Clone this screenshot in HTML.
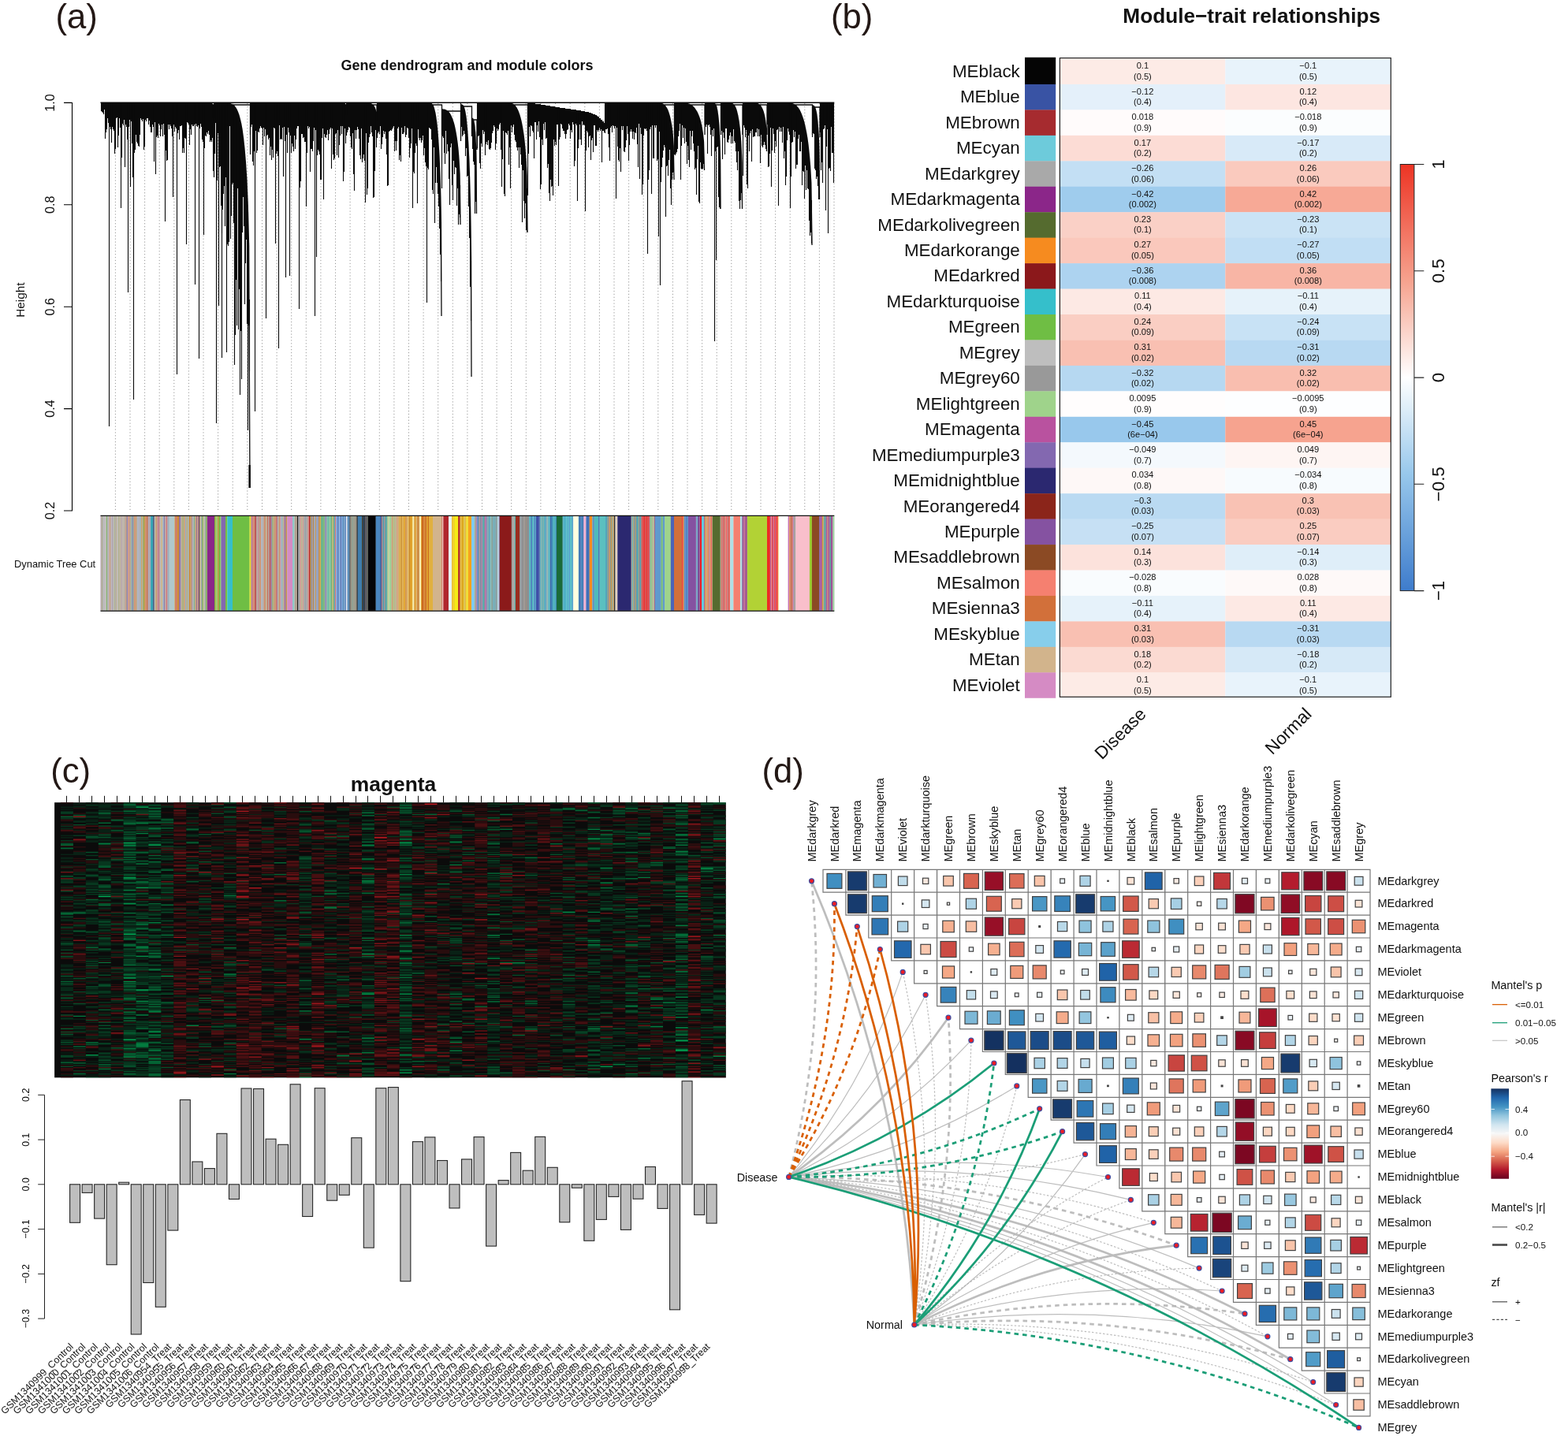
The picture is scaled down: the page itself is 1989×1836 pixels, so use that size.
<!DOCTYPE html>
<html lang="en"><head><meta charset="utf-8"><title>WGCNA figure</title>
<style>html,body{margin:0;padding:0;background:#fff;width:1989px;height:1836px;overflow:hidden}svg{display:block}text{font-family:"Liberation Sans",sans-serif;fill:#111}.pl{fill:#231815}</style></head>
<body>
<svg width="1989" height="1836" viewBox="0 0 1989 1836">
<rect width="1989" height="1836" fill="#fff"/>
<g class="pl" font-size="43.6"><text class="pl" x="70.4" y="36.3">(a)</text><text class="pl" x="1054" y="36.1">(b)</text><text class="pl" x="64.3" y="993.2">(c)</text><text class="pl" x="966.6" y="992.5">(d)</text></g>
<g id="pa"><path d="M146.4 131V648M165 131V648M183.6 131V648M202.2 131V648M220.8 131V648M239.4 131V648M258 131V648M276.6 131V648M295.2 131V648M313.8 131V648M332.5 131V648M351.1 131V648M369.7 131V648M388.3 131V648M406.9 131V648M425.5 131V648M444.1 131V648M462.7 131V648M481.3 131V648M499.9 131V648M518.5 131V648M537.1 131V648M555.7 131V648M574.3 131V648M592.9 131V648M611.5 131V648M630.1 131V648M648.7 131V648M667.3 131V648M685.9 131V648M704.6 131V648M723.2 131V648M741.8 131V648M760.4 131V648M779 131V648M797.6 131V648M816.2 131V648M834.8 131V648M853.4 131V648M872 131V648M890.6 131V648M909.2 131V648M927.8 131V648M946.4 131V648M965 131V648M983.6 131V648M1002.2 131V648M1020.8 131V648M1039.4 131V648M1058 131V648" stroke="#969696" stroke-width="1" stroke-dasharray="1.2 2.7" fill="none"/>
<path d="M128.5 131V141M129.5 131V142M130.5 131V143M131.5 131V145M132.5 131V139M133.5 131V176M134.5 131V168M135.5 131V164M136.5 131V150M137.5 131V156M138.5 131V160M139.5 131V161M140.5 131V164M141.5 131V162M142.5 131V161M143.5 131V164M144.5 131V166M145.5 131V195M146.5 131V189M147.5 131V150M148.5 131V149M149.5 131V187M150.5 131V172M151.5 131V150M152.5 131V162M153.5 131V210M154.5 131V200M155.5 131V157M156.5 131V159M157.5 131V152M158.5 131V212M159.5 131V158M160.5 131V161M161.5 131V177M162.5 131V180M163.5 131V161M164.5 131V152M165.5 131V153M166.5 131V154M167.5 131V182M168.5 131V225M169.5 131V227M170.5 131V194M171.5 131V190M172.5 131V171M173.5 131V180M174.5 131V182M175.5 131V185M176.5 131V186M177.5 131V171M178.5 131V150M179.5 131V152M180.5 131V154M181.5 131V151M182.5 131V190M183.5 131V186M184.5 131V152M185.5 131V154M186.5 131V150M187.5 131V150M188.5 131V158M189.5 131V153M190.5 131V161M191.5 131V168M192.5 131V168M193.5 131V158M194.5 131V161M195.5 131V161M196.5 131V155M197.5 131V221M198.5 131V174M199.5 131V172M200.5 131V175M201.5 131V157M202.5 131V159M203.5 131V173M204.5 131V164M205.5 131V158M206.5 131V173M207.5 131V157M208.5 131V171M209.5 131V198M210.5 131V191M211.5 131V204M212.5 131V203M213.5 131V158M214.5 131V164M215.5 131V158M216.5 131V160M217.5 131V163M218.5 131V173M219.5 131V159M220.5 131V158M221.5 131V167M222.5 131V161M223.5 131V163M224.5 131V160M225.5 131V169M226.5 131V165M227.5 131V177M228.5 131V160M229.5 131V160M230.5 131V159M231.5 131V194M232.5 131V188M233.5 131V194M234.5 131V175M235.5 131V176M236.5 131V171M237.5 131V155M238.5 131V156M239.5 131V158M240.5 131V184M241.5 131V164M242.5 131V171M243.5 131V158M244.5 131V160M245.5 131V160M246.5 131V158M247.5 131V157M248.5 131V157M249.5 131V160M250.5 131V161M251.5 131V159M252.5 131V156M253.5 131V163M254.5 131V157M255.5 131V161M256.5 131V177M257.5 131V180M258.5 131V179M259.5 131V188M260.5 131V172M261.5 131V173M262.5 131V168M263.5 131V170M264.5 131V166M265.5 131V171M266.5 131V180M267.5 131V178M268.5 131V180M269.5 133V175M270.5 150V217M271.5 131V224M272.5 131V195M273.5 131V156M274.5 131V201M275.5 131V229M276.5 131V169M277.5 131V294M278.5 131V212M279.5 131V211M280.5 131V261M281.5 131V296M282.5 131V266M283.5 131V246M284.5 131V236M285.5 131V236M286.5 131V225M287.5 131V254M288.5 131V310M289.5 131V312M290.5 131V307M291.5 131V160M292.5 132V303M293.5 132V274M294.5 133V234M295.5 133V232M296.5 134V283M297.5 135V337M298.5 136V168M299.5 138V355M300.5 140V413M301.5 142V239M302.5 145V418M303.5 148V367M304.5 152V297M305.5 156V420M306.5 162V217M307.5 168V295M308.5 175V250M309.5 184V287M310.5 195V386M311.5 207V334M312.5 223V304M313.5 243V411M314.5 269V546M315.5 308V413M316.5 380V471M317.5 131V196M318.5 131V161M319.5 131V158M320.5 131V205M321.5 131V210M322.5 131V192M323.5 131V193M324.5 131V166M325.5 131V194M326.5 131V191M327.5 131V167M328.5 131V168M329.5 131V163M330.5 131V160M331.5 131V162M332.5 131V163M333.5 131V184M334.5 131V162M335.5 131V173M336.5 131V164M337.5 131V162M338.5 131V172M339.5 131V171M340.5 131V177M341.5 131V175M342.5 131V197M343.5 131V186M344.5 131V203M345.5 131V190M346.5 131V200M347.5 131V162M348.5 131V163M349.5 131V164M350.5 131V195M351.5 131V192M352.5 131V198M353.5 131V183M354.5 131V159M355.5 131V177M356.5 131V176M357.5 131V177M358.5 131V162M359.5 131V224M360.5 131V161M361.5 131V179M362.5 131V168M363.5 131V171M364.5 131V194M365.5 131V162M366.5 131V168M367.5 131V166M368.5 131V172M369.5 131V194M370.5 131V182M371.5 131V186M372.5 131V192M373.5 131V172M374.5 131V189M375.5 131V177M376.5 131V163M377.5 131V160M378.5 131V160M379.5 131V185M380.5 131V238M381.5 131V230M382.5 131V170M383.5 131V170M384.5 131V175M385.5 131V174M386.5 131V180M387.5 131V180M388.5 131V185M389.5 131V194M390.5 131V160M391.5 131V163M392.5 131V161M393.5 131V218M394.5 131V189M395.5 131V189M396.5 131V192M397.5 131V179M398.5 131V162M399.5 131V161M400.5 131V165M401.5 131V162M402.5 131V197M403.5 131V190M404.5 131V192M405.5 131V196M406.5 131V228M407.5 131V228M408.5 131V175M409.5 131V163M410.5 131V160M411.5 131V170M412.5 131V174M413.5 131V175M414.5 131V171M415.5 131V165M416.5 131V178M417.5 131V170M418.5 131V164M419.5 131V162M420.5 131V165M421.5 131V163M422.5 131V196M423.5 131V203M424.5 131V201M425.5 131V170M426.5 131V169M427.5 131V197M428.5 131V165M429.5 131V200M430.5 131V184M431.5 131V172M432.5 131V160M433.5 131V170M434.5 131V160M435.5 131V217M436.5 131V218M437.5 132V163M438.5 135V182M439.5 131V172M440.5 131V168M441.5 131V165M442.5 131V161M443.5 131V162M444.5 131V173M445.5 131V187M446.5 131V189M447.5 131V169M448.5 131V221M449.5 131V242M450.5 131V165M451.5 131V176M452.5 131V165M453.5 131V161M454.5 131V164M455.5 131V176M456.5 131V197M457.5 131V202M458.5 131V163M459.5 131V206M460.5 131V201M461.5 131V196M462.5 131V204M463.5 131V166M464.5 131V169M465.5 131V247M466.5 131V239M467.5 131V181M468.5 131V174M469.5 131V170M470.5 132V160M471.5 132V168M472.5 133V173M473.5 134V251M474.5 135V250M475.5 138V174M476.5 141V165M477.5 154V187M478.5 131V175M479.5 131V169M480.5 131V167M481.5 131V170M482.5 131V160M483.5 131V189M484.5 131V183M485.5 131V174M486.5 131V166M487.5 131V170M488.5 131V167M489.5 131V176M490.5 131V196M491.5 131V236M492.5 131V235M493.5 131V167M494.5 131V166M495.5 131V165M496.5 131V166M497.5 131V164M498.5 131V162M499.5 131V160M500.5 131V192M501.5 131V179M502.5 131V191M503.5 131V179M504.5 131V163M505.5 131V161M506.5 131V184M507.5 131V197M508.5 131V205M509.5 131V162M510.5 131V170M511.5 131V170M512.5 131V168M513.5 131V160M514.5 131V174M515.5 131V171M516.5 131V162M517.5 131V163M518.5 131V175M519.5 131V200M520.5 131V188M521.5 131V182M522.5 131V163M523.5 131V192M524.5 131V218M525.5 131V220M526.5 131V194M527.5 131V182M528.5 131V185M529.5 131V166M530.5 131V164M531.5 131V175M532.5 131V178M533.5 131V175M534.5 131V181M535.5 131V178M536.5 131V172M537.5 131V197M538.5 131V188M539.5 131V206M540.5 131V211M541.5 131V171M542.5 131V213M543.5 131V215M544.5 131V162M545.5 131V163M546.5 131V164M547.5 132V177M548.5 133V241M549.5 135V246M550.5 138V187M551.5 142V283M552.5 147V232M553.5 154V212M554.5 163V232M555.5 175V246M556.5 190V262M557.5 211V290M558.5 240V323M559.5 291V357M560.5 139V239M561.5 139V173M562.5 139V175M563.5 139V194M564.5 139V208M565.5 140V166M566.5 140V195M567.5 141V183M568.5 142V192M569.5 143V227M570.5 145V260M571.5 146V187M572.5 148V182M573.5 151V218M574.5 154V254M575.5 157V204M576.5 161V221M577.5 165V212M578.5 171V213M579.5 178V261M580.5 186V239M581.5 196V279M582.5 210V272M583.5 235V276M584.5 131V167M585.5 133V161M586.5 133V173M587.5 134V171M588.5 137V166M589.5 140V170M590.5 146V198M591.5 154V188M592.5 164V224M593.5 179V223M594.5 198V262M595.5 224V302M596.5 262V364M597.5 331V407M598.5 150V169M599.5 150V189M600.5 152V205M601.5 157V209M602.5 167V256M603.5 186V256M604.5 271V271M605.5 131V188M606.5 131V173M607.5 131V172M608.5 131V207M609.5 131V214M610.5 131V182M611.5 131V186M612.5 131V165M613.5 131V170M614.5 131V167M615.5 131V161M616.5 131V183M617.5 131V180M618.5 131V184M619.5 131V178M620.5 131V189M621.5 131V190M622.5 131V188M623.5 131V181M624.5 131V169M625.5 131V166M626.5 131V159M627.5 131V161M628.5 131V190M629.5 131V182M630.5 131V163M631.5 131V166M632.5 131V164M633.5 131V158M634.5 131V156M635.5 131V159M636.5 131V237M637.5 131V202M638.5 131V166M639.5 131V246M640.5 131V249M641.5 131V168M642.5 131V169M643.5 131V171M644.5 131V166M645.5 131V209M646.5 131V187M647.5 131V239M648.5 131V159M649.5 132V168M650.5 132V161M651.5 133V158M652.5 134V171M653.5 135V178M654.5 136V180M655.5 138V187M656.5 140V191M657.5 142V187M658.5 145V203M659.5 148V187M660.5 152V196M661.5 156V209M662.5 161V282M663.5 168V216M664.5 175V255M665.5 184V277M666.5 196V258M667.5 212V292M668.5 239V285M669.5 131V248M670.5 131V195M671.5 131V161M672.5 131V173M673.5 131V159M674.5 131V160M675.5 131V166M676.5 131V168M677.5 131V201M678.5 131V155M679.5 132V155M680.5 132V177M681.5 132V159M682.5 132V167M683.5 132V154M684.5 132V174M685.5 132V240M686.5 133V234M687.5 133V177M688.5 133V184M689.5 133V157M690.5 133V165M691.5 133V155M692.5 134V176M693.5 134V175M694.5 134V213M695.5 134V208M696.5 134V245M697.5 134V255M698.5 135V228M699.5 135V237M700.5 135V236M701.5 135V248M702.5 135V177M703.5 135V185M704.5 136V180M705.5 136V184M706.5 136V158M707.5 136V158M708.5 136V236M709.5 136V177M710.5 137V174M711.5 137V157M712.5 137V158M713.5 137V163M714.5 137V166M715.5 137V166M716.5 137V170M717.5 138V176M718.5 138V170M719.5 138V165M720.5 138V164M721.5 138V157M722.5 138V159M723.5 138V176M724.5 139V165M725.5 139V168M726.5 139V155M727.5 139V158M728.5 139V211M729.5 139V204M730.5 139V157M731.5 140V159M732.5 140V155M733.5 140V188M734.5 140V177M735.5 140V158M736.5 140V177M737.5 141V184M738.5 141V154M739.5 141V159M740.5 141V158M741.5 141V159M742.5 142V156M743.5 142V191M744.5 142V166M745.5 142V168M746.5 142V187M747.5 143V173M748.5 143V172M749.5 143V203M750.5 144V178M751.5 144V175M752.5 145V193M753.5 145V159M754.5 145V159M755.5 146V185M756.5 146V185M757.5 147V165M758.5 148V167M759.5 148V165M760.5 150V162M761.5 150V166M762.5 152V164M763.5 152V178M764.5 154V166M765.5 154V166M766.5 156V168M767.5 131V169M768.5 131V164M769.5 131V164M770.5 131V163M771.5 131V170M772.5 131V187M773.5 131V188M774.5 131V162M775.5 131V160M776.5 131V168M777.5 131V159M778.5 131V160M779.5 131V163M780.5 131V160M781.5 131V252M782.5 131V162M783.5 131V186M784.5 131V164M785.5 131V205M786.5 131V188M787.5 131V218M788.5 131V160M789.5 131V165M790.5 131V160M791.5 131V192M792.5 131V193M793.5 131V187M794.5 131V178M795.5 131V160M796.5 131V170M797.5 131V177M798.5 131V184M799.5 131V167M800.5 131V164M801.5 131V167M802.5 131V176M803.5 131V167M804.5 131V177M805.5 131V168M806.5 131V169M807.5 131V162M808.5 131V183M809.5 131V212M810.5 131V157M811.5 131V227M812.5 131V162M813.5 131V170M814.5 131V247M815.5 131V234M816.5 131V172M817.5 131V163M818.5 131V164M819.5 131V163M820.5 131V166M821.5 131V171M822.5 131V228M823.5 131V216M824.5 131V164M825.5 131V161M826.5 131V170M827.5 131V159M828.5 131V201M829.5 131V201M830.5 131V159M831.5 131V162M832.5 131V159M833.5 131V204M834.5 131V202M835.5 131V244M836.5 131V167M837.5 131V216M838.5 131V231M839.5 132V212M840.5 132V200M841.5 133V191M842.5 133V184M843.5 134V187M844.5 136V191M845.5 137V211M846.5 139V210M847.5 142V223M848.5 145V203M849.5 148V190M850.5 153V239M851.5 158V260M852.5 165V214M853.5 175V219M854.5 192V218M855.5 131V196M856.5 131V197M857.5 131V195M858.5 131V193M859.5 131V189M860.5 131V173M861.5 131V166M862.5 131V157M863.5 131V176M864.5 131V185M865.5 131V159M866.5 131V175M867.5 131V162M868.5 131V182M869.5 131V163M870.5 131V180M871.5 131V208M872.5 132V185M873.5 132V203M874.5 132V212M875.5 133V166M876.5 133V190M877.5 134V173M878.5 135V166M879.5 136V182M880.5 137V192M881.5 138V215M882.5 140V213M883.5 141V187M884.5 143V202M885.5 145V185M886.5 148V256M887.5 151V258M888.5 154V206M889.5 159V214M890.5 164V215M891.5 171V214M892.5 180V208M893.5 216V216M894.5 131V159M895.5 131V161M896.5 131V158M897.5 131V195M898.5 131V159M899.5 131V158M900.5 131V161M901.5 131V171M902.5 131V198M903.5 131V165M904.5 131V173M905.5 131V163M906.5 131V160M907.5 133V192M908.5 135V179M909.5 139V187M910.5 145V186M911.5 155V250M912.5 171V263M913.5 200V265M914.5 131V164M915.5 131V166M916.5 131V202M917.5 131V168M918.5 131V175M919.5 131V196M920.5 131V163M921.5 131V163M922.5 131V180M923.5 131V181M924.5 131V177M925.5 131V172M926.5 131V168M927.5 131V182M928.5 131V173M929.5 132V182M930.5 133V164M931.5 134V179M932.5 136V181M933.5 138V192M934.5 141V206M935.5 146V216M936.5 151V192M937.5 157V255M938.5 166V220M939.5 178V254M940.5 196V245M941.5 265V265M942.5 131V223M943.5 131V159M944.5 131V162M945.5 131V174M946.5 131V165M947.5 131V234M948.5 131V239M949.5 131V172M950.5 131V192M951.5 131V169M952.5 131V166M953.5 131V205M954.5 131V164M955.5 131V174M956.5 131V173M957.5 131V173M958.5 131V168M959.5 131V168M960.5 131V163M961.5 132V173M962.5 132V164M963.5 133V173M964.5 134V175M965.5 136V171M966.5 138V185M967.5 140V187M968.5 143V184M969.5 147V180M970.5 152V184M971.5 161V189M972.5 192V192M973.5 131V158M974.5 131V212M975.5 131V211M976.5 131V195M977.5 131V162M978.5 131V181M979.5 131V191M980.5 131V163M981.5 131V170M982.5 131V194M983.5 131V179M984.5 131V186M985.5 131V165M986.5 131V164M987.5 131V261M988.5 131V161M989.5 131V167M990.5 131V162M991.5 131V167M992.5 131V181M993.5 131V161M994.5 131V201M995.5 131V192M996.5 131V235M997.5 131V224M998.5 131V178M999.5 131V163M1000.5 131V167M1001.5 131V171M1002.5 131V221M1003.5 131V224M1004.5 131V181M1005.5 132V180M1006.5 132V165M1007.5 133V174M1008.5 133V167M1009.5 134V207M1010.5 135V209M1011.5 136V209M1012.5 137V176M1013.5 139V171M1014.5 141V192M1015.5 143V192M1016.5 145V180M1017.5 148V235M1018.5 151V217M1019.5 154V218M1020.5 158V252M1021.5 163V210M1022.5 168V241M1023.5 174V216M1024.5 180V239M1025.5 188V240M1026.5 198V280M1027.5 210V299M1028.5 227V295M1029.5 254V309M1030.5 134V174M1031.5 134V169M1032.5 135V170M1033.5 136V214M1034.5 139V216M1035.5 144V227M1036.5 151V224M1037.5 161V236M1038.5 179V241M1039.5 253V253M1040.5 131V168M1041.5 131V216M1042.5 131V206M1043.5 131V164M1044.5 131V164M1045.5 131V163M1046.5 131V159M1047.5 131V185M1048.5 131V186M1049.5 131V164M1050.5 131V211M1051.5 131V214M1052.5 131V213M1053.5 131V202M1054.5 131V161M1055.5 131V194M1056.5 131V194M1057.5 131V232" stroke="#0a0a0a" stroke-width="1.1" fill="none"/>
<path d="M268 131L268.1 131L268.2 131L268.3 131L268.4 131.1L268.5 131.1L268.6 131.2L268.7 131.3L268.8 131.4L268.9 131.5L269 131.7L269.1 131.9L269.2 132.1L269.4 132.4L269.5 132.8L269.6 133.2L269.7 133.7L269.8 134.2L269.9 134.9L270 135.7L270.1 136.6L270.2 137.8L270.3 139.4L270.4 141.7L270.5 150M268 133H271V150M283 131L284.4 131L285.8 131L287.2 131L288.7 131.1L290.1 131.2L291.5 131.5L292.9 131.9L294.3 132.5L295.8 133.4L297.2 134.7L298.6 136.5L300 138.8L301.4 141.9L302.8 145.8L304.2 150.8L305.7 157.1L307.1 165.1L308.5 175.3L309.9 188.2L311.3 205L312.8 227.6L314.2 259.7L315.6 312L317 619M283 133H317.5V171M436 131L436.1 131L436.2 131L436.4 131L436.5 131L436.6 131.1L436.8 131.1L436.9 131.2L437 131.3L437.1 131.4L437.2 131.5L437.4 131.7L437.5 131.9L437.6 132.1L437.8 132.4L437.9 132.7L438 133.1L438.1 133.5L438.2 134.1L438.4 134.7L438.5 135.4L438.6 136.4L438.8 137.6L438.9 139.4L439 146M436 133H439.5V146M466 131L466.5 131L467 131L467.4 131L467.9 131.1L468.4 131.1L468.9 131.2L469.4 131.3L469.8 131.4L470.3 131.6L470.8 131.8L471.3 132.1L471.8 132.4L472.2 132.7L472.7 133.2L473.2 133.6L473.7 134.2L474.1 134.9L474.6 135.7L475.1 136.6L475.6 137.8L476.1 139.2L476.5 141.1L477 143.9L477.5 154M466 133H478V154M545 131L545.6 131L546.2 131.1L546.9 131.4L547.5 131.8L548.1 132.5L548.8 133.4L549.4 134.6L550 136.2L550.6 138.2L551.2 140.7L551.9 143.7L552.5 147.2L553.1 151.4L553.8 156.3L554.4 162.1L555 168.8L555.6 176.7L556.2 186.1L556.9 197.2L557.5 210.7L558.1 227.6L558.8 249.7L559.4 282.4L560 401M545 133H560.5V171M560.5 139L561.5 139L562.5 139.1L563.4 139.2L564.4 139.4L565.4 139.8L566.4 140.3L567.4 141L568.3 141.8L569.3 142.9L570.3 144.2L571.3 145.8L572.2 147.8L573.2 150L574.2 152.7L575.2 155.8L576.2 159.4L577.1 163.7L578.1 168.8L579.1 174.8L580.1 182.1L581.1 191.2L582 203.2L583 220.9L584 285M560.5 141H584.5V179M585 133L585.5 133L586.1 133.2L586.6 133.5L587.2 134L587.7 134.9L588.2 136L588.8 137.6L589.3 139.7L589.9 142.3L590.4 145.4L591 149.2L591.5 153.7L592 159.1L592.6 165.3L593.1 172.7L593.7 181.3L594.2 191.4L594.8 203.4L595.3 217.6L595.8 234.9L596.4 256.4L596.9 284.7L597.5 326.4L598 478M585 135H598.5V173M598.5 150L598.8 150L599 150.1L599.2 150.2L599.5 150.4L599.8 150.7L600 151.1L600.2 151.6L600.5 152.3L600.8 153.2L601 154.3L601.2 155.7L601.5 157.3L601.8 159.1L602 161.3L602.2 163.9L602.5 166.9L602.8 170.5L603 174.7L603.2 179.7L603.5 185.7L603.8 193.3L604 203.2L604.2 217.8L604.5 271M598.5 152H605V190M645 131L646 131L647 131.1L648 131.2L649 131.5L650 131.9L651 132.4L652 133.2L653 134.2L654 135.4L655 136.9L656 138.7L657 140.8L658 143.4L659 146.4L660 149.9L661 154L662 158.8L663 164.5L664 171.2L665 179.4L666 189.7L667 203.1L668 222.9L669 295M645 133H669.5V171M835.5 131L836.3 131L837.1 131L837.9 131.1L838.8 131.3L839.6 131.5L840.4 131.9L841.2 132.3L842 132.9L842.8 133.6L843.6 134.5L844.4 135.6L845.2 136.8L846.1 138.3L846.9 140.1L847.7 142.2L848.5 144.6L849.3 147.4L850.1 150.8L850.9 154.8L851.8 159.6L852.6 165.7L853.4 173.6L854.2 185.4L855 228M835.5 133H855.5V171M866 131L867.1 131L868.3 131L869.4 131.1L870.6 131.3L871.7 131.5L872.9 131.8L874 132.1L875.2 132.6L876.3 133.3L877.5 134.1L878.6 135L879.8 136.1L880.9 137.4L882 139L883.2 140.8L884.3 142.9L885.5 145.4L886.6 148.3L887.8 151.8L888.9 156.1L890.1 161.4L891.2 168.4L892.4 178.7L893.5 216M866 133H894V171M905 131L905.4 131L905.8 131.1L906.1 131.2L906.5 131.4L906.9 131.7L907.2 132.2L907.6 132.8L908 133.6L908.4 134.6L908.8 135.8L909.1 137.3L909.5 139L909.9 141.1L910.2 143.6L910.6 146.4L911 149.8L911.4 153.7L911.8 158.3L912.1 163.9L912.5 170.6L912.9 178.9L913.2 189.9L913.6 206.1L914 265M905 133H914.5V171M926 131L926.6 131L927.3 131.1L927.9 131.2L928.6 131.4L929.2 131.7L929.9 132.2L930.5 132.8L931.2 133.6L931.8 134.6L932.5 135.8L933.1 137.3L933.8 139L934.4 141.1L935 143.6L935.7 146.4L936.3 149.8L937 153.7L937.6 158.3L938.3 163.9L938.9 170.6L939.6 178.9L940.2 189.9L940.9 206.1L941.5 265M926 133H942V171M957 131L957.6 131L958.3 131L958.9 131.1L959.6 131.2L960.2 131.3L960.9 131.5L961.5 131.8L962.2 132.2L962.8 132.6L963.5 133.2L964.1 133.9L964.8 134.7L965.4 135.6L966 136.7L966.7 138L967.3 139.5L968 141.3L968.6 143.4L969.3 146L969.9 149L970.6 152.8L971.2 157.8L971.9 165.2L972.5 192M957 133H973V171M1000 131L1001.2 131L1002.5 131.1L1003.8 131.2L1005 131.5L1006.2 132L1007.5 132.6L1008.8 133.4L1010 134.5L1011.2 135.8L1012.5 137.5L1013.8 139.4L1015 141.8L1016.2 144.6L1017.5 147.9L1018.8 151.7L1020 156.2L1021.2 161.5L1022.5 167.7L1023.8 175.1L1025 184.1L1026.2 195.4L1027.5 210.1L1028.8 231.9L1030 311M1000 133H1030.5V171M1030.5 134L1030.9 134L1031.2 134.1L1031.6 134.2L1032 134.4L1032.4 134.6L1032.8 135.1L1033.1 135.6L1033.5 136.3L1033.9 137.2L1034.2 138.3L1034.6 139.6L1035 141.1L1035.4 143L1035.8 145.2L1036.1 147.7L1036.5 150.7L1036.9 154.2L1037.2 158.3L1037.6 163.2L1038 169.1L1038.4 176.6L1038.8 186.3L1039.1 200.7L1039.5 253M1030.5 136H1040V174" stroke="#0a0a0a" stroke-width="1.3" fill="none"/>
<path d="M138.5 131V541M141.5 131V181M153.5 131V264M162.5 131V371M165.5 131V237M169.5 131V507M195.5 131V205M209.5 131V281M219.5 131V250M224.5 131V475M236.5 131V310M247.5 131V361M252.5 131V455M258.5 131V298M271.5 131V225M274.5 131V537M277.5 131V388M281.5 131V454M287.5 131V447M285.5 131V287M297.5 135V463M298.5 136V425M304.5 152V501M306.5 162V481M323.5 131V522M337.5 131V404M349.5 131V309M353.5 131V442M362.5 131V352M367.5 131V350M379.5 131V392M388.5 131V262M399.5 131V401M401.5 131V326M410.5 131V253M420.5 131V214M435.5 131V230M463.5 131V257M475.5 138V217M506.5 131V203M523.5 131V264M529.5 131V258M541.5 131V384M573.5 151V235M581.5 196V285M583.5 235V270M602.5 167V271M615.5 131V197M635.5 131V190M658.5 145V213M668.5 239V294M708.5 136V203M732.5 140V255M742.5 142V268M763.5 152V206M773.5 131V204M784.5 131V203M797.5 131V204M821.5 131V322M826.5 131V246M835.5 131V300M837.5 131V362M844.5 136V275M852.5 165V228M863.5 131V228M883.5 141V247M893.5 210V215M906.5 131V433M908.5 135V330M912.5 171V263M938.5 166V265M964.5 134V207M978.5 131V237M1002.5 131V264M1009.5 134V214M1038.5 179V253M1043.5 131V232M1047.5 131V267M1050.5 131V296M1053.5 131V217M1056.5 131V192" stroke="#0a0a0a" stroke-width="1.1" fill="none"/>
<path d="M316.6 590V619" stroke="#0a0a0a" stroke-width="2.4"/>
<path d="M127.5 130.3H1058.3" stroke="#0a0a0a" stroke-width="1.6"/>
<path d="M91.5 130V648.5M81 130.4H91.5M81 259.8H91.5M81 389.2H91.5M81 518.6H91.5M81 648H91.5" stroke="#000" stroke-width="1.1" fill="none"/>
<text transform="translate(68.5 130.4) rotate(-90)" text-anchor="middle" font-size="16.2">1.0</text>
<text transform="translate(68.5 259.8) rotate(-90)" text-anchor="middle" font-size="16.2">0.8</text>
<text transform="translate(68.5 389.2) rotate(-90)" text-anchor="middle" font-size="16.2">0.6</text>
<text transform="translate(68.5 518.6) rotate(-90)" text-anchor="middle" font-size="16.2">0.4</text>
<text transform="translate(68.5 648) rotate(-90)" text-anchor="middle" font-size="16.2">0.2</text>
<text transform="translate(31.2 380.6) rotate(-90)" text-anchor="middle" font-size="15.4">Height</text>
<text x="592.6" y="88.6" text-anchor="middle" font-size="18" font-weight="bold">Gene dendrogram and module colors</text>
<text x="18" y="719.5" font-size="12.9">Dynamic Tree Cut</text><g stroke-width="120.9" fill="none">
<path stroke="#AF9CAF" d="M127.5 714.8h1.35M131.4 714.8h1.15M135.8 714.8h0.95M141.3 714.8h1.65M153.6 714.8h1.35"/>
<path stroke="#B0B08C" d="M128.7 714.8h1.35M133.6 714.8h0.95M144.4 714.8h1.65M149.6 714.8h2.15"/>
<path stroke="#B3B3B3" d="M129.9 714.8h1.65M132.4 714.8h1.35M134.4 714.8h0.75M136.6 714.8h2.15M140.1 714.8h1.35M142.8 714.8h0.95M143.6 714.8h0.95M145.9 714.8h1.15M148.4 714.8h1.35M155.6 714.8h1.15M158.1 714.8h0.95M161.8 714.8h0.95M178.2 714.8h0.95M195.3 714.8h1.15M205.4 714.8h1.15M212 714.8h1.15M325.1 714.8h2.15M355.6 714.8h1.15"/>
<path stroke="#78B060" d="M135 714.8h0.95"/>
<path stroke="#CA9C81" d="M138.6 714.8h1.65M158.9 714.8h1.25"/>
<path stroke="#BBAD9B" d="M146.9 714.8h1.65M151.6 714.8h2.15M154.8 714.8h0.95M156.6 714.8h1.65"/>
<path stroke="#A7A795" d="M160 714.8h0.95M196.3 714.8h1.15M913.5 714.8h1.35M918.7 714.8h1.15"/>
<path stroke="#9175A9" d="M160.8 714.8h1.15M167.6 714.8h1.35M175.6 714.8h0.95M187.5 714.8h1.15M190.5 714.8h0.65M199.6 714.8h1.15M207.9 714.8h1.15M226.9 714.8h1.15M227.9 714.8h1.65M243.2 714.8h1.15M248.9 714.8h1.15M318.8 714.8h0.95M343.3 714.8h1.65M351.3 714.8h0.95M360.6 714.8h2.15"/>
<path stroke="#D48D70" d="M162.6 714.8h2.15M169.6 714.8h2.15M184 714.8h1.65M198.8 714.8h0.95M209.7 714.8h0.95M234.2 714.8h0.95M249.9 714.8h1.15M321.1 714.8h2.15M330.1 714.8h1.35M334.5 714.8h1.65M349.1 714.8h1.35"/>
<path stroke="#949DAF" d="M164.6 714.8h1.15"/>
<path stroke="#CB9942" d="M165.6 714.8h0.95M179 714.8h0.95M183 714.8h1.15M204.4 714.8h1.15"/>
<path stroke="#73A0B1" d="M166.4 714.8h1.35M177.2 714.8h1.15"/>
<path stroke="#83AD8F" d="M168.8 714.8h0.95M214.5 714.8h0.65M231.4 714.8h1.35M237.5 714.8h1.15M245.4 714.8h2.15"/>
<path stroke="#C29B71" d="M171.6 714.8h2.15M197.3 714.8h1.65M233.4 714.8h0.95M241.2 714.8h2.15M247.4 714.8h1.65M317.8 714.8h1.15M328.9 714.8h1.35M336 714.8h1.65M347.6 714.8h1.65"/>
<path stroke="#A9A9A9" d="M173.6 714.8h1.15M188.5 714.8h2.15M202.1 714.8h1.65M208.9 714.8h0.95M229.4 714.8h1.15M244.2 714.8h1.35M328.1 714.8h0.95M332.5 714.8h0.95M337.5 714.8h0.95M352.1 714.8h1.65"/>
<path stroke="#9BACC0" d="M174.6 714.8h1.15M206.4 714.8h1.65M213 714.8h1.65M235 714.8h1.65M238.5 714.8h1.35M250.9 714.8h0.95M331.3 714.8h1.35M356.6 714.8h2.15"/>
<path stroke="#BAB5AC" d="M176.4 714.8h0.95M179.8 714.8h1.35M203.6 714.8h0.95"/>
<path stroke="#A2AA65" d="M181 714.8h2.15"/>
<path stroke="#C27552" d="M185.5 714.8h2.15"/>
<path stroke="#3AA5B5" d="M191 714.8h3.45"/>
<path stroke="#203060" d="M194.3 714.8h1.15"/>
<path stroke="#CA7B82" d="M200.6 714.8h1.65M210.5 714.8h1.65M319.6 714.8h1.65M327.1 714.8h1.15M354.8 714.8h0.95M359.6 714.8h1.15"/>
<path stroke="#B0C8CC" d="M215 714.8h6.65"/>
<path stroke="#CC8833" d="M221.5 714.8h1.35M224.2 714.8h1.65M225.7 714.8h1.35M239.7 714.8h1.65M362.6 714.8h1.35"/>
<path stroke="#CB7171" d="M222.7 714.8h1.65M251.7 714.8h0.45M827.3 714.8h1.15"/>
<path stroke="#B39954" d="M230.4 714.8h1.15M232.6 714.8h0.95M236.5 714.8h1.15"/>
<path stroke="#702848" d="M252 714.8h1.35"/>
<path stroke="#9DC182" d="M253.2 714.8h1.15M257.5 714.8h1.15"/>
<path stroke="#CCAA7D" d="M254.2 714.8h0.95M258.5 714.8h1.15M262.7 714.8h0.45M895 714.8h2.15M902.7 714.8h1.25"/>
<path stroke="#9BADBF" d="M255 714.8h1.15M259.5 714.8h1.35"/>
<path stroke="#87AA65" d="M256 714.8h1.65M260.7 714.8h2.15"/>
<path stroke="#8B2689" d="M263 714.8h9.15"/>
<path stroke="#70B63D" d="M272 714.8h1.65M275.3 714.8h1.15M277.1 714.8h2.15M280.3 714.8h0.25"/>
<path stroke="#C19837" d="M273.5 714.8h0.95M399.4 714.8h0.95"/>
<path stroke="#85CB62" d="M274.3 714.8h1.15M279.1 714.8h1.35"/>
<path stroke="#DE7631" d="M276.3 714.8h0.95"/>
<path stroke="#8368B0" d="M280.4 714.8h5.75"/>
<path stroke="#77C043" d="M286 714.8h2.45"/>
<path stroke="#35BFCB" d="M288.3 714.8h6.85"/>
<path stroke="#6FBE44" d="M295 714.8h21.75"/>
<path stroke="#E8E020" d="M316.6 714.8h1.35"/>
<path stroke="#BB5454" d="M323.1 714.8h2.15M339.1 714.8h1.35M341.3 714.8h2.15M350.3 714.8h1.15"/>
<path stroke="#A79E95" d="M333.3 714.8h1.35M340.3 714.8h1.15M363.8 714.8h0.85"/>
<path stroke="#C2966A" d="M338.3 714.8h0.95M346.8 714.8h0.95M353.6 714.8h1.35"/>
<path stroke="#9FB084" d="M344.8 714.8h1.35M346 714.8h0.95M358.6 714.8h1.15"/>
<path stroke="#D58BC4" d="M364.5 714.8h6.65"/>
<path stroke="#8FC8C8" d="M371 714.8h2.65"/>
<path stroke="#B0A090" d="M373.5 714.8h3.65"/>
<path stroke="#181818" d="M377 714.8h1.45"/>
<path stroke="#9D9DA6" d="M378.3 714.8h2.15M386.5 714.8h2.15"/>
<path stroke="#B89D8B" d="M380.3 714.8h1.15M384.5 714.8h1.15M389.5 714.8h1.35M391.7 714.8h0.45"/>
<path stroke="#D28080" d="M381.3 714.8h1.15M383.5 714.8h1.15M390.7 714.8h1.15"/>
<path stroke="#A7B084" d="M382.3 714.8h1.35"/>
<path stroke="#909797" d="M385.5 714.8h1.15M388.5 714.8h1.15"/>
<path stroke="#C02020" d="M392 714.8h1.15"/>
<path stroke="#B38854" d="M393 714.8h2.15M396.2 714.8h2.15M400.2 714.8h1.15M403.5 714.8h2.15"/>
<path stroke="#8C9CC1" d="M395 714.8h1.35M398.2 714.8h1.35M401.2 714.8h0.95M402 714.8h1.65"/>
<path stroke="#DD8821" d="M405.5 714.8h0.95"/>
<path stroke="#CCA142" d="M406.3 714.8h0.85"/>
<path stroke="#74B174" d="M407 714.8h1.15M409 714.8h1.15M414.3 714.8h1.15M419.3 714.8h2.15M422.5 714.8h1.65"/>
<path stroke="#63BAA9" d="M408 714.8h1.15M415.3 714.8h2.15M418.3 714.8h1.15"/>
<path stroke="#83B983" d="M410 714.8h2.15M417.3 714.8h1.15"/>
<path stroke="#9393B8" d="M412 714.8h0.95M412.8 714.8h1.65"/>
<path stroke="#BAA963" d="M421.3 714.8h1.35"/>
<path stroke="#6B9DD2" d="M424 714.8h1.15M429 714.8h1.65M433.9 714.8h1.35"/>
<path stroke="#DC816F" d="M425 714.8h1.15M829.3 714.8h0.95"/>
<path stroke="#89ACDB" d="M426 714.8h1.65M430.5 714.8h1.35M432.7 714.8h1.35M436.3 714.8h1.15"/>
<path stroke="#5D7FC3" d="M427.5 714.8h1.65M438.1 714.8h1.05"/>
<path stroke="#4060A5" d="M431.7 714.8h1.15"/>
<path stroke="#4F85B3" d="M435.1 714.8h1.35M437.3 714.8h0.95"/>
<path stroke="#E8E8F0" d="M439 714.8h1.65"/>
<path stroke="#5B8DB8" d="M440.5 714.8h3.15"/>
<path stroke="#202020" d="M443.5 714.8h1.15"/>
<path stroke="#988F7E" d="M444.5 714.8h2.15M450.7 714.8h1.15"/>
<path stroke="#769987" d="M446.5 714.8h1.35M448.5 714.8h1.15"/>
<path stroke="#938877" d="M447.7 714.8h0.95M449.5 714.8h1.35M451.7 714.8h0.95"/>
<path stroke="#101010" d="M452.5 714.8h1.35"/>
<path stroke="#3F7CAC" d="M453.7 714.8h5.45"/>
<path stroke="#46462D" d="M459 714.8h1.15"/>
<path stroke="#373755" d="M460 714.8h0.95M463.5 714.8h1.15"/>
<path stroke="#274655" d="M460.8 714.8h1.35M466.3 714.8h0.85"/>
<path stroke="#3C3C44" d="M462 714.8h1.65M464.5 714.8h1.15"/>
<path stroke="#4B442D" d="M465.5 714.8h0.95"/>
<path stroke="#050508" d="M467 714.8h9.85"/>
<path stroke="#4A86BF" d="M476.7 714.8h5.45"/>
<path stroke="#4669A5" d="M482 714.8h2.15"/>
<path stroke="#BA7373" d="M484 714.8h1.35M487.2 714.8h1.35"/>
<path stroke="#5599AB" d="M485.2 714.8h2.15M490.4 714.8h0.75"/>
<path stroke="#4B9E9E" d="M488.4 714.8h2.15"/>
<path stroke="#9AC991" d="M491 714.8h1.65M495 714.8h1.65M499 714.8h1.35M501.2 714.8h1.15M505.2 714.8h0.45"/>
<path stroke="#D2B780" d="M492.5 714.8h1.15M498 714.8h1.15"/>
<path stroke="#9FD99F" d="M493.5 714.8h1.65"/>
<path stroke="#C29E7A" d="M496.5 714.8h1.65M500.2 714.8h1.15M502.2 714.8h1.65"/>
<path stroke="#DBA47F" d="M503.7 714.8h1.65"/>
<path stroke="#C18837" d="M505.5 714.8h0.95M507.1 714.8h0.95M508.7 714.8h1.65M518.7 714.8h1.35"/>
<path stroke="#E6B13F" d="M506.3 714.8h0.95M507.9 714.8h0.95M510.2 714.8h0.95M512.8 714.8h1.65M515.5 714.8h1.15M517.7 714.8h1.15M520.9 714.8h1.15M532.4 714.8h0.35"/>
<path stroke="#DCB86F" d="M511 714.8h0.95"/>
<path stroke="#DE9922" d="M511.8 714.8h1.15M519.9 714.8h1.15M521.9 714.8h1.55M525.6 714.8h2.15M528.4 714.8h1.15M537.6 714.8h1.15"/>
<path stroke="#C4782D" d="M514.3 714.8h1.35M529.4 714.8h2.15"/>
<path stroke="#D4A761" d="M516.5 714.8h1.35M524.6 714.8h1.15M527.6 714.8h0.95M531.4 714.8h1.15"/>
<path stroke="#F8F0A0" d="M523.3 714.8h1.45"/>
<path stroke="#FFFFC0" d="M532.6 714.8h1.55"/>
<path stroke="#E6A930" d="M534 714.8h0.95M541.8 714.8h1.35"/>
<path stroke="#CB691E" d="M534.8 714.8h2.15M536.8 714.8h0.95M538.6 714.8h2.15M543 714.8h1.15"/>
<path stroke="#D3871D" d="M540.6 714.8h1.35"/>
<path stroke="#E0B040" d="M544 714.8h5.15"/>
<path stroke="#D2B48C" d="M549 714.8h11.65"/>
<path stroke="#C03020" d="M560.5 714.8h1.05"/>
<path stroke="#F4E8E0" d="M561.4 714.8h1.05"/>
<path stroke="#B0272D" d="M562.3 714.8h6.85M581 714.8h2.65"/>
<path stroke="#E6F5FA" d="M569 714.8h4.15"/>
<path stroke="#E8B820" d="M573 714.8h1.65"/>
<path stroke="#F0D020" d="M574.5 714.8h2.45"/>
<path stroke="#F5EB16" d="M576.8 714.8h4.35"/>
<path stroke="#D9A01F" d="M583.5 714.8h1.15M585.5 714.8h1.65M589.5 714.8h1.15"/>
<path stroke="#E1B117" d="M584.5 714.8h1.15M587 714.8h1.65M590.5 714.8h1.15M592.5 714.8h1.15"/>
<path stroke="#D5BB41" d="M588.5 714.8h1.15"/>
<path stroke="#F1E60A" d="M591.5 714.8h1.15M593.5 714.8h0.65"/>
<path stroke="#F9A11B" d="M594 714.8h4.15"/>
<path stroke="#7FCBEF" d="M598 714.8h4.45"/>
<path stroke="#D58741" d="M602.3 714.8h1.15M607.3 714.8h1.15"/>
<path stroke="#6398BA" d="M603.3 714.8h0.95M617.1 714.8h1.65"/>
<path stroke="#BA73A8" d="M604.1 714.8h1.35M611.1 714.8h1.15M615.1 714.8h2.15"/>
<path stroke="#4D87C4" d="M605.3 714.8h2.15M802.7 714.8h0.95M804.3 714.8h1.65M806.6 714.8h1.35"/>
<path stroke="#8686A0" d="M608.3 714.8h2.15"/>
<path stroke="#857B90" d="M610.3 714.8h0.95M614.1 714.8h1.15"/>
<path stroke="#55ABAB" d="M612.1 714.8h2.15M801.5 714.8h1.35M807.8 714.8h2.15M812 714.8h1.55"/>
<path stroke="#86A097" d="M618.6 714.8h1.15M623.2 714.8h0.95M624 714.8h1.65"/>
<path stroke="#54A1BB" d="M619.6 714.8h2.15M625.5 714.8h1.35M627.7 714.8h1.15M768 714.8h2.15M773.6 714.8h1.35M776.6 714.8h0.95"/>
<path stroke="#64B2B2" d="M621.6 714.8h0.95"/>
<path stroke="#74A9A9" d="M622.4 714.8h0.95M626.7 714.8h1.15M629.7 714.8h1.95"/>
<path stroke="#969696" d="M628.7 714.8h1.15M770.8 714.8h2.15"/>
<path stroke="#F0F0FF" d="M631.5 714.8h1.15"/>
<path stroke="#7090C0" d="M632.5 714.8h1.35"/>
<path stroke="#8B1A1A" d="M633.7 714.8h15.25"/>
<path stroke="#969F96" d="M648.8 714.8h1.65M651.3 714.8h1.35"/>
<path stroke="#A79595" d="M650.3 714.8h1.15"/>
<path stroke="#65AAA1" d="M652.5 714.8h0.95M653.3 714.8h0.85"/>
<path stroke="#9B2D1F" d="M654 714.8h5.15"/>
<path stroke="#909090" d="M659 714.8h1.65M661.7 714.8h1.15M662.7 714.8h2.15M665.7 714.8h1.35M669.9 714.8h1.15M670.9 714.8h0.25"/>
<path stroke="#868F98" d="M660.5 714.8h1.35M668.9 714.8h1.15"/>
<path stroke="#988F86" d="M664.7 714.8h1.15M666.9 714.8h2.15"/>
<path stroke="#62B1CB" d="M671 714.8h0.95M675.8 714.8h2.15M678.8 714.8h1.35"/>
<path stroke="#4FBBBB" d="M671.8 714.8h1.65M674.8 714.8h1.15M753.3 714.8h2.15M755.3 714.8h1.65M756.8 714.8h0.95M757.6 714.8h1.65M760.3 714.8h0.85M778.4 714.8h0.75"/>
<path stroke="#4178B9" d="M673.3 714.8h1.65M677.8 714.8h1.15M736.3 714.8h1.65"/>
<path stroke="#3F4FA8" d="M680 714.8h3.85"/>
<path stroke="#3C5AA5" d="M683.7 714.8h1.15M697.7 714.8h1.35"/>
<path stroke="#64A1B2" d="M684.7 714.8h1.15M692.5 714.8h1.15M694.5 714.8h1.15"/>
<path stroke="#52B2BF" d="M685.7 714.8h1.15M687.7 714.8h1.35M689.7 714.8h2.15M695.5 714.8h1.35M696.7 714.8h1.15M700.9 714.8h2.15M702.9 714.8h1.35M704.1 714.8h0.95"/>
<path stroke="#84A89F" d="M686.7 714.8h1.15M688.9 714.8h0.95M693.5 714.8h1.15"/>
<path stroke="#4188B9" d="M691.7 714.8h0.95M698.9 714.8h2.15M704.9 714.8h1.25"/>
<path stroke="#1A6B3A" d="M706 714.8h7.85"/>
<path stroke="#52A0CC" d="M713.7 714.8h1.15M715.9 714.8h1.15M718.7 714.8h1.15M721.2 714.8h2.15M725.2 714.8h1.65M726.7 714.8h0.65"/>
<path stroke="#4EBBC4" d="M714.7 714.8h1.35M716.9 714.8h0.95M717.7 714.8h1.15M719.7 714.8h1.65M723.2 714.8h2.15"/>
<path stroke="#FFFFE0" d="M727.2 714.8h6.75"/>
<path stroke="#4D92C4" d="M733.8 714.8h1.15M737.8 714.8h1.35M740.2 714.8h0.35"/>
<path stroke="#3C69AD" d="M734.8 714.8h1.65M739 714.8h1.35"/>
<path stroke="#F0B0D0" d="M740.4 714.8h3.15"/>
<path stroke="#4070B8" d="M743.4 714.8h4.45"/>
<path stroke="#F68B1F" d="M747.7 714.8h3.75"/>
<path stroke="#53A9C3" d="M751.3 714.8h1.15"/>
<path stroke="#4469AE" d="M752.3 714.8h1.15M759.1 714.8h1.35"/>
<path stroke="#5BC0C0" d="M761 714.8h7.15"/>
<path stroke="#75A998" d="M770 714.8h0.95M775.8 714.8h0.95"/>
<path stroke="#DE8731" d="M772.8 714.8h0.95M774.8 714.8h1.15M777.4 714.8h1.15"/>
<path stroke="#303030" d="M779 714.8h1.65"/>
<path stroke="#E0D0C0" d="M780.5 714.8h2.95"/>
<path stroke="#2B2870" d="M783.3 714.8h17.55"/>
<path stroke="#A89F85" d="M800.7 714.8h0.95M809.8 714.8h1.35"/>
<path stroke="#CD9933" d="M803.5 714.8h0.95M805.8 714.8h0.95M1042.5 714.8h2.15M1049.3 714.8h1.35"/>
<path stroke="#7586A9" d="M811 714.8h1.15"/>
<path stroke="#CC5252" d="M813.4 714.8h1.15M814.4 714.8h1.15M818.1 714.8h1.15M821.1 714.8h1.15"/>
<path stroke="#E63A3A" d="M815.4 714.8h1.35M816.6 714.8h1.65M819.1 714.8h2.15M822.1 714.8h1.15M823.1 714.8h0.65"/>
<path stroke="#975A87" d="M823.6 714.8h1.15M830.1 714.8h0.95"/>
<path stroke="#91C991" d="M824.6 714.8h1.35M825.8 714.8h1.65M828.3 714.8h1.15"/>
<path stroke="#609ACD" d="M830.9 714.8h1.35M832.1 714.8h1.15M833.1 714.8h1.15M834.1 714.8h0.95M834.9 714.8h1.65M836.4 714.8h1.35M837.6 714.8h1.15M840.6 714.8h1.15M841.6 714.8h1.65"/>
<path stroke="#73BA73" d="M838.6 714.8h2.15M843.1 714.8h0.55"/>
<path stroke="#9FD38B" d="M843.5 714.8h7.45"/>
<path stroke="#4B63B8" d="M850.8 714.8h4.35"/>
<path stroke="#D2703A" d="M855 714.8h10.35"/>
<path stroke="#ED1C24" d="M865.2 714.8h1.35M887.5 714.8h2.65"/>
<path stroke="#E08030" d="M866.4 714.8h1.45"/>
<path stroke="#5387C3" d="M867.7 714.8h0.95M869.5 714.8h1.65M871 714.8h1.65"/>
<path stroke="#4477BC" d="M868.5 714.8h1.15M872.5 714.8h0.65"/>
<path stroke="#8552A1" d="M873 714.8h9.85"/>
<path stroke="#7D4D97" d="M882.7 714.8h0.95M884.5 714.8h2.15M886.5 714.8h1.15"/>
<path stroke="#52BACC" d="M883.5 714.8h1.15"/>
<path stroke="#64C8DC" d="M890 714.8h3.15"/>
<path stroke="#AA6599" d="M893 714.8h1.15"/>
<path stroke="#DD9650" d="M894 714.8h1.15M898 714.8h1.15M900.2 714.8h1.65"/>
<path stroke="#E5926E" d="M897 714.8h1.15"/>
<path stroke="#C182A6" d="M899 714.8h1.35"/>
<path stroke="#DD5050" d="M901.7 714.8h1.15"/>
<path stroke="#556B2F" d="M903.8 714.8h9.85"/>
<path stroke="#DD5A48" d="M914.7 714.8h1.15M919.7 714.8h0.95M924 714.8h1.15"/>
<path stroke="#CA8181" d="M915.7 714.8h2.15M922 714.8h2.15"/>
<path stroke="#DD4141" d="M917.7 714.8h1.15"/>
<path stroke="#EE6C6C" d="M920.5 714.8h1.65M925 714.8h1.35"/>
<path stroke="#B0E0E6" d="M926.2 714.8h4.35M938.8 714.8h2.55"/>
<path stroke="#F58070" d="M930.4 714.8h8.55"/>
<path stroke="#875A97" d="M941.2 714.8h1.65M944.9 714.8h0.95M947.2 714.8h0.85"/>
<path stroke="#A64B87" d="M942.7 714.8h1.15M945.7 714.8h1.65"/>
<path stroke="#CB7195" d="M943.7 714.8h1.35"/>
<path stroke="#B2D235" d="M947.9 714.8h25.25"/>
<path stroke="#EE2A24" d="M973 714.8h3.95"/>
<path stroke="#BA6398" d="M976.8 714.8h1.65M979.9 714.8h1.65M982.9 714.8h1.15"/>
<path stroke="#ED7C7C" d="M978.3 714.8h0.95"/>
<path stroke="#ED2F2F" d="M979.1 714.8h0.95"/>
<path stroke="#EE4E4E" d="M981.4 714.8h1.65M983.9 714.8h2.15M985.9 714.8h1.15"/>
<path stroke="#F4CA4D" d="M986.9 714.8h0.95"/>
<path stroke="#FFFFFF" d="M987.7 714.8h12.15"/>
<path stroke="#B04798" d="M999.7 714.8h0.95M1002.7 714.8h1.35M1005.9 714.8h0.65"/>
<path stroke="#CB62A8" d="M1000.5 714.8h1.15M1004.9 714.8h1.15"/>
<path stroke="#DE9931" d="M1001.5 714.8h1.35M1003.9 714.8h1.15"/>
<path stroke="#A8A0A0" d="M1006.4 714.8h3.15"/>
<path stroke="#F9BFCB" d="M1009.4 714.8h17.65"/>
<path stroke="#9ACD32" d="M1026.9 714.8h3.15"/>
<path stroke="#8B4A24" d="M1029.9 714.8h9.25"/>
<path stroke="#8765AA" d="M1039 714.8h1.65M1047.3 714.8h0.95"/>
<path stroke="#A64B97" d="M1040.5 714.8h2.15M1048.1 714.8h1.35M1050.5 714.8h2.15M1054 714.8h2.15"/>
<path stroke="#989886" d="M1044.5 714.8h0.95M1056 714.8h0.65"/>
<path stroke="#58A098" d="M1045.3 714.8h2.15M1052.5 714.8h1.65"/>
<path stroke="#A0D0A0" d="M1056.5 714.8h1.95"/>
</g>
<path d="M127.5 654.3H1058.3" stroke="#111" stroke-width="1.2"/>
<path d="M127.5 775.2H1058.3" stroke="#333" stroke-width="1.4"/></g>
<g id="pb"><defs><clipPath id="hb"><rect x="1344.4" y="73.6" width="419.9" height="810.7"/></clipPath></defs>
<g clip-path="url(#hb)"><rect x="1344.4" y="74.5" width="209.9" height="32.75" fill="#fdebe6"/><rect x="1554.3" y="74.5" width="210" height="32.75" fill="#e8f3fb"/><rect x="1344.4" y="106.95" width="209.9" height="32.75" fill="#e4f0fa"/><rect x="1554.3" y="106.95" width="210" height="32.75" fill="#fde6e1"/><rect x="1344.4" y="139.4" width="209.9" height="32.75" fill="#fffbfb"/><rect x="1554.3" y="139.4" width="210" height="32.75" fill="#fbfdfe"/><rect x="1344.4" y="171.85" width="209.9" height="32.75" fill="#fcdcd5"/><rect x="1554.3" y="171.85" width="210" height="32.75" fill="#d8eaf8"/><rect x="1344.4" y="204.3" width="209.9" height="32.75" fill="#c3dff4"/><rect x="1554.3" y="204.3" width="210" height="32.75" fill="#facabe"/><rect x="1344.4" y="236.75" width="209.9" height="32.75" fill="#9fcced"/><rect x="1554.3" y="236.75" width="210" height="32.75" fill="#f7a996"/><rect x="1344.4" y="269.2" width="209.9" height="32.75" fill="#fad0c6"/><rect x="1554.3" y="269.2" width="210" height="32.75" fill="#cae3f5"/><rect x="1344.4" y="301.65" width="209.9" height="32.75" fill="#fac8bc"/><rect x="1554.3" y="301.65" width="210" height="32.75" fill="#c1def4"/><rect x="1344.4" y="334.1" width="209.9" height="32.75" fill="#add3f0"/><rect x="1554.3" y="334.1" width="210" height="32.75" fill="#f8b5a5"/><rect x="1344.4" y="366.55" width="209.9" height="32.75" fill="#fde9e4"/><rect x="1554.3" y="366.55" width="210" height="32.75" fill="#e6f2fa"/><rect x="1344.4" y="399" width="209.9" height="32.75" fill="#facec3"/><rect x="1554.3" y="399" width="210" height="32.75" fill="#c8e2f5"/><rect x="1344.4" y="431.45" width="209.9" height="32.75" fill="#f9c0b2"/><rect x="1554.3" y="431.45" width="210" height="32.75" fill="#b8d9f2"/><rect x="1344.4" y="463.9" width="209.9" height="32.75" fill="#b6d8f1"/><rect x="1554.3" y="463.9" width="210" height="32.75" fill="#f9beaf"/><rect x="1344.4" y="496.35" width="209.9" height="32.75" fill="#fffdfd"/><rect x="1554.3" y="496.35" width="210" height="32.75" fill="#fdfeff"/><rect x="1344.4" y="528.8" width="209.9" height="32.75" fill="#98c8ec"/><rect x="1554.3" y="528.8" width="210" height="32.75" fill="#f6a38f"/><rect x="1344.4" y="561.25" width="209.9" height="32.75" fill="#f4f9fd"/><rect x="1554.3" y="561.25" width="210" height="32.75" fill="#fef5f3"/><rect x="1344.4" y="593.7" width="209.9" height="32.75" fill="#fef8f7"/><rect x="1554.3" y="593.7" width="210" height="32.75" fill="#f7fbfe"/><rect x="1344.4" y="626.15" width="209.9" height="32.75" fill="#badaf2"/><rect x="1554.3" y="626.15" width="210" height="32.75" fill="#f9c2b4"/><rect x="1344.4" y="658.6" width="209.9" height="32.75" fill="#c6e0f4"/><rect x="1554.3" y="658.6" width="210" height="32.75" fill="#faccc1"/><rect x="1344.4" y="691.05" width="209.9" height="32.75" fill="#fce2dc"/><rect x="1554.3" y="691.05" width="210" height="32.75" fill="#dfeef9"/><rect x="1344.4" y="723.5" width="209.9" height="32.75" fill="#f9fcfe"/><rect x="1554.3" y="723.5" width="210" height="32.75" fill="#fef9f8"/><rect x="1344.4" y="755.95" width="209.9" height="32.75" fill="#e6f2fa"/><rect x="1554.3" y="755.95" width="210" height="32.75" fill="#fde9e4"/><rect x="1344.4" y="788.4" width="209.9" height="32.75" fill="#f9c0b2"/><rect x="1554.3" y="788.4" width="210" height="32.75" fill="#b8d9f2"/><rect x="1344.4" y="820.85" width="209.9" height="32.75" fill="#fbdad2"/><rect x="1554.3" y="820.85" width="210" height="32.75" fill="#d6e9f7"/><rect x="1344.4" y="853.3" width="209.9" height="32.75" fill="#fdebe6"/><rect x="1554.3" y="853.3" width="210" height="32.75" fill="#e8f3fb"/></g>
<g><rect x="1300" y="72.8" width="39.2" height="34.45" fill="#050505"/><rect x="1300" y="106.95" width="39.2" height="32.75" fill="#3953A4"/><rect x="1300" y="139.4" width="39.2" height="32.75" fill="#A62B2F"/><rect x="1300" y="171.85" width="39.2" height="32.75" fill="#6DCBDB"/><rect x="1300" y="204.3" width="39.2" height="32.75" fill="#A9A9A9"/><rect x="1300" y="236.75" width="39.2" height="32.75" fill="#8B2689"/><rect x="1300" y="269.2" width="39.2" height="32.75" fill="#556B2F"/><rect x="1300" y="301.65" width="39.2" height="32.75" fill="#F68B1F"/><rect x="1300" y="334.1" width="39.2" height="32.75" fill="#8B181B"/><rect x="1300" y="366.55" width="39.2" height="32.75" fill="#35BFCB"/><rect x="1300" y="399" width="39.2" height="32.75" fill="#6FBE44"/><rect x="1300" y="431.45" width="39.2" height="32.75" fill="#BEBEBE"/><rect x="1300" y="463.9" width="39.2" height="32.75" fill="#999999"/><rect x="1300" y="496.35" width="39.2" height="32.75" fill="#9FD38B"/><rect x="1300" y="528.8" width="39.2" height="32.75" fill="#B9529F"/><rect x="1300" y="561.25" width="39.2" height="32.75" fill="#8368B0"/><rect x="1300" y="593.7" width="39.2" height="32.75" fill="#2B2870"/><rect x="1300" y="626.15" width="39.2" height="32.75" fill="#8B251A"/><rect x="1300" y="658.6" width="39.2" height="32.75" fill="#8552A1"/><rect x="1300" y="691.05" width="39.2" height="32.75" fill="#8B4A24"/><rect x="1300" y="723.5" width="39.2" height="32.75" fill="#F58070"/><rect x="1300" y="755.95" width="39.2" height="32.75" fill="#D2703A"/><rect x="1300" y="788.4" width="39.2" height="32.75" fill="#87CEEB"/><rect x="1300" y="820.85" width="39.2" height="32.75" fill="#D2B48C"/><rect x="1300" y="853.3" width="39.2" height="32.45" fill="#D58BC4"/></g>
<g font-size="22.4" text-anchor="end"><text x="1293.8" y="97.8">MEblack</text><text x="1293.8" y="130.3">MEblue</text><text x="1293.8" y="162.7">MEbrown</text><text x="1293.8" y="195.2">MEcyan</text><text x="1293.8" y="227.6">MEdarkgrey</text><text x="1293.8" y="260.1">MEdarkmagenta</text><text x="1293.8" y="292.5">MEdarkolivegreen</text><text x="1293.8" y="325">MEdarkorange</text><text x="1293.8" y="357.4">MEdarkred</text><text x="1293.8" y="389.9">MEdarkturquoise</text><text x="1293.8" y="422.3">MEgreen</text><text x="1293.8" y="454.8">MEgrey</text><text x="1293.8" y="487.2">MEgrey60</text><text x="1293.8" y="519.7">MElightgreen</text><text x="1293.8" y="552.1">MEmagenta</text><text x="1293.8" y="584.6">MEmediumpurple3</text><text x="1293.8" y="617">MEmidnightblue</text><text x="1293.8" y="649.5">MEorangered4</text><text x="1293.8" y="681.9">MEpurple</text><text x="1293.8" y="714.4">MEsaddlebrown</text><text x="1293.8" y="746.8">MEsalmon</text><text x="1293.8" y="779.3">MEsienna3</text><text x="1293.8" y="811.7">MEskyblue</text><text x="1293.8" y="844.2">MEtan</text><text x="1293.8" y="876.6">MEviolet</text></g>
<g font-size="11.1" text-anchor="middle"><text x="1449.4" y="87.2">0.1</text><text x="1449.4" y="100.7">(0.5)</text><text x="1659.3" y="87.2">−0.1</text><text x="1659.3" y="100.7">(0.5)</text><text x="1449.4" y="119.7">−0.12</text><text x="1449.4" y="133.2">(0.4)</text><text x="1659.3" y="119.7">0.12</text><text x="1659.3" y="133.2">(0.4)</text><text x="1449.4" y="152.1">0.018</text><text x="1449.4" y="165.6">(0.9)</text><text x="1659.3" y="152.1">−0.018</text><text x="1659.3" y="165.6">(0.9)</text><text x="1449.4" y="184.6">0.17</text><text x="1449.4" y="198.1">(0.2)</text><text x="1659.3" y="184.6">−0.17</text><text x="1659.3" y="198.1">(0.2)</text><text x="1449.4" y="217">−0.26</text><text x="1449.4" y="230.5">(0.06)</text><text x="1659.3" y="217">0.26</text><text x="1659.3" y="230.5">(0.06)</text><text x="1449.4" y="249.5">−0.42</text><text x="1449.4" y="263">(0.002)</text><text x="1659.3" y="249.5">0.42</text><text x="1659.3" y="263">(0.002)</text><text x="1449.4" y="281.9">0.23</text><text x="1449.4" y="295.4">(0.1)</text><text x="1659.3" y="281.9">−0.23</text><text x="1659.3" y="295.4">(0.1)</text><text x="1449.4" y="314.4">0.27</text><text x="1449.4" y="327.9">(0.05)</text><text x="1659.3" y="314.4">−0.27</text><text x="1659.3" y="327.9">(0.05)</text><text x="1449.4" y="346.8">−0.36</text><text x="1449.4" y="360.3">(0.008)</text><text x="1659.3" y="346.8">0.36</text><text x="1659.3" y="360.3">(0.008)</text><text x="1449.4" y="379.3">0.11</text><text x="1449.4" y="392.8">(0.4)</text><text x="1659.3" y="379.3">−0.11</text><text x="1659.3" y="392.8">(0.4)</text><text x="1449.4" y="411.7">0.24</text><text x="1449.4" y="425.2">(0.09)</text><text x="1659.3" y="411.7">−0.24</text><text x="1659.3" y="425.2">(0.09)</text><text x="1449.4" y="444.2">0.31</text><text x="1449.4" y="457.7">(0.02)</text><text x="1659.3" y="444.2">−0.31</text><text x="1659.3" y="457.7">(0.02)</text><text x="1449.4" y="476.6">−0.32</text><text x="1449.4" y="490.1">(0.02)</text><text x="1659.3" y="476.6">0.32</text><text x="1659.3" y="490.1">(0.02)</text><text x="1449.4" y="509.1">0.0095</text><text x="1449.4" y="522.6">(0.9)</text><text x="1659.3" y="509.1">−0.0095</text><text x="1659.3" y="522.6">(0.9)</text><text x="1449.4" y="541.5">−0.45</text><text x="1449.4" y="555">(6e−04)</text><text x="1659.3" y="541.5">0.45</text><text x="1659.3" y="555">(6e−04)</text><text x="1449.4" y="574">−0.049</text><text x="1449.4" y="587.5">(0.7)</text><text x="1659.3" y="574">0.049</text><text x="1659.3" y="587.5">(0.7)</text><text x="1449.4" y="606.4">0.034</text><text x="1449.4" y="619.9">(0.8)</text><text x="1659.3" y="606.4">−0.034</text><text x="1659.3" y="619.9">(0.8)</text><text x="1449.4" y="638.9">−0.3</text><text x="1449.4" y="652.4">(0.03)</text><text x="1659.3" y="638.9">0.3</text><text x="1659.3" y="652.4">(0.03)</text><text x="1449.4" y="671.3">−0.25</text><text x="1449.4" y="684.8">(0.07)</text><text x="1659.3" y="671.3">0.25</text><text x="1659.3" y="684.8">(0.07)</text><text x="1449.4" y="703.8">0.14</text><text x="1449.4" y="717.3">(0.3)</text><text x="1659.3" y="703.8">−0.14</text><text x="1659.3" y="717.3">(0.3)</text><text x="1449.4" y="736.2">−0.028</text><text x="1449.4" y="749.7">(0.8)</text><text x="1659.3" y="736.2">0.028</text><text x="1659.3" y="749.7">(0.8)</text><text x="1449.4" y="768.7">−0.11</text><text x="1449.4" y="782.2">(0.4)</text><text x="1659.3" y="768.7">0.11</text><text x="1659.3" y="782.2">(0.4)</text><text x="1449.4" y="801.1">0.31</text><text x="1449.4" y="814.6">(0.03)</text><text x="1659.3" y="801.1">−0.31</text><text x="1659.3" y="814.6">(0.03)</text><text x="1449.4" y="833.6">0.18</text><text x="1449.4" y="847.1">(0.2)</text><text x="1659.3" y="833.6">−0.18</text><text x="1659.3" y="847.1">(0.2)</text><text x="1449.4" y="866">0.1</text><text x="1449.4" y="879.5">(0.5)</text><text x="1659.3" y="866">−0.1</text><text x="1659.3" y="879.5">(0.5)</text></g>
<rect x="1344.4" y="73.6" width="419.9" height="810.7" fill="none" stroke="#222" stroke-width="1.2"/>
<text x="1587.7" y="28.8" text-anchor="middle" font-size="26.2" font-weight="bold">Module−trait relationships</text>
<text transform="translate(1455 907.5) rotate(-45)" text-anchor="end" font-size="22.4">Disease</text>
<text transform="translate(1665 907.5) rotate(-45)" text-anchor="end" font-size="22.4">Normal</text>
<defs><linearGradient id="cb" x1="0" y1="0" x2="0" y2="1"><stop offset="0" stop-color="#ed3424"/><stop offset="0.275" stop-color="#f6a38f"/><stop offset="0.5" stop-color="#fff"/><stop offset="0.725" stop-color="#98c8ec"/><stop offset="1" stop-color="#3e7ccc"/></linearGradient></defs><rect x="1776.2" y="208.5" width="17.7" height="541.1" fill="url(#cb)" stroke="#222" stroke-width="1"/><path d="M1793.9 208.5H1806.3M1793.9 343.8H1806.3M1793.9 479.1H1806.3M1793.9 614.3H1806.3M1793.9 749.6H1806.3" stroke="#222" stroke-width="1.1" fill="none"/><text transform="translate(1832 208.5) rotate(-90)" text-anchor="middle" font-size="22.4">1</text><text transform="translate(1832 343.8) rotate(-90)" text-anchor="middle" font-size="22.4">0.5</text><text transform="translate(1832 479.1) rotate(-90)" text-anchor="middle" font-size="22.4">0</text><text transform="translate(1832 614.3) rotate(-90)" text-anchor="middle" font-size="22.4">−0.5</text><text transform="translate(1832 749.6) rotate(-90)" text-anchor="middle" font-size="22.4">−1</text></g>
<g id="pc"><rect x="69.1" y="1018.2" width="851.7" height="349.1" fill="#0b0b0b"/>
<g stroke-width="1.43" fill="none">
<path stroke="#092115" d="M108.8 1018.9h15.9M236.2 1018.9h15.9M379.4 1018.9h15.9M570.4 1018.9h31.8M618.2 1018.9h15.9M650 1018.9h15.9M856.9 1018.9h15.9M92.9 1020.2h15.9M124.8 1020.2h31.8M236.2 1020.2h15.9M761.4 1020.2h15.9M793.3 1020.2h15.9M856.9 1020.2h15.9M124.8 1021.5h31.8M459 1021.5h15.9M634.1 1021.5h15.9M761.4 1021.5h15.9M888.8 1021.5h15.9M92.9 1022.9h31.8M236.2 1022.9h31.8M570.4 1022.9h15.9M856.9 1022.9h15.9M888.8 1022.9h15.9M77 1024.2h31.8M124.8 1024.2h15.9M204.3 1024.2h15.9M236.2 1024.2h15.9M331.7 1024.2h15.9M459 1024.2h15.9M745.5 1024.2h15.9M856.9 1024.2h15.9M108.8 1025.5h79.6M283.9 1025.5h15.9M427.2 1025.5h15.9M459 1025.5h15.9M665.9 1025.5h15.9M888.8 1025.5h15.9M77 1026.9h15.9M172.5 1026.9h15.9M220.3 1026.9h15.9M443.1 1026.9h15.9M506.8 1026.9h15.9M538.6 1026.9h15.9M570.4 1026.9h15.9M634.1 1026.9h31.8M729.6 1026.9h31.8M904.7 1026.9h15.9M268 1028.2h31.8M331.7 1028.2h15.9M427.2 1028.2h15.9M490.8 1028.2h15.9M522.7 1028.2h15.9M793.3 1028.2h15.9M841 1028.2h15.9M888.8 1028.2h15.9M77 1029.5h15.9M124.8 1029.5h15.9M554.5 1029.5h15.9M665.9 1029.5h15.9M697.8 1029.5h15.9M729.6 1029.5h31.8M156.6 1030.9h15.9M347.6 1030.9h15.9M379.4 1030.9h31.8M586.3 1030.9h15.9M856.9 1030.9h15.9M108.8 1032.2h15.9M236.2 1032.2h15.9M347.6 1032.2h15.9M538.6 1032.2h15.9M761.4 1032.2h15.9M92.9 1033.5h15.9M124.8 1033.5h15.9M315.8 1033.5h15.9M347.6 1033.5h15.9M697.8 1033.5h15.9M729.6 1033.5h15.9M777.3 1033.5h15.9M872.8 1033.5h15.9M108.8 1034.9h31.8M172.5 1034.9h15.9M268 1034.9h15.9M411.3 1034.9h31.8M570.4 1034.9h15.9M650 1034.9h15.9M681.8 1034.9h31.8M904.7 1034.9h15.9M124.8 1036.2h15.9M156.6 1036.2h31.8M347.6 1036.2h15.9M506.8 1036.2h15.9M554.5 1036.2h15.9M586.3 1036.2h31.8M713.7 1036.2h15.9M856.9 1036.2h15.9M888.8 1036.2h31.8M77 1037.5h15.9M108.8 1037.5h15.9M188.4 1037.5h15.9M379.4 1037.5h15.9M443.1 1037.5h15.9M713.7 1037.5h31.8M124.8 1038.9h15.9M156.6 1038.9h15.9M331.7 1038.9h15.9M427.2 1038.9h15.9M506.8 1038.9h31.8M729.6 1038.9h31.8M809.2 1038.9h15.9M856.9 1038.9h15.9M888.8 1038.9h15.9M108.8 1040.2h15.9M172.5 1040.2h15.9M236.2 1040.2h15.9M283.9 1040.2h15.9M315.8 1040.2h15.9M379.4 1040.2h15.9M427.2 1040.2h15.9M459 1040.2h15.9M904.7 1040.2h15.9M92.9 1041.5h31.8M204.3 1041.5h15.9M283.9 1041.5h31.8M395.3 1041.5h15.9M490.8 1041.5h47.8M665.9 1041.5h15.9M745.5 1041.5h15.9M793.3 1041.5h31.8M841 1041.5h31.8M888.8 1041.5h15.9M108.8 1042.9h15.9M283.9 1042.9h15.9M474.9 1042.9h31.8M522.7 1042.9h31.8M777.3 1042.9h15.9M809.2 1042.9h15.9M888.8 1042.9h15.9M283.9 1044.2h15.9M331.7 1044.2h15.9M379.4 1044.2h15.9M411.3 1044.2h15.9M745.5 1044.2h15.9M77 1045.5h15.9M411.3 1045.5h31.8M474.9 1045.5h15.9M522.7 1045.5h15.9M793.3 1045.5h31.8M841 1045.5h15.9M156.6 1046.8h15.9M268 1046.8h15.9M443.1 1046.8h15.9M506.8 1046.8h15.9M172.5 1048.2h15.9M204.3 1048.2h47.8M459 1048.2h15.9M506.8 1048.2h15.9M570.4 1048.2h15.9M761.4 1048.2h15.9M140.7 1049.5h31.8M268 1049.5h15.9M363.5 1049.5h15.9M411.3 1049.5h15.9M634.1 1049.5h15.9M665.9 1049.5h15.9M793.3 1049.5h15.9M856.9 1049.5h15.9M888.8 1049.5h15.9M77 1050.8h15.9M156.6 1050.8h15.9M236.2 1050.8h31.8M395.3 1050.8h15.9M427.2 1050.8h15.9M522.7 1050.8h15.9M570.4 1050.8h31.8M793.3 1050.8h31.8M77 1052.2h15.9M124.8 1052.2h15.9M347.6 1052.2h15.9M427.2 1052.2h15.9M506.8 1052.2h15.9M554.5 1052.2h15.9M665.9 1052.2h15.9M729.6 1052.2h15.9M793.3 1052.2h31.8M92.9 1053.5h15.9M124.8 1053.5h15.9M188.4 1053.5h31.8M268 1053.5h15.9M331.7 1053.5h15.9M427.2 1053.5h15.9M506.8 1053.5h15.9M602.3 1053.5h15.9M777.3 1053.5h15.9M841 1053.5h31.8M124.8 1054.8h15.9M204.3 1054.8h15.9M459 1054.8h15.9M713.7 1054.8h15.9M745.5 1054.8h31.8M793.3 1054.8h15.9M888.8 1054.8h15.9M108.8 1056.2h31.8M188.4 1056.2h15.9M602.3 1056.2h15.9M634.1 1056.2h15.9M697.8 1056.2h15.9M729.6 1056.2h15.9M841 1056.2h15.9M156.6 1057.5h15.9M283.9 1057.5h15.9M331.7 1057.5h15.9M427.2 1057.5h15.9M634.1 1057.5h15.9M697.8 1057.5h15.9M729.6 1057.5h15.9M825.1 1057.5h31.8M872.8 1057.5h15.9M108.8 1058.8h15.9M236.2 1058.8h15.9M283.9 1058.8h15.9M331.7 1058.8h15.9M570.4 1058.8h31.8M634.1 1058.8h15.9M681.8 1058.8h15.9M793.3 1058.8h15.9M77 1060.2h15.9M108.8 1060.2h15.9M156.6 1060.2h15.9M459 1060.2h15.9M586.3 1060.2h15.9M634.1 1060.2h47.8M745.5 1060.2h15.9M841 1060.2h15.9M888.8 1060.2h15.9M124.8 1061.5h15.9M236.2 1061.5h31.8M379.4 1061.5h15.9M459 1061.5h15.9M634.1 1061.5h15.9M745.5 1061.5h31.8M888.8 1061.5h15.9M77 1062.8h15.9M140.7 1062.8h15.9M459 1062.8h15.9M506.8 1062.8h15.9M554.5 1062.8h15.9M665.9 1062.8h15.9M713.7 1062.8h15.9M745.5 1062.8h31.8M825.1 1062.8h15.9M108.8 1064.2h15.9M140.7 1064.2h15.9M172.5 1064.2h15.9M379.4 1064.2h15.9M411.3 1064.2h15.9M538.6 1064.2h15.9M713.7 1064.2h15.9M124.8 1065.5h15.9M156.6 1065.5h47.8M570.4 1065.5h15.9M697.8 1065.5h15.9M761.4 1065.5h15.9M793.3 1065.5h15.9M872.8 1065.5h15.9M108.8 1066.8h47.8M220.3 1066.8h15.9M268 1066.8h31.8M331.7 1066.8h15.9M379.4 1066.8h31.8M554.5 1066.8h15.9M665.9 1066.8h15.9M745.5 1066.8h15.9M825.1 1066.8h15.9M888.8 1066.8h15.9M108.8 1068.2h15.9M379.4 1068.2h15.9M411.3 1068.2h15.9M634.1 1068.2h15.9M665.9 1068.2h15.9M713.7 1068.2h31.8M841 1068.2h15.9M77 1069.5h15.9M283.9 1069.5h15.9M331.7 1069.5h15.9M459 1069.5h15.9M713.7 1069.5h31.8M777.3 1069.5h15.9M825.1 1069.5h15.9M904.7 1069.5h15.9M172.5 1070.8h15.9M283.9 1070.8h15.9M379.4 1070.8h15.9M427.2 1070.8h15.9M522.7 1070.8h15.9M793.3 1070.8h15.9M124.8 1072.2h15.9M172.5 1072.2h15.9M252.1 1072.2h15.9M427.2 1072.2h15.9M538.6 1072.2h15.9M745.5 1072.2h15.9M777.3 1072.2h47.8M904.7 1072.2h15.9M395.3 1073.5h15.9M506.8 1073.5h15.9M538.6 1073.5h15.9M570.4 1073.5h15.9M761.4 1073.5h15.9M888.8 1073.5h15.9M124.8 1074.8h15.9M156.6 1074.8h15.9M268 1074.8h15.9M299.8 1074.8h15.9M363.5 1074.8h15.9M506.8 1074.8h15.9M554.5 1074.8h15.9M697.8 1074.8h79.6M856.9 1074.8h15.9M156.6 1076.2h15.9M268 1076.2h15.9M315.8 1076.2h15.9M506.8 1076.2h15.9M570.4 1076.2h15.9M618.2 1076.2h15.9M650 1076.2h31.8M793.3 1076.2h15.9M856.9 1076.2h15.9M888.8 1076.2h15.9M77 1077.5h15.9M220.3 1077.5h15.9M268 1077.5h15.9M363.5 1077.5h15.9M427.2 1077.5h15.9M538.6 1077.5h15.9M570.4 1077.5h15.9M856.9 1077.5h15.9M156.6 1078.8h15.9M299.8 1078.8h15.9M411.3 1078.8h15.9M474.9 1078.8h15.9M506.8 1078.8h15.9M538.6 1078.8h15.9M618.2 1078.8h15.9M713.7 1078.8h15.9M745.5 1078.8h15.9M156.6 1080.2h31.8M204.3 1080.2h15.9M283.9 1080.2h15.9M427.2 1080.2h15.9M554.5 1080.2h15.9M713.7 1080.2h15.9M888.8 1080.2h31.8M92.9 1081.5h15.9M140.7 1081.5h15.9M347.6 1081.5h15.9M506.8 1081.5h15.9M554.5 1081.5h15.9M697.8 1081.5h15.9M872.8 1081.5h15.9M92.9 1082.8h15.9M188.4 1082.8h31.8M665.9 1082.8h15.9M777.3 1082.8h31.8M77 1084.2h31.8M220.3 1084.2h15.9M363.5 1084.2h15.9M427.2 1084.2h15.9M522.7 1084.2h15.9M570.4 1084.2h15.9M713.7 1084.2h15.9M825.1 1084.2h31.8M904.7 1084.2h15.9M204.3 1085.5h15.9M347.6 1085.5h15.9M554.5 1085.5h15.9M602.3 1085.5h15.9M650 1085.5h15.9M841 1085.5h15.9M888.8 1085.5h15.9M156.6 1086.8h31.8M283.9 1086.8h31.8M459 1086.8h15.9M634.1 1086.8h15.9M872.8 1086.8h15.9M904.7 1086.8h15.9M77 1088.2h15.9M124.8 1088.2h15.9M172.5 1088.2h47.8M236.2 1088.2h15.9M427.2 1088.2h15.9M538.6 1088.2h15.9M570.4 1088.2h15.9M713.7 1088.2h31.8M777.3 1088.2h31.8M825.1 1088.2h15.9M872.8 1088.2h15.9M77 1089.5h15.9M236.2 1089.5h15.9M268 1089.5h15.9M634.1 1089.5h15.9M665.9 1089.5h15.9M745.5 1089.5h15.9M825.1 1089.5h47.8M904.7 1089.5h15.9M124.8 1090.8h15.9M252.1 1090.8h15.9M665.9 1090.8h15.9M761.4 1090.8h15.9M793.3 1090.8h15.9M77 1092.2h15.9M124.8 1092.2h31.8M379.4 1092.2h15.9M665.9 1092.2h15.9M713.7 1092.2h15.9M745.5 1092.2h15.9M793.3 1092.2h15.9M856.9 1092.2h15.9M77 1093.5h15.9M268 1093.5h15.9M411.3 1093.5h15.9M665.9 1093.5h15.9M745.5 1093.5h15.9M825.1 1093.5h31.8M904.7 1093.5h15.9M92.9 1094.8h15.9M156.6 1094.8h15.9M204.3 1094.8h15.9M252.1 1094.8h15.9M283.9 1094.8h15.9M331.7 1094.8h15.9M379.4 1094.8h15.9M538.6 1094.8h15.9M570.4 1094.8h15.9M729.6 1094.8h15.9M761.4 1094.8h15.9M809.2 1094.8h15.9M841 1094.8h31.8M108.8 1096.1h15.9M188.4 1096.1h15.9M379.4 1096.1h15.9M411.3 1096.1h15.9M745.5 1096.1h15.9M825.1 1096.1h15.9M888.8 1096.1h15.9M108.8 1097.5h15.9M140.7 1097.5h15.9M188.4 1097.5h15.9M283.9 1097.5h15.9M459 1097.5h15.9M618.2 1097.5h15.9M777.3 1097.5h15.9M92.9 1098.8h15.9M156.6 1098.8h47.8M379.4 1098.8h15.9M459 1098.8h15.9M538.6 1098.8h31.8M618.2 1098.8h15.9M713.7 1098.8h15.9M745.5 1098.8h15.9M793.3 1098.8h15.9M825.1 1098.8h15.9M108.8 1100.1h15.9M172.5 1100.1h15.9M459 1100.1h15.9M602.3 1100.1h31.8M713.7 1100.1h15.9M745.5 1100.1h31.8M825.1 1100.1h15.9M140.7 1101.5h15.9M299.8 1101.5h15.9M490.8 1101.5h31.8M554.5 1101.5h15.9M856.9 1101.5h15.9M172.5 1102.8h15.9M363.5 1102.8h15.9M570.4 1102.8h15.9M634.1 1102.8h15.9M761.4 1102.8h15.9M809.2 1102.8h31.8M140.7 1104.1h15.9M411.3 1104.1h47.8M474.9 1104.1h15.9M554.5 1104.1h31.8M681.8 1104.1h31.8M761.4 1104.1h31.8M856.9 1104.1h15.9M77 1105.5h15.9M108.8 1105.5h15.9M252.1 1105.5h15.9M395.3 1105.5h15.9M459 1105.5h15.9M554.5 1105.5h15.9M586.3 1105.5h15.9M697.8 1105.5h15.9M761.4 1105.5h15.9M92.9 1106.8h15.9M124.8 1106.8h31.8M268 1106.8h15.9M299.8 1106.8h15.9M379.4 1106.8h15.9M474.9 1106.8h15.9M729.6 1106.8h15.9M777.3 1106.8h15.9M825.1 1106.8h31.8M888.8 1106.8h31.8M92.9 1108.1h15.9M124.8 1108.1h15.9M156.6 1108.1h15.9M395.3 1108.1h15.9M554.5 1108.1h15.9M793.3 1108.1h15.9M888.8 1108.1h15.9M108.8 1109.5h15.9M172.5 1109.5h15.9M204.3 1109.5h15.9M411.3 1109.5h15.9M538.6 1109.5h15.9M665.9 1109.5h47.8M729.6 1109.5h15.9M809.2 1109.5h15.9M841 1109.5h31.8M904.7 1109.5h15.9M77 1110.8h15.9M236.2 1110.8h47.8M331.7 1110.8h15.9M379.4 1110.8h15.9M411.3 1110.8h15.9M443.1 1110.8h15.9M506.8 1110.8h31.8M570.4 1110.8h15.9M809.2 1110.8h15.9M888.8 1110.8h15.9M156.6 1112.1h15.9M252.1 1112.1h15.9M379.4 1112.1h15.9M411.3 1112.1h15.9M459 1112.1h15.9M506.8 1112.1h31.8M618.2 1112.1h15.9M777.3 1112.1h15.9M856.9 1112.1h15.9M904.7 1112.1h15.9M140.7 1113.5h15.9M283.9 1113.5h15.9M427.2 1113.5h15.9M459 1113.5h15.9M665.9 1113.5h15.9M777.3 1113.5h15.9M188.4 1114.8h31.8M427.2 1114.8h15.9M522.7 1114.8h15.9M618.2 1114.8h15.9M665.9 1114.8h15.9M140.7 1116.1h15.9M172.5 1116.1h15.9M411.3 1116.1h15.9M570.4 1116.1h15.9M745.5 1116.1h15.9M793.3 1116.1h15.9M77 1117.5h15.9M108.8 1117.5h31.8M172.5 1117.5h15.9M236.2 1117.5h15.9M363.5 1117.5h15.9M490.8 1117.5h31.8M554.5 1117.5h15.9M841 1117.5h15.9M108.8 1118.8h15.9M156.6 1118.8h15.9M188.4 1118.8h15.9M427.2 1118.8h15.9M506.8 1118.8h15.9M745.5 1118.8h15.9M777.3 1118.8h15.9M856.9 1118.8h15.9M268 1120.1h15.9M379.4 1120.1h15.9M427.2 1120.1h15.9M618.2 1120.1h15.9M681.8 1120.1h15.9M872.8 1120.1h15.9M156.6 1121.5h31.8M283.9 1121.5h15.9M411.3 1121.5h31.8M459 1121.5h15.9M650 1121.5h31.8M729.6 1121.5h15.9M761.4 1121.5h15.9M825.1 1121.5h15.9M856.9 1121.5h15.9M204.3 1122.8h31.8M315.8 1122.8h15.9M411.3 1122.8h15.9M443.1 1122.8h31.8M506.8 1122.8h15.9M554.5 1122.8h47.8M745.5 1122.8h15.9M77 1124.1h15.9M331.7 1124.1h15.9M427.2 1124.1h15.9M506.8 1124.1h31.8M618.2 1124.1h15.9M793.3 1124.1h31.8M872.8 1124.1h15.9M156.6 1125.5h15.9M204.3 1125.5h15.9M427.2 1125.5h15.9M459 1125.5h15.9M554.5 1125.5h15.9M586.3 1125.5h15.9M761.4 1125.5h15.9M841 1125.5h15.9M156.6 1126.8h15.9M252.1 1126.8h15.9M459 1126.8h15.9M522.7 1126.8h15.9M554.5 1126.8h15.9M634.1 1126.8h15.9M713.7 1126.8h15.9M140.7 1128.1h31.8M204.3 1128.1h15.9M411.3 1128.1h15.9M570.4 1128.1h15.9M618.2 1128.1h15.9M825.1 1128.1h15.9M856.9 1128.1h15.9M904.7 1128.1h15.9M140.7 1129.5h15.9M347.6 1129.5h15.9M427.2 1129.5h15.9M459 1129.5h15.9M506.8 1129.5h15.9M761.4 1129.5h15.9M888.8 1129.5h15.9M140.7 1130.8h31.8M252.1 1130.8h15.9M283.9 1130.8h15.9M554.5 1130.8h31.8M602.3 1130.8h15.9M745.5 1130.8h15.9M841 1130.8h15.9M188.4 1132.1h15.9M315.8 1132.1h15.9M347.6 1132.1h15.9M443.1 1132.1h15.9M522.7 1132.1h31.8M618.2 1132.1h15.9M745.5 1132.1h15.9M777.3 1132.1h15.9M888.8 1132.1h31.8M204.3 1133.5h15.9M379.4 1133.5h15.9M443.1 1133.5h15.9M506.8 1133.5h15.9M570.4 1133.5h15.9M713.7 1133.5h15.9M761.4 1133.5h15.9M793.3 1133.5h15.9M888.8 1133.5h15.9M140.7 1134.8h15.9M586.3 1134.8h15.9M618.2 1134.8h15.9M713.7 1134.8h15.9M825.1 1134.8h15.9M856.9 1134.8h15.9M156.6 1136.1h15.9M204.3 1136.1h15.9M331.7 1136.1h15.9M427.2 1136.1h15.9M522.7 1136.1h31.8M841 1136.1h31.8M77 1137.5h15.9M188.4 1137.5h31.8M379.4 1137.5h15.9M586.3 1137.5h15.9M761.4 1137.5h47.8M825.1 1137.5h31.8M92.9 1138.8h15.9M156.6 1138.8h15.9M347.6 1138.8h15.9M618.2 1138.8h15.9M665.9 1138.8h31.8M761.4 1138.8h15.9M841 1138.8h15.9M77 1140.1h31.8M140.7 1140.1h47.8M283.9 1140.1h15.9M379.4 1140.1h15.9M411.3 1140.1h31.8M634.1 1140.1h15.9M761.4 1140.1h31.8M904.7 1140.1h15.9M124.8 1141.5h15.9M283.9 1141.5h15.9M379.4 1141.5h15.9M506.8 1141.5h15.9M602.3 1141.5h15.9M634.1 1141.5h15.9M681.8 1141.5h15.9M713.7 1141.5h15.9M888.8 1141.5h15.9M108.8 1142.8h15.9M204.3 1142.8h15.9M538.6 1142.8h31.8M602.3 1142.8h15.9M650 1142.8h15.9M713.7 1142.8h15.9M745.5 1142.8h15.9M156.6 1144.1h15.9M188.4 1144.1h15.9M268 1144.1h15.9M379.4 1144.1h15.9M888.8 1144.1h15.9M92.9 1145.4h31.8M140.7 1145.4h15.9M252.1 1145.4h15.9M411.3 1145.4h15.9M570.4 1145.4h15.9M634.1 1145.4h31.8M729.6 1145.4h15.9M888.8 1145.4h15.9M172.5 1146.8h15.9M236.2 1146.8h15.9M283.9 1146.8h15.9M331.7 1146.8h31.8M554.5 1146.8h15.9M586.3 1146.8h15.9M761.4 1146.8h15.9M793.3 1146.8h15.9M825.1 1146.8h15.9M888.8 1146.8h15.9M92.9 1148.1h15.9M188.4 1148.1h15.9M379.4 1148.1h15.9M427.2 1148.1h15.9M459 1148.1h15.9M490.8 1148.1h15.9M522.7 1148.1h15.9M650 1148.1h15.9M681.8 1148.1h31.8M761.4 1148.1h15.9M841 1148.1h15.9M888.8 1148.1h31.8M172.5 1149.4h15.9M204.3 1149.4h15.9M331.7 1149.4h31.8M379.4 1149.4h31.8M427.2 1149.4h15.9M538.6 1149.4h15.9M650 1149.4h15.9M681.8 1149.4h31.8M729.6 1149.4h15.9M793.3 1149.4h15.9M856.9 1149.4h47.8M92.9 1150.8h15.9M156.6 1150.8h15.9M188.4 1150.8h15.9M331.7 1150.8h31.8M618.2 1150.8h15.9M697.8 1150.8h31.8M745.5 1150.8h15.9M841 1150.8h15.9M92.9 1152.1h15.9M204.3 1152.1h15.9M729.6 1152.1h15.9M777.3 1152.1h15.9M841 1152.1h15.9M124.8 1153.4h15.9M156.6 1153.4h31.8M315.8 1153.4h15.9M427.2 1153.4h15.9M570.4 1153.4h31.8M634.1 1153.4h15.9M713.7 1153.4h15.9M777.3 1153.4h15.9M156.6 1154.8h15.9M236.2 1154.8h31.8M283.9 1154.8h15.9M411.3 1154.8h31.8M459 1154.8h15.9M506.8 1154.8h15.9M602.3 1154.8h15.9M634.1 1154.8h31.8M697.8 1154.8h15.9M745.5 1154.8h15.9M841 1154.8h15.9M904.7 1154.8h15.9M92.9 1156.1h15.9M236.2 1156.1h15.9M379.4 1156.1h15.9M681.8 1156.1h15.9M713.7 1156.1h15.9M108.8 1157.4h15.9M156.6 1157.4h47.8M268 1157.4h15.9M427.2 1157.4h15.9M522.7 1157.4h31.8M697.8 1157.4h15.9M777.3 1157.4h15.9M188.4 1158.8h31.8M236.2 1158.8h15.9M411.3 1158.8h15.9M443.1 1158.8h31.8M681.8 1158.8h15.9M713.7 1158.8h15.9M777.3 1158.8h31.8M841 1158.8h31.8M236.2 1160.1h15.9M283.9 1160.1h15.9M347.6 1160.1h15.9M411.3 1160.1h15.9M459 1160.1h15.9M602.3 1160.1h15.9M665.9 1160.1h15.9M697.8 1160.1h31.8M809.2 1160.1h15.9M856.9 1160.1h15.9M140.7 1161.4h15.9M172.5 1161.4h15.9M236.2 1161.4h15.9M363.5 1161.4h15.9M395.3 1161.4h15.9M506.8 1161.4h15.9M570.4 1161.4h15.9M618.2 1161.4h31.8M729.6 1161.4h31.8M793.3 1161.4h31.8M841 1161.4h15.9M872.8 1161.4h15.9M124.8 1162.8h15.9M315.8 1162.8h15.9M427.2 1162.8h15.9M474.9 1162.8h15.9M506.8 1162.8h15.9M634.1 1162.8h15.9M856.9 1162.8h15.9M108.8 1164.1h15.9M140.7 1164.1h15.9M188.4 1164.1h15.9M411.3 1164.1h15.9M459 1164.1h15.9M506.8 1164.1h15.9M602.3 1164.1h15.9M697.8 1164.1h31.8M745.5 1164.1h31.8M809.2 1164.1h15.9M841 1164.1h15.9M904.7 1164.1h15.9M204.3 1165.4h31.8M283.9 1165.4h31.8M411.3 1165.4h15.9M490.8 1165.4h15.9M522.7 1165.4h15.9M618.2 1165.4h15.9M681.8 1165.4h31.8M77 1166.8h15.9M108.8 1166.8h31.8M156.6 1166.8h15.9M188.4 1166.8h15.9M490.8 1166.8h15.9M522.7 1166.8h15.9M665.9 1166.8h31.8M713.7 1166.8h15.9M761.4 1166.8h31.8M809.2 1166.8h15.9M904.7 1166.8h15.9M108.8 1168.1h15.9M140.7 1168.1h15.9M315.8 1168.1h15.9M459 1168.1h15.9M554.5 1168.1h15.9M777.3 1168.1h15.9M888.8 1168.1h15.9M92.9 1169.4h15.9M204.3 1169.4h15.9M331.7 1169.4h15.9M363.5 1169.4h15.9M459 1169.4h15.9M650 1169.4h15.9M681.8 1169.4h15.9M809.2 1169.4h15.9M841 1169.4h47.8M108.8 1170.8h15.9M156.6 1170.8h15.9M459 1170.8h15.9M554.5 1170.8h31.8M761.4 1170.8h15.9M793.3 1170.8h15.9M841 1170.8h31.8M124.8 1172.1h15.9M188.4 1172.1h31.8M347.6 1172.1h15.9M395.3 1172.1h31.8M474.9 1172.1h15.9M554.5 1172.1h31.8M650 1172.1h15.9M777.3 1172.1h15.9M140.7 1173.4h15.9M268 1173.4h15.9M459 1173.4h15.9M506.8 1173.4h15.9M618.2 1173.4h15.9M665.9 1173.4h15.9M777.3 1173.4h15.9M809.2 1173.4h15.9M841 1173.4h15.9M888.8 1173.4h15.9M124.8 1174.8h15.9M156.6 1174.8h31.8M379.4 1174.8h15.9M427.2 1174.8h15.9M459 1174.8h15.9M650 1174.8h31.8M713.7 1174.8h15.9M745.5 1174.8h31.8M793.3 1174.8h15.9M92.9 1176.1h15.9M156.6 1176.1h31.8M220.3 1176.1h15.9M315.8 1176.1h15.9M379.4 1176.1h15.9M411.3 1176.1h15.9M586.3 1176.1h15.9M618.2 1176.1h15.9M650 1176.1h15.9M713.7 1176.1h15.9M777.3 1176.1h47.8M124.8 1177.4h15.9M204.3 1177.4h15.9M315.8 1177.4h31.8M379.4 1177.4h31.8M427.2 1177.4h15.9M761.4 1177.4h15.9M793.3 1177.4h15.9M856.9 1177.4h15.9M904.7 1177.4h15.9M459 1178.8h15.9M554.5 1178.8h15.9M761.4 1178.8h15.9M904.7 1178.8h15.9M77 1180.1h31.8M204.3 1180.1h15.9M283.9 1180.1h15.9M347.6 1180.1h15.9M729.6 1180.1h15.9M77 1181.4h15.9M108.8 1181.4h31.8M188.4 1181.4h15.9M283.9 1181.4h15.9M411.3 1181.4h15.9M538.6 1181.4h31.8M618.2 1181.4h15.9M745.5 1181.4h15.9M777.3 1181.4h15.9M856.9 1181.4h15.9M92.9 1182.8h15.9M124.8 1182.8h15.9M188.4 1182.8h31.8M236.2 1182.8h15.9M299.8 1182.8h15.9M379.4 1182.8h15.9M522.7 1182.8h15.9M745.5 1182.8h15.9M888.8 1182.8h15.9M236.2 1184.1h15.9M506.8 1184.1h15.9M570.4 1184.1h15.9M602.3 1184.1h31.8M713.7 1184.1h15.9M745.5 1184.1h15.9M777.3 1184.1h31.8M825.1 1184.1h31.8M108.8 1185.4h15.9M459 1185.4h15.9M522.7 1185.4h15.9M729.6 1185.4h15.9M825.1 1185.4h31.8M92.9 1186.8h15.9M443.1 1186.8h15.9M602.3 1186.8h15.9M793.3 1186.8h47.8M172.5 1188.1h15.9M474.9 1188.1h15.9M618.2 1188.1h15.9M665.9 1188.1h15.9M697.8 1188.1h31.8M777.3 1188.1h31.8M841 1188.1h15.9M108.8 1189.4h15.9M268 1189.4h15.9M411.3 1189.4h31.8M729.6 1189.4h15.9M761.4 1189.4h15.9M793.3 1189.4h15.9M888.8 1189.4h15.9M77 1190.8h15.9M188.4 1190.8h15.9M236.2 1190.8h31.8M427.2 1190.8h15.9M745.5 1190.8h15.9M793.3 1190.8h47.8M888.8 1190.8h15.9M77 1192.1h15.9M315.8 1192.1h31.8M363.5 1192.1h15.9M506.8 1192.1h15.9M554.5 1192.1h15.9M618.2 1192.1h15.9M713.7 1192.1h47.8M124.8 1193.4h15.9M204.3 1193.4h15.9M268 1193.4h31.8M427.2 1193.4h15.9M554.5 1193.4h15.9M602.3 1193.4h15.9M761.4 1193.4h31.8M841 1193.4h31.8M904.7 1193.4h15.9M77 1194.7h15.9M108.8 1194.7h31.8M220.3 1194.7h15.9M252.1 1194.7h15.9M379.4 1194.7h15.9M618.2 1194.7h15.9M665.9 1194.7h15.9M761.4 1194.7h15.9M825.1 1194.7h15.9M888.8 1194.7h15.9M347.6 1196.1h15.9M379.4 1196.1h15.9M459 1196.1h15.9M793.3 1196.1h15.9M825.1 1196.1h15.9M92.9 1197.4h15.9M140.7 1197.4h15.9M204.3 1197.4h15.9M331.7 1197.4h15.9M427.2 1197.4h15.9M459 1197.4h15.9M570.4 1197.4h31.8M777.3 1197.4h47.8M108.8 1198.7h15.9M140.7 1198.7h15.9M172.5 1198.7h15.9M204.3 1198.7h15.9M252.1 1198.7h15.9M427.2 1198.7h15.9M554.5 1198.7h15.9M777.3 1198.7h15.9M77 1200.1h15.9M108.8 1200.1h31.8M172.5 1200.1h15.9M315.8 1200.1h15.9M459 1200.1h15.9M713.7 1200.1h15.9M156.6 1201.4h15.9M204.3 1201.4h15.9M443.1 1201.4h15.9M490.8 1201.4h15.9M554.5 1201.4h15.9M713.7 1201.4h15.9M745.5 1201.4h15.9M856.9 1201.4h15.9M77 1202.7h15.9M220.3 1202.7h15.9M363.5 1202.7h15.9M411.3 1202.7h15.9M459 1202.7h15.9M538.6 1202.7h15.9M618.2 1202.7h31.8M713.7 1202.7h15.9M793.3 1202.7h15.9M188.4 1204.1h31.8M363.5 1204.1h15.9M490.8 1204.1h15.9M538.6 1204.1h15.9M570.4 1204.1h15.9M665.9 1204.1h15.9M777.3 1204.1h47.8M841 1204.1h15.9M904.7 1204.1h15.9M140.7 1205.4h31.8M252.1 1205.4h15.9M299.8 1205.4h15.9M347.6 1205.4h15.9M474.9 1205.4h15.9M506.8 1205.4h15.9M634.1 1205.4h15.9M697.8 1205.4h15.9M745.5 1205.4h15.9M856.9 1205.4h15.9M904.7 1205.4h15.9M124.8 1206.7h31.8M411.3 1206.7h15.9M570.4 1206.7h15.9M634.1 1206.7h15.9M745.5 1206.7h15.9M904.7 1206.7h15.9M92.9 1208.1h31.8M156.6 1208.1h31.8M331.7 1208.1h15.9M570.4 1208.1h15.9M618.2 1208.1h15.9M761.4 1208.1h31.8M841 1208.1h15.9M108.8 1209.4h15.9M172.5 1209.4h15.9M204.3 1209.4h15.9M268 1209.4h15.9M379.4 1209.4h15.9M506.8 1209.4h15.9M570.4 1209.4h15.9M729.6 1209.4h15.9M777.3 1209.4h31.8M140.7 1210.7h31.8M252.1 1210.7h15.9M379.4 1210.7h15.9M427.2 1210.7h15.9M522.7 1210.7h15.9M570.4 1210.7h15.9M713.7 1210.7h15.9M793.3 1210.7h15.9M140.7 1212.1h15.9M172.5 1212.1h15.9M204.3 1212.1h15.9M268 1212.1h15.9M347.6 1212.1h15.9M761.4 1212.1h15.9M809.2 1212.1h15.9M108.8 1213.4h47.8M379.4 1213.4h15.9M506.8 1213.4h15.9M570.4 1213.4h15.9M618.2 1213.4h15.9M697.8 1213.4h15.9M761.4 1213.4h15.9M841 1213.4h15.9M904.7 1213.4h15.9M156.6 1214.7h31.8M204.3 1214.7h15.9M506.8 1214.7h15.9M554.5 1214.7h15.9M618.2 1214.7h15.9M761.4 1214.7h15.9M156.6 1216.1h31.8M459 1216.1h15.9M570.4 1216.1h15.9M634.1 1216.1h15.9M761.4 1216.1h15.9M809.2 1216.1h15.9M108.8 1217.4h15.9M172.5 1217.4h15.9M204.3 1217.4h15.9M315.8 1217.4h15.9M363.5 1217.4h15.9M586.3 1217.4h15.9M634.1 1217.4h31.8M713.7 1217.4h15.9M761.4 1217.4h15.9M108.8 1218.7h31.8M188.4 1218.7h15.9M268 1218.7h15.9M411.3 1218.7h31.8M570.4 1218.7h31.8M713.7 1218.7h15.9M888.8 1218.7h15.9M92.9 1220.1h15.9M188.4 1220.1h15.9M252.1 1220.1h15.9M411.3 1220.1h15.9M506.8 1220.1h15.9M538.6 1220.1h15.9M570.4 1220.1h15.9M761.4 1220.1h15.9M172.5 1221.4h15.9M252.1 1221.4h15.9M299.8 1221.4h15.9M331.7 1221.4h15.9M856.9 1221.4h15.9M379.4 1222.7h15.9M427.2 1222.7h31.8M522.7 1222.7h15.9M554.5 1222.7h15.9M825.1 1222.7h31.8M888.8 1222.7h15.9M77 1224.1h15.9M108.8 1224.1h15.9M331.7 1224.1h15.9M459 1224.1h15.9M506.8 1224.1h15.9M586.3 1224.1h15.9M681.8 1224.1h15.9M745.5 1224.1h15.9M841 1224.1h15.9M888.8 1224.1h15.9M77 1225.4h15.9M124.8 1225.4h15.9M204.3 1225.4h15.9M283.9 1225.4h15.9M443.1 1225.4h15.9M474.9 1225.4h15.9M522.7 1225.4h15.9M586.3 1225.4h15.9M650 1225.4h31.8M777.3 1225.4h31.8M904.7 1225.4h15.9M77 1226.7h15.9M140.7 1226.7h15.9M283.9 1226.7h15.9M379.4 1226.7h15.9M427.2 1226.7h15.9M538.6 1226.7h15.9M602.3 1226.7h47.8M777.3 1226.7h15.9M809.2 1226.7h15.9M888.8 1226.7h15.9M188.4 1228.1h47.8M331.7 1228.1h15.9M538.6 1228.1h15.9M586.3 1228.1h47.8M761.4 1228.1h15.9M856.9 1228.1h15.9M904.7 1228.1h15.9M77 1229.4h31.8M172.5 1229.4h15.9M283.9 1229.4h15.9M331.7 1229.4h31.8M411.3 1229.4h31.8M618.2 1229.4h15.9M745.5 1229.4h31.8M856.9 1229.4h15.9M904.7 1229.4h15.9M124.8 1230.7h31.8M634.1 1230.7h15.9M681.8 1230.7h15.9M793.3 1230.7h15.9M904.7 1230.7h15.9M77 1232.1h15.9M252.1 1232.1h15.9M427.2 1232.1h15.9M650 1232.1h63.7M745.5 1232.1h15.9M841 1232.1h15.9M124.8 1233.4h15.9M156.6 1233.4h31.8M220.3 1233.4h15.9M379.4 1233.4h15.9M777.3 1233.4h15.9M809.2 1233.4h15.9M156.6 1234.7h63.7M268 1234.7h15.9M299.8 1234.7h31.8M411.3 1234.7h15.9M459 1234.7h15.9M506.8 1234.7h15.9M570.4 1234.7h15.9M602.3 1234.7h15.9M665.9 1234.7h15.9M697.8 1234.7h31.8M825.1 1234.7h31.8M888.8 1234.7h15.9M108.8 1236.1h47.8M586.3 1236.1h15.9M713.7 1236.1h15.9M809.2 1236.1h31.8M77 1237.4h15.9M108.8 1237.4h15.9M172.5 1237.4h15.9M204.3 1237.4h15.9M522.7 1237.4h15.9M761.4 1237.4h31.8M872.8 1237.4h15.9M156.6 1238.7h15.9M411.3 1238.7h15.9M459 1238.7h31.8M681.8 1238.7h15.9M841 1238.7h15.9M395.3 1240.1h31.8M459 1240.1h15.9M522.7 1240.1h15.9M618.2 1240.1h15.9M665.9 1240.1h15.9M856.9 1240.1h15.9M888.8 1240.1h31.8M77 1241.4h15.9M108.8 1241.4h31.8M172.5 1241.4h15.9M204.3 1241.4h15.9M379.4 1241.4h15.9M459 1241.4h15.9M506.8 1241.4h15.9M554.5 1241.4h31.8M745.5 1241.4h15.9M856.9 1241.4h15.9M77 1242.7h31.8M124.8 1242.7h31.8M172.5 1242.7h31.8M268 1242.7h15.9M443.1 1242.7h15.9M490.8 1242.7h31.8M554.5 1242.7h15.9M586.3 1242.7h15.9M665.9 1242.7h15.9M713.7 1242.7h15.9M777.3 1242.7h15.9M856.9 1242.7h15.9M904.7 1242.7h15.9M108.8 1244h31.8M172.5 1244h47.8M268 1244h31.8M459 1244h15.9M618.2 1244h15.9M729.6 1244h15.9M825.1 1244h15.9M856.9 1244h15.9M92.9 1245.4h15.9M172.5 1245.4h15.9M204.3 1245.4h15.9M268 1245.4h31.8M379.4 1245.4h15.9M411.3 1245.4h15.9M713.7 1245.4h15.9M761.4 1245.4h15.9M793.3 1245.4h15.9M856.9 1245.4h47.8M77 1246.7h15.9M108.8 1246.7h15.9M188.4 1246.7h31.8M379.4 1246.7h15.9M506.8 1246.7h15.9M650 1246.7h15.9M697.8 1246.7h15.9M745.5 1246.7h15.9M856.9 1246.7h15.9M888.8 1246.7h15.9M108.8 1248h31.8M236.2 1248h15.9M268 1248h15.9M331.7 1248h15.9M363.5 1248h31.8M506.8 1248h15.9M554.5 1248h31.8M681.8 1248h15.9M761.4 1248h15.9M809.2 1248h15.9M204.3 1249.4h15.9M252.1 1249.4h15.9M347.6 1249.4h15.9M379.4 1249.4h15.9M522.7 1249.4h15.9M681.8 1249.4h15.9M713.7 1249.4h31.8M77 1250.7h15.9M188.4 1250.7h15.9M268 1250.7h15.9M379.4 1250.7h15.9M427.2 1250.7h15.9M586.3 1250.7h15.9M697.8 1250.7h15.9M172.5 1252h15.9M411.3 1252h31.8M459 1252h15.9M713.7 1252h31.8M809.2 1252h47.8M108.8 1253.4h15.9M156.6 1253.4h15.9M379.4 1253.4h15.9M427.2 1253.4h31.8M538.6 1253.4h15.9M634.1 1253.4h15.9M697.8 1253.4h15.9M745.5 1253.4h15.9M777.3 1253.4h15.9M841 1253.4h31.8M888.8 1253.4h15.9M77 1254.7h15.9M124.8 1254.7h15.9M220.3 1254.7h15.9M268 1254.7h15.9M411.3 1254.7h31.8M459 1254.7h31.8M697.8 1254.7h15.9M761.4 1254.7h15.9M793.3 1254.7h15.9M904.7 1254.7h15.9M252.1 1256h15.9M347.6 1256h15.9M443.1 1256h15.9M634.1 1256h15.9M904.7 1256h15.9M77 1257.4h15.9M156.6 1257.4h15.9M188.4 1257.4h15.9M252.1 1257.4h15.9M331.7 1257.4h31.8M379.4 1257.4h15.9M427.2 1257.4h15.9M650 1257.4h15.9M745.5 1257.4h15.9M825.1 1257.4h15.9M108.8 1258.7h15.9M140.7 1258.7h15.9M252.1 1258.7h15.9M427.2 1258.7h15.9M459 1258.7h15.9M554.5 1258.7h15.9M634.1 1258.7h15.9M665.9 1258.7h15.9M697.8 1258.7h31.8M745.5 1258.7h31.8M872.8 1258.7h15.9M77 1260h15.9M188.4 1260h15.9M268 1260h15.9M427.2 1260h31.8M570.4 1260h15.9M665.9 1260h15.9M777.3 1260h15.9M856.9 1260h15.9M888.8 1260h15.9M77 1261.4h47.8M140.7 1261.4h47.8M411.3 1261.4h31.8M586.3 1261.4h15.9M745.5 1261.4h15.9M793.3 1261.4h15.9M124.8 1262.7h15.9M188.4 1262.7h15.9M283.9 1262.7h15.9M379.4 1262.7h15.9M443.1 1262.7h31.8M697.8 1262.7h15.9M729.6 1262.7h15.9M904.7 1262.7h15.9M92.9 1264h15.9M124.8 1264h15.9M236.2 1264h15.9M283.9 1264h15.9M315.8 1264h15.9M395.3 1264h15.9M681.8 1264h15.9M729.6 1264h31.8M809.2 1264h15.9M888.8 1264h15.9M124.8 1265.4h15.9M204.3 1265.4h15.9M236.2 1265.4h15.9M522.7 1265.4h15.9M634.1 1265.4h15.9M809.2 1265.4h15.9M841 1265.4h15.9M538.6 1266.7h15.9M586.3 1266.7h15.9M697.8 1266.7h31.8M793.3 1266.7h15.9M108.8 1268h15.9M299.8 1268h15.9M347.6 1268h15.9M411.3 1268h15.9M490.8 1268h15.9M538.6 1268h15.9M570.4 1268h15.9M713.7 1268h15.9M809.2 1268h15.9M92.9 1269.4h15.9M459 1269.4h15.9M522.7 1269.4h15.9M554.5 1269.4h15.9M713.7 1269.4h47.8M841 1269.4h15.9M872.8 1269.4h31.8M77 1270.7h15.9M140.7 1270.7h15.9M379.4 1270.7h15.9M459 1270.7h15.9M506.8 1270.7h31.8M650 1270.7h15.9M761.4 1270.7h15.9M888.8 1270.7h15.9M140.7 1272h15.9M236.2 1272h15.9M283.9 1272h15.9M522.7 1272h15.9M570.4 1272h15.9M618.2 1272h15.9M665.9 1272h15.9M745.5 1272h15.9M777.3 1272h15.9M872.8 1272h15.9M904.7 1272h15.9M77 1273.4h15.9M108.8 1273.4h15.9M236.2 1273.4h15.9M268 1273.4h15.9M379.4 1273.4h15.9M411.3 1273.4h15.9M459 1273.4h15.9M713.7 1273.4h15.9M793.3 1273.4h15.9M841 1273.4h31.8M92.9 1274.7h15.9M204.3 1274.7h15.9M411.3 1274.7h15.9M506.8 1274.7h15.9M665.9 1274.7h15.9M777.3 1274.7h15.9M841 1274.7h15.9M140.7 1276h15.9M427.2 1276h15.9M602.3 1276h15.9M665.9 1276h15.9M713.7 1276h15.9M761.4 1276h31.8M124.8 1277.4h15.9M156.6 1277.4h15.9M204.3 1277.4h15.9M236.2 1277.4h31.8M506.8 1277.4h15.9M650 1277.4h15.9M729.6 1277.4h15.9M777.3 1277.4h15.9M904.7 1277.4h15.9M108.8 1278.7h15.9M188.4 1278.7h15.9M236.2 1278.7h15.9M347.6 1278.7h15.9M379.4 1278.7h15.9M506.8 1278.7h15.9M538.6 1278.7h15.9M586.3 1278.7h15.9M713.7 1278.7h15.9M777.3 1278.7h15.9M809.2 1278.7h15.9M77 1280h15.9M331.7 1280h15.9M363.5 1280h15.9M411.3 1280h15.9M459 1280h15.9M506.8 1280h31.8M713.7 1280h15.9M761.4 1280h15.9M140.7 1281.4h31.8M347.6 1281.4h15.9M506.8 1281.4h15.9M665.9 1281.4h15.9M745.5 1281.4h15.9M793.3 1281.4h15.9M841 1281.4h31.8M204.3 1282.7h15.9M252.1 1282.7h15.9M283.9 1282.7h15.9M331.7 1282.7h15.9M618.2 1282.7h15.9M124.8 1284h15.9M236.2 1284h15.9M268 1284h15.9M331.7 1284h15.9M411.3 1284h15.9M443.1 1284h15.9M570.4 1284h31.8M634.1 1284h15.9M665.9 1284h15.9M697.8 1284h15.9M761.4 1284h15.9M888.8 1284h15.9M108.8 1285.4h15.9M156.6 1285.4h15.9M443.1 1285.4h15.9M522.7 1285.4h15.9M586.3 1285.4h31.8M681.8 1285.4h15.9M745.5 1285.4h15.9M793.3 1285.4h15.9M825.1 1285.4h15.9M124.8 1286.7h15.9M172.5 1286.7h15.9M331.7 1286.7h15.9M411.3 1286.7h15.9M459 1286.7h15.9M538.6 1286.7h15.9M570.4 1286.7h15.9M188.4 1288h31.8M427.2 1288h15.9M570.4 1288h15.9M634.1 1288h15.9M856.9 1288h15.9M108.8 1289.4h15.9M156.6 1289.4h15.9M586.3 1289.4h15.9M618.2 1289.4h15.9M825.1 1289.4h31.8M872.8 1289.4h15.9M140.7 1290.7h15.9M188.4 1290.7h31.8M236.2 1290.7h15.9M363.5 1290.7h15.9M427.2 1290.7h15.9M538.6 1290.7h15.9M729.6 1290.7h15.9M809.2 1290.7h31.8M872.8 1290.7h47.8M140.7 1292h15.9M172.5 1292h15.9M236.2 1292h15.9M459 1292h15.9M570.4 1292h15.9M618.2 1292h15.9M665.9 1292h15.9M745.5 1292h15.9M809.2 1292h47.8M77 1293.3h31.8M236.2 1293.3h15.9M268 1293.3h15.9M347.6 1293.3h15.9M554.5 1293.3h15.9M586.3 1293.3h15.9M618.2 1293.3h15.9M650 1293.3h15.9M697.8 1293.3h15.9M904.7 1293.3h15.9M204.3 1294.7h15.9M268 1294.7h15.9M427.2 1294.7h15.9M522.7 1294.7h15.9M554.5 1294.7h15.9M602.3 1294.7h31.8M650 1294.7h15.9M745.5 1294.7h15.9M777.3 1294.7h31.8M331.7 1296h15.9M443.1 1296h15.9M506.8 1296h15.9M618.2 1296h15.9M697.8 1296h31.8M793.3 1296h15.9M825.1 1296h15.9M888.8 1296h15.9M108.8 1297.3h15.9M268 1297.3h15.9M363.5 1297.3h47.8M602.3 1297.3h47.8M745.5 1297.3h15.9M856.9 1297.3h15.9M156.6 1298.7h47.8M283.9 1298.7h15.9M411.3 1298.7h15.9M554.5 1298.7h15.9M681.8 1298.7h15.9M793.3 1298.7h15.9M856.9 1298.7h15.9M188.4 1300h15.9M252.1 1300h15.9M283.9 1300h15.9M315.8 1300h15.9M427.2 1300h31.8M506.8 1300h15.9M681.8 1300h15.9M713.7 1300h15.9M745.5 1300h15.9M793.3 1300h15.9M77 1301.3h15.9M172.5 1301.3h15.9M268 1301.3h15.9M459 1301.3h15.9M729.6 1301.3h15.9M761.4 1301.3h15.9M793.3 1301.3h15.9M825.1 1301.3h15.9M856.9 1301.3h15.9M888.8 1301.3h15.9M156.6 1302.7h15.9M188.4 1302.7h15.9M220.3 1302.7h15.9M299.8 1302.7h15.9M459 1302.7h15.9M506.8 1302.7h15.9M618.2 1302.7h15.9M92.9 1304h79.6M204.3 1304h15.9M268 1304h31.8M347.6 1304h15.9M411.3 1304h15.9M474.9 1304h47.8M554.5 1304h15.9M602.3 1304h15.9M665.9 1304h31.8M761.4 1304h15.9M809.2 1304h15.9M872.8 1304h15.9M140.7 1305.3h31.8M204.3 1305.3h15.9M602.3 1305.3h31.8M761.4 1305.3h15.9M793.3 1305.3h31.8M872.8 1305.3h15.9M904.7 1305.3h15.9M140.7 1306.7h31.8M188.4 1306.7h15.9M459 1306.7h15.9M490.8 1306.7h31.8M554.5 1306.7h15.9M681.8 1306.7h15.9M713.7 1306.7h31.8M92.9 1308h15.9M124.8 1308h15.9M204.3 1308h15.9M331.7 1308h31.8M379.4 1308h15.9M411.3 1308h15.9M618.2 1308h15.9M793.3 1308h15.9M904.7 1308h15.9M220.3 1309.3h47.8M283.9 1309.3h15.9M315.8 1309.3h15.9M395.3 1309.3h15.9M506.8 1309.3h15.9M665.9 1309.3h31.8M745.5 1309.3h31.8M904.7 1309.3h15.9M108.8 1310.7h15.9M188.4 1310.7h31.8M443.1 1310.7h15.9M474.9 1310.7h15.9M634.1 1310.7h15.9M697.8 1310.7h15.9M761.4 1310.7h31.8M841 1310.7h15.9M888.8 1310.7h15.9M236.2 1312h15.9M618.2 1312h15.9M761.4 1312h15.9M77 1313.3h15.9M506.8 1313.3h15.9M586.3 1313.3h15.9M618.2 1313.3h15.9M745.5 1313.3h15.9M809.2 1313.3h15.9M77 1314.7h15.9M108.8 1314.7h31.8M156.6 1314.7h31.8M204.3 1314.7h15.9M315.8 1314.7h31.8M443.1 1314.7h31.8M506.8 1314.7h31.8M554.5 1314.7h15.9M650 1314.7h15.9M697.8 1314.7h15.9M729.6 1314.7h15.9M777.3 1314.7h15.9M904.7 1314.7h15.9M92.9 1316h47.8M220.3 1316h15.9M347.6 1316h15.9M459 1316h15.9M506.8 1316h31.8M713.7 1316h15.9M793.3 1316h15.9M108.8 1317.3h15.9M379.4 1317.3h15.9M443.1 1317.3h15.9M474.9 1317.3h15.9M506.8 1317.3h15.9M554.5 1317.3h15.9M618.2 1317.3h15.9M793.3 1317.3h15.9M904.7 1317.3h15.9M140.7 1318.7h15.9M204.3 1318.7h15.9M395.3 1318.7h15.9M459 1318.7h15.9M697.8 1318.7h15.9M761.4 1318.7h15.9M825.1 1318.7h15.9M124.8 1320h15.9M172.5 1320h15.9M204.3 1320h15.9M283.9 1320h15.9M331.7 1320h15.9M459 1320h15.9M506.8 1320h15.9M570.4 1320h15.9M634.1 1320h15.9M665.9 1320h15.9M777.3 1320h31.8M77 1321.3h15.9M156.6 1321.3h63.7M299.8 1321.3h15.9M474.9 1321.3h15.9M681.8 1321.3h31.8M745.5 1321.3h31.8M809.2 1321.3h15.9M841 1321.3h15.9M872.8 1321.3h31.8M92.9 1322.7h15.9M236.2 1322.7h15.9M283.9 1322.7h15.9M459 1322.7h15.9M506.8 1322.7h15.9M618.2 1322.7h31.8M777.3 1322.7h31.8M140.7 1324h31.8M427.2 1324h31.8M586.3 1324h15.9M618.2 1324h15.9M665.9 1324h15.9M745.5 1324h15.9M124.8 1325.3h15.9M411.3 1325.3h15.9M538.6 1325.3h15.9M713.7 1325.3h15.9M841 1325.3h15.9M904.7 1325.3h15.9M108.8 1326.7h15.9M188.4 1326.7h15.9M379.4 1326.7h15.9M459 1326.7h15.9M506.8 1326.7h15.9M570.4 1326.7h15.9M697.8 1326.7h15.9M745.5 1326.7h15.9M904.7 1326.7h15.9M379.4 1328h15.9M427.2 1328h15.9M745.5 1328h15.9M77 1329.3h15.9M124.8 1329.3h15.9M204.3 1329.3h15.9M268 1329.3h31.8M459 1329.3h15.9M570.4 1329.3h15.9M618.2 1329.3h15.9M650 1329.3h15.9M841 1329.3h31.8M124.8 1330.7h15.9M172.5 1330.7h15.9M379.4 1330.7h15.9M570.4 1330.7h15.9M618.2 1330.7h15.9M729.6 1330.7h15.9M761.4 1330.7h15.9M825.1 1330.7h31.8M124.8 1332h15.9M156.6 1332h15.9M236.2 1332h31.8M411.3 1332h15.9M459 1332h15.9M777.3 1332h15.9M92.9 1333.3h15.9M172.5 1333.3h15.9M252.1 1333.3h31.8M363.5 1333.3h31.8M459 1333.3h15.9M618.2 1333.3h15.9M697.8 1333.3h15.9M729.6 1333.3h15.9M809.2 1333.3h31.8M108.8 1334.7h15.9M140.7 1334.7h15.9M172.5 1334.7h15.9M204.3 1334.7h15.9M268 1334.7h15.9M395.3 1334.7h15.9M459 1334.7h15.9M522.7 1334.7h47.8M586.3 1334.7h15.9M777.3 1334.7h15.9M77 1336h15.9M379.4 1336h15.9M697.8 1336h15.9M761.4 1336h15.9M793.3 1336h31.8M92.9 1337.3h15.9M172.5 1337.3h31.8M252.1 1337.3h15.9M411.3 1337.3h15.9M665.9 1337.3h15.9M761.4 1337.3h31.8M825.1 1337.3h15.9M904.7 1337.3h15.9M77 1338.7h15.9M283.9 1338.7h15.9M347.6 1338.7h15.9M554.5 1338.7h15.9M761.4 1338.7h15.9M809.2 1338.7h15.9M108.8 1340h15.9M236.2 1340h31.8M459 1340h15.9M777.3 1340h63.7M856.9 1340h15.9M888.8 1340h15.9M108.8 1341.3h15.9M140.7 1341.3h15.9M268 1341.3h15.9M443.1 1341.3h15.9M538.6 1341.3h15.9M618.2 1341.3h31.8M713.7 1341.3h15.9M761.4 1341.3h15.9M825.1 1341.3h63.7M92.9 1342.6h15.9M124.8 1342.6h15.9M172.5 1342.6h15.9M236.2 1342.6h31.8M427.2 1342.6h31.8M522.7 1342.6h15.9M570.4 1342.6h15.9M665.9 1342.6h15.9M729.6 1342.6h15.9M904.7 1342.6h15.9M124.8 1344h15.9M172.5 1344h15.9M236.2 1344h15.9M379.4 1344h15.9M427.2 1344h31.8M538.6 1344h31.8M713.7 1344h15.9M761.4 1344h15.9M809.2 1344h15.9M77 1345.3h15.9M188.4 1345.3h15.9M363.5 1345.3h15.9M395.3 1345.3h15.9M554.5 1345.3h31.8M697.8 1345.3h15.9M809.2 1345.3h15.9M108.8 1346.6h63.7M379.4 1346.6h15.9M411.3 1346.6h15.9M490.8 1346.6h15.9M554.5 1346.6h15.9M602.3 1346.6h15.9M650 1346.6h15.9M697.8 1346.6h15.9M745.5 1346.6h15.9M825.1 1346.6h15.9M888.8 1346.6h15.9M172.5 1348h15.9M236.2 1348h15.9M283.9 1348h15.9M395.3 1348h15.9M427.2 1348h15.9M522.7 1348h15.9M729.6 1348h15.9M777.3 1348h15.9M872.8 1348h15.9M77 1349.3h15.9M108.8 1349.3h15.9M236.2 1349.3h15.9M331.7 1349.3h31.8M411.3 1349.3h15.9M634.1 1349.3h15.9M713.7 1349.3h31.8M777.3 1349.3h15.9M841 1349.3h15.9M77 1350.6h15.9M108.8 1350.6h15.9M188.4 1350.6h31.8M283.9 1350.6h15.9M347.6 1350.6h15.9M427.2 1350.6h31.8M586.3 1350.6h15.9M618.2 1350.6h15.9M745.5 1350.6h15.9M809.2 1350.6h15.9M872.8 1350.6h31.8M140.7 1352h15.9M172.5 1352h31.8M363.5 1352h15.9M570.4 1352h15.9M777.3 1352h31.8M283.9 1353.3h15.9M427.2 1353.3h15.9M586.3 1353.3h31.8M650 1353.3h15.9M729.6 1353.3h31.8M156.6 1354.6h15.9M236.2 1354.6h31.8M379.4 1354.6h15.9M459 1354.6h15.9M586.3 1354.6h15.9M665.9 1354.6h15.9M761.4 1354.6h15.9M825.1 1354.6h15.9M888.8 1354.6h15.9M172.5 1356h15.9M522.7 1356h15.9M618.2 1356h15.9M681.8 1356h15.9M761.4 1356h15.9M841 1356h15.9M140.7 1357.3h31.8M315.8 1357.3h15.9M522.7 1357.3h15.9M793.3 1357.3h15.9M825.1 1357.3h15.9M856.9 1357.3h15.9M156.6 1358.6h15.9M236.2 1358.6h15.9M379.4 1358.6h15.9M459 1358.6h15.9M586.3 1358.6h15.9M665.9 1358.6h15.9M793.3 1358.6h15.9M856.9 1358.6h15.9M124.8 1360h15.9M236.2 1360h15.9M411.3 1360h15.9M570.4 1360h31.8M713.7 1360h15.9M888.8 1360h15.9M92.9 1361.3h15.9M172.5 1361.3h31.8M268 1361.3h15.9M554.5 1361.3h15.9M745.5 1361.3h15.9M825.1 1361.3h15.9M140.7 1362.6h15.9M252.1 1362.6h15.9M427.2 1362.6h15.9M459 1362.6h15.9M634.1 1362.6h15.9M713.7 1362.6h15.9M745.5 1362.6h31.8M77 1364h63.7M204.3 1364h31.8M299.8 1364h15.9M522.7 1364h15.9M586.3 1364h15.9M634.1 1364h15.9M697.8 1364h15.9M793.3 1364h15.9M825.1 1364h15.9M172.5 1365.3h15.9M283.9 1365.3h15.9M331.7 1365.3h15.9M506.8 1365.3h15.9M586.3 1365.3h15.9M634.1 1365.3h15.9M665.9 1365.3h15.9M124.8 1366.6h15.9M204.3 1366.6h15.9M252.1 1366.6h15.9M283.9 1366.6h15.9M443.1 1366.6h15.9M538.6 1366.6h15.9M745.5 1366.6h15.9M888.8 1366.6h15.9"/>
<path stroke="#07371f" d="M156.6 1018.9h31.8M459 1018.9h15.9M697.8 1018.9h15.9M793.3 1018.9h15.9M841 1018.9h15.9M888.8 1018.9h15.9M618.2 1020.2h47.8M904.7 1020.2h15.9M108.8 1021.5h15.9M268 1021.5h15.9M124.8 1022.9h15.9M156.6 1022.9h15.9M188.4 1022.9h31.8M443.1 1022.9h15.9M506.8 1022.9h15.9M618.2 1022.9h15.9M793.3 1022.9h31.8M156.6 1024.2h15.9M347.6 1024.2h15.9M379.4 1024.2h15.9M841 1024.2h15.9M268 1025.5h15.9M745.5 1025.5h15.9M777.3 1025.5h15.9M825.1 1025.5h15.9M315.8 1026.9h15.9M427.2 1026.9h15.9M793.3 1026.9h15.9M872.8 1026.9h15.9M124.8 1028.2h15.9M156.6 1028.2h47.8M459 1028.2h15.9M570.4 1028.2h15.9M697.8 1028.2h15.9M809.2 1028.2h31.8M904.7 1028.2h15.9M140.7 1029.5h15.9M172.5 1029.5h15.9M283.9 1029.5h15.9M347.6 1029.5h15.9M506.8 1029.5h15.9M618.2 1029.5h15.9M777.3 1029.5h15.9M108.8 1030.9h15.9M172.5 1030.9h31.8M283.9 1030.9h15.9M522.7 1030.9h15.9M777.3 1030.9h15.9M809.2 1030.9h31.8M77 1032.2h15.9M156.6 1032.2h15.9M443.1 1032.2h31.8M506.8 1032.2h15.9M856.9 1032.2h15.9M888.8 1032.2h15.9M474.9 1033.5h15.9M188.4 1034.9h15.9M586.3 1034.9h15.9M841 1034.9h15.9M108.8 1036.2h15.9M777.3 1036.2h15.9M841 1036.2h15.9M92.9 1037.5h15.9M124.8 1037.5h15.9M156.6 1037.5h15.9M236.2 1037.5h15.9M283.9 1037.5h15.9M761.4 1037.5h15.9M809.2 1037.5h15.9M888.8 1037.5h15.9M172.5 1038.9h15.9M204.3 1038.9h15.9M379.4 1038.9h15.9M618.2 1038.9h15.9M156.6 1040.2h15.9M395.3 1040.2h15.9M538.6 1040.2h15.9M602.3 1040.2h15.9M713.7 1040.2h31.8M140.7 1041.5h31.8M459 1041.5h15.9M904.7 1041.5h15.9M92.9 1042.9h15.9M411.3 1042.9h15.9M570.4 1042.9h15.9M856.9 1042.9h15.9M904.7 1042.9h15.9M236.2 1044.2h15.9M427.2 1044.2h15.9M713.7 1044.2h15.9M841 1044.2h31.8M904.7 1044.2h15.9M108.8 1045.5h15.9M172.5 1045.5h15.9M379.4 1045.5h15.9M506.8 1045.5h15.9M904.7 1045.5h15.9M204.3 1046.8h15.9M283.9 1046.8h15.9M459 1046.8h15.9M745.5 1046.8h15.9M777.3 1046.8h47.8M856.9 1046.8h15.9M77 1048.2h15.9M140.7 1048.2h15.9M188.4 1048.2h15.9M522.7 1048.2h15.9M172.5 1049.5h15.9M331.7 1049.5h15.9M697.8 1049.5h31.8M745.5 1049.5h15.9M904.7 1049.5h15.9M172.5 1050.8h15.9M856.9 1050.8h15.9M156.6 1052.2h15.9M283.9 1052.2h15.9M379.4 1052.2h15.9M570.4 1052.2h15.9M888.8 1052.2h31.8M236.2 1053.5h15.9M283.9 1053.5h15.9M379.4 1053.5h15.9M618.2 1053.5h15.9M140.7 1054.8h31.8M188.4 1054.8h15.9M331.7 1054.8h15.9M729.6 1054.8h15.9M777.3 1054.8h15.9M856.9 1054.8h15.9M904.7 1054.8h15.9M379.4 1056.2h15.9M522.7 1056.2h15.9M777.3 1056.2h15.9M904.7 1056.2h15.9M268 1057.5h15.9M506.8 1057.5h15.9M554.5 1057.5h15.9M745.5 1057.5h15.9M188.4 1058.8h31.8M411.3 1058.8h15.9M459 1058.8h15.9M618.2 1058.8h15.9M777.3 1058.8h15.9M809.2 1058.8h15.9M92.9 1060.2h15.9M124.8 1060.2h15.9M236.2 1060.2h15.9M427.2 1060.2h15.9M618.2 1060.2h15.9M713.7 1060.2h15.9M761.4 1060.2h15.9M793.3 1060.2h31.8M904.7 1060.2h15.9M156.6 1061.5h15.9M490.8 1061.5h15.9M570.4 1061.5h15.9M904.7 1061.5h15.9M172.5 1062.8h15.9M379.4 1062.8h15.9M347.6 1064.2h15.9M459 1064.2h15.9M618.2 1064.2h15.9M697.8 1064.2h15.9M729.6 1064.2h15.9M793.3 1064.2h15.9M841 1064.2h31.8M204.3 1065.5h15.9M427.2 1065.5h15.9M459 1065.5h15.9M538.6 1065.5h15.9M745.5 1065.5h15.9M904.7 1065.5h15.9M77 1066.8h15.9M156.6 1066.8h15.9M761.4 1066.8h15.9M172.5 1068.2h15.9M204.3 1068.2h15.9M236.2 1068.2h15.9M331.7 1068.2h15.9M618.2 1068.2h15.9M650 1068.2h15.9M745.5 1068.2h31.8M809.2 1068.2h15.9M856.9 1068.2h15.9M124.8 1069.5h31.8M172.5 1069.5h15.9M204.3 1069.5h15.9M570.4 1069.5h15.9M618.2 1069.5h15.9M761.4 1069.5h15.9M793.3 1069.5h15.9M156.6 1070.8h15.9M506.8 1070.8h15.9M904.7 1070.8h15.9M665.9 1072.2h15.9M761.4 1072.2h15.9M825.1 1072.2h15.9M172.5 1073.5h15.9M204.3 1073.5h15.9M793.3 1073.5h15.9M188.4 1074.8h47.8M522.7 1074.8h15.9M586.3 1074.8h15.9M618.2 1074.8h15.9M777.3 1074.8h15.9M252.1 1076.2h15.9M347.6 1076.2h15.9M395.3 1076.2h15.9M522.7 1076.2h15.9M554.5 1076.2h15.9M713.7 1076.2h15.9M761.4 1076.2h15.9M204.3 1077.5h15.9M347.6 1077.5h15.9M411.3 1077.5h15.9M904.7 1077.5h15.9M188.4 1078.8h15.9M459 1078.8h15.9M554.5 1078.8h15.9M188.4 1080.2h15.9M459 1080.2h15.9M522.7 1080.2h15.9M809.2 1080.2h15.9M188.4 1081.5h15.9M538.6 1081.5h15.9M586.3 1081.5h47.8M713.7 1081.5h15.9M888.8 1081.5h15.9M156.6 1082.8h31.8M761.4 1082.8h15.9M809.2 1082.8h15.9M841 1082.8h31.8M506.8 1084.2h15.9M745.5 1084.2h15.9M108.8 1085.5h15.9M156.6 1085.5h15.9M411.3 1085.5h15.9M634.1 1085.5h15.9M856.9 1085.5h15.9M204.3 1086.8h15.9M379.4 1086.8h15.9M570.4 1086.8h15.9M713.7 1086.8h15.9M140.7 1088.2h15.9M283.9 1088.2h15.9M506.8 1088.2h15.9M650 1088.2h15.9M204.3 1089.5h15.9M283.9 1089.5h15.9M411.3 1089.5h15.9M618.2 1089.5h15.9M697.8 1089.5h15.9M204.3 1090.8h15.9M379.4 1090.8h15.9M841 1090.8h47.8M236.2 1092.2h15.9M761.4 1092.2h15.9M904.7 1092.2h15.9M124.8 1093.5h15.9M172.5 1093.5h15.9M379.4 1093.5h15.9M522.7 1093.5h15.9M570.4 1093.5h15.9M124.8 1094.8h15.9M188.4 1094.8h15.9M268 1094.8h15.9M618.2 1094.8h15.9M124.8 1096.1h15.9M156.6 1096.1h15.9M729.6 1096.1h15.9M809.2 1096.1h15.9M124.8 1097.5h15.9M236.2 1097.5h15.9M379.4 1097.5h31.8M506.8 1097.5h15.9M634.1 1097.5h15.9M713.7 1097.5h15.9M745.5 1097.5h31.8M809.2 1097.5h15.9M236.2 1098.8h15.9M506.8 1098.8h15.9M729.6 1098.8h15.9M809.2 1098.8h15.9M856.9 1098.8h15.9M188.4 1100.1h15.9M283.9 1100.1h15.9M331.7 1100.1h15.9M379.4 1100.1h15.9M586.3 1100.1h15.9M156.6 1101.5h15.9M379.4 1101.5h15.9M634.1 1101.5h15.9M904.7 1101.5h15.9M108.8 1102.8h15.9M204.3 1102.8h15.9M459 1102.8h15.9M713.7 1102.8h15.9M793.3 1102.8h15.9M108.8 1104.1h15.9M188.4 1104.1h15.9M841 1104.1h15.9M124.8 1105.5h15.9M156.6 1105.5h47.8M506.8 1105.5h15.9M570.4 1105.5h15.9M650 1105.5h15.9M745.5 1105.5h15.9M793.3 1105.5h15.9M793.3 1106.8h15.9M220.3 1108.1h15.9M252.1 1108.1h15.9M665.9 1108.1h15.9M856.9 1108.1h15.9M92.9 1109.5h15.9M140.7 1109.5h15.9M252.1 1109.5h15.9M331.7 1109.5h15.9M745.5 1109.5h15.9M793.3 1109.5h15.9M172.5 1110.8h31.8M427.2 1110.8h15.9M618.2 1110.8h15.9M793.3 1110.8h15.9M108.8 1112.1h31.8M204.3 1112.1h15.9M268 1112.1h15.9M586.3 1112.1h31.8M92.9 1113.5h15.9M124.8 1113.5h15.9M188.4 1113.5h31.8M379.4 1113.5h15.9M618.2 1113.5h15.9M745.5 1113.5h15.9M92.9 1114.8h15.9M124.8 1114.8h15.9M379.4 1114.8h15.9M506.8 1114.8h15.9M204.3 1116.1h15.9M506.8 1116.1h15.9M618.2 1116.1h15.9M650 1116.1h15.9M777.3 1116.1h15.9M188.4 1117.5h15.9M252.1 1117.5h15.9M379.4 1117.5h15.9M729.6 1117.5h31.8M856.9 1117.5h15.9M888.8 1117.5h31.8M77 1118.8h15.9M140.7 1118.8h15.9M299.8 1118.8h15.9M825.1 1118.8h31.8M77 1120.1h15.9M108.8 1120.1h15.9M140.7 1120.1h15.9M204.3 1120.1h15.9M888.8 1120.1h15.9M108.8 1121.5h15.9M188.4 1121.5h15.9M618.2 1121.5h31.8M108.8 1122.8h31.8M172.5 1122.8h15.9M283.9 1122.8h15.9M347.6 1122.8h31.8M618.2 1122.8h15.9M713.7 1122.8h15.9M841 1122.8h15.9M872.8 1122.8h15.9M92.9 1124.1h15.9M156.6 1124.1h15.9M188.4 1124.1h15.9M411.3 1124.1h15.9M665.9 1124.1h15.9M92.9 1125.5h31.8M538.6 1125.5h15.9M618.2 1125.5h31.8M777.3 1125.5h15.9M77 1126.8h15.9M124.8 1126.8h15.9M268 1126.8h15.9M427.2 1126.8h15.9M108.8 1128.1h15.9M283.9 1128.1h15.9M379.4 1128.1h15.9M634.1 1128.1h15.9M713.7 1128.1h15.9M809.2 1128.1h15.9M108.8 1129.5h15.9M172.5 1129.5h15.9M204.3 1129.5h15.9M379.4 1129.5h15.9M411.3 1129.5h15.9M634.1 1130.8h15.9M729.6 1130.8h15.9M761.4 1130.8h15.9M236.2 1132.1h15.9M459 1132.1h15.9M634.1 1132.1h15.9M140.7 1133.5h31.8M252.1 1133.5h15.9M283.9 1133.5h15.9M538.6 1133.5h15.9M745.5 1133.5h15.9M108.8 1134.8h15.9M172.5 1134.8h15.9M379.4 1134.8h15.9M745.5 1134.8h15.9M841 1134.8h15.9M92.9 1136.1h15.9M124.8 1136.1h31.8M188.4 1136.1h15.9M379.4 1136.1h15.9M618.2 1136.1h15.9M745.5 1136.1h15.9M777.3 1136.1h31.8M172.5 1137.5h15.9M283.9 1137.5h15.9M427.2 1137.5h15.9M570.4 1137.5h15.9M618.2 1137.5h15.9M697.8 1137.5h31.8M809.2 1137.5h15.9M904.7 1137.5h15.9M77 1138.8h15.9M140.7 1138.8h15.9M204.3 1138.8h15.9M283.9 1138.8h15.9M379.4 1138.8h15.9M506.8 1138.8h15.9M570.4 1138.8h15.9M634.1 1138.8h31.8M777.3 1138.8h15.9M888.8 1138.8h15.9M204.3 1140.1h15.9M252.1 1140.1h15.9M299.8 1140.1h15.9M872.8 1140.1h15.9M77 1141.5h15.9M252.1 1141.5h15.9M490.8 1141.5h15.9M650 1141.5h15.9M777.3 1141.5h15.9M92.9 1142.8h15.9M124.8 1142.8h15.9M411.3 1142.8h15.9M522.7 1142.8h15.9M618.2 1142.8h15.9M681.8 1142.8h15.9M856.9 1142.8h15.9M108.8 1144.1h15.9M347.6 1144.1h15.9M459 1144.1h15.9M490.8 1144.1h15.9M697.8 1144.1h15.9M809.2 1144.1h15.9M872.8 1144.1h15.9M156.6 1145.4h15.9M379.4 1145.4h15.9M506.8 1145.4h31.8M713.7 1145.4h15.9M92.9 1146.8h15.9M140.7 1146.8h15.9M363.5 1146.8h15.9M427.2 1146.8h15.9M602.3 1146.8h15.9M745.5 1146.8h15.9M347.6 1148.1h15.9M554.5 1148.1h15.9M777.3 1148.1h15.9M77 1149.4h15.9M124.8 1149.4h15.9M188.4 1149.4h15.9M252.1 1149.4h15.9M283.9 1149.4h15.9M586.3 1149.4h15.9M761.4 1149.4h31.8M825.1 1149.4h15.9M283.9 1150.8h15.9M379.4 1150.8h15.9M522.7 1150.8h31.8M634.1 1150.8h15.9M904.7 1150.8h15.9M124.8 1152.1h15.9M156.6 1152.1h15.9M252.1 1152.1h15.9M618.2 1152.1h15.9M697.8 1152.1h15.9M809.2 1152.1h15.9M204.3 1153.4h31.8M252.1 1153.4h15.9M379.4 1153.4h15.9M506.8 1153.4h15.9M809.2 1153.4h15.9M108.8 1154.8h15.9M204.3 1154.8h15.9M761.4 1154.8h15.9M108.8 1156.1h15.9M586.3 1156.1h15.9M618.2 1156.1h15.9M793.3 1156.1h15.9M77 1157.4h15.9M459 1157.4h15.9M793.3 1157.4h15.9M904.7 1157.4h15.9M108.8 1158.8h47.8M172.5 1158.8h15.9M490.8 1158.8h15.9M650 1158.8h15.9M252.1 1160.1h15.9M825.1 1160.1h15.9M872.8 1160.1h15.9M188.4 1161.4h15.9M77 1162.8h15.9M156.6 1162.8h31.8M459 1162.8h15.9M77 1164.1h15.9M156.6 1164.1h31.8M252.1 1164.1h31.8M729.6 1164.1h15.9M108.8 1165.4h15.9M427.2 1165.4h47.8M761.4 1165.4h15.9M793.3 1165.4h15.9M856.9 1165.4h15.9M459 1166.8h15.9M554.5 1166.8h15.9M586.3 1166.8h15.9M745.5 1166.8h15.9M856.9 1166.8h15.9M77 1168.1h31.8M124.8 1168.1h15.9M156.6 1168.1h15.9M188.4 1168.1h15.9M236.2 1168.1h15.9M283.9 1168.1h15.9M347.6 1168.1h15.9M411.3 1168.1h15.9M506.8 1168.1h15.9M618.2 1168.1h15.9M809.2 1168.1h15.9M856.9 1168.1h15.9M108.8 1169.4h15.9M172.5 1169.4h15.9M252.1 1169.4h15.9M506.8 1169.4h31.8M793.3 1169.4h15.9M904.7 1169.4h15.9M124.8 1170.8h15.9M665.9 1170.8h15.9M777.3 1170.8h15.9M904.7 1170.8h15.9M108.8 1172.1h15.9M156.6 1172.1h15.9M888.8 1172.1h15.9M92.9 1173.4h15.9M156.6 1173.4h15.9M570.4 1173.4h15.9M713.7 1173.4h15.9M761.4 1173.4h15.9M856.9 1173.4h15.9M92.9 1174.8h15.9M506.8 1174.8h15.9M586.3 1174.8h15.9M904.7 1174.8h15.9M77 1176.1h15.9M124.8 1176.1h15.9M283.9 1176.1h15.9M331.7 1176.1h15.9M459 1176.1h15.9M554.5 1176.1h15.9M77 1177.4h15.9M140.7 1177.4h31.8M411.3 1177.4h15.9M634.1 1177.4h31.8M156.6 1178.8h15.9M188.4 1178.8h15.9M347.6 1178.8h15.9M570.4 1178.8h15.9M634.1 1178.8h31.8M379.4 1180.1h15.9M459 1180.1h15.9M506.8 1180.1h15.9M713.7 1180.1h15.9M761.4 1180.1h15.9M204.3 1181.4h15.9M443.1 1181.4h15.9M506.8 1181.4h15.9M586.3 1181.4h15.9M793.3 1181.4h15.9M841 1181.4h15.9M140.7 1182.8h47.8M252.1 1182.8h15.9M474.9 1182.8h15.9M506.8 1182.8h15.9M77 1184.1h15.9M681.8 1184.1h15.9M856.9 1184.1h15.9M172.5 1185.4h15.9M204.3 1185.4h15.9M252.1 1185.4h15.9M713.7 1185.4h15.9M124.8 1186.8h15.9M156.6 1186.8h15.9M554.5 1186.8h15.9M841 1186.8h15.9M188.4 1188.1h15.9M283.9 1188.1h15.9M538.6 1188.1h15.9M570.4 1188.1h15.9M124.8 1189.4h15.9M156.6 1189.4h15.9M188.4 1189.4h31.8M379.4 1189.4h15.9M459 1189.4h15.9M554.5 1189.4h15.9M904.7 1189.4h15.9M506.8 1190.8h15.9M570.4 1190.8h15.9M124.8 1192.1h15.9M236.2 1192.1h15.9M283.9 1192.1h15.9M570.4 1192.1h15.9M108.8 1193.4h15.9M172.5 1193.4h31.8M729.6 1193.4h15.9M172.5 1194.7h47.8M570.4 1194.7h15.9M745.5 1194.7h15.9M904.7 1194.7h15.9M77 1196.1h15.9M124.8 1196.1h15.9M220.3 1196.1h15.9M634.1 1196.1h15.9M745.5 1196.1h15.9M809.2 1196.1h15.9M841 1196.1h15.9M124.8 1197.4h15.9M156.6 1197.4h15.9M77 1198.7h15.9M124.8 1198.7h15.9M188.4 1198.7h15.9M268 1198.7h31.8M379.4 1198.7h15.9M506.8 1198.7h15.9M809.2 1198.7h15.9M888.8 1198.7h15.9M570.4 1200.1h15.9M634.1 1200.1h15.9M904.7 1200.1h15.9M108.8 1201.4h15.9M252.1 1201.4h15.9M459 1201.4h15.9M904.7 1201.4h15.9M188.4 1202.7h15.9M395.3 1202.7h15.9M745.5 1202.7h15.9M283.9 1204.1h15.9M506.8 1204.1h15.9M650 1204.1h15.9M729.6 1204.1h15.9M825.1 1204.1h15.9M124.8 1205.4h15.9M188.4 1205.4h15.9M236.2 1205.4h15.9M427.2 1205.4h15.9M872.8 1205.4h15.9M156.6 1206.7h15.9M268 1206.7h15.9M459 1206.7h15.9M618.2 1206.7h15.9M713.7 1206.7h15.9M236.2 1208.1h15.9M506.8 1208.1h15.9M665.9 1208.1h15.9M856.9 1208.1h15.9M156.6 1209.4h15.9M459 1209.4h15.9M188.4 1210.7h31.8M474.9 1210.7h15.9M538.6 1210.7h15.9M650 1212.1h31.8M745.5 1212.1h15.9M856.9 1212.1h15.9M156.6 1213.4h15.9M77 1214.7h15.9M443.1 1214.7h31.8M570.4 1214.7h15.9M856.9 1214.7h15.9M904.7 1214.7h15.9M124.8 1216.1h15.9M283.9 1216.1h15.9M331.7 1216.1h15.9M427.2 1216.1h15.9M554.5 1216.1h15.9M697.8 1216.1h15.9M856.9 1216.1h15.9M888.8 1216.1h15.9M506.8 1217.4h15.9M745.5 1217.4h15.9M793.3 1217.4h31.8M888.8 1217.4h15.9M156.6 1218.7h15.9M204.3 1218.7h15.9M554.5 1218.7h15.9M650 1218.7h15.9M745.5 1218.7h15.9M888.8 1220.1h15.9M156.6 1221.4h15.9M474.9 1221.4h15.9M538.6 1221.4h15.9M745.5 1221.4h15.9M108.8 1222.7h15.9M156.6 1222.7h31.8M283.9 1222.7h31.8M665.9 1222.7h15.9M745.5 1222.7h15.9M793.3 1224.1h15.9M156.6 1225.4h47.8M459 1225.4h15.9M761.4 1225.4h15.9M474.9 1226.7h15.9M522.7 1226.7h15.9M697.8 1226.7h15.9M745.5 1226.7h15.9M856.9 1226.7h15.9M904.7 1226.7h15.9M379.4 1228.1h15.9M459 1228.1h15.9M506.8 1228.1h15.9M634.1 1228.1h15.9M841 1228.1h15.9M140.7 1229.4h31.8M204.3 1229.4h15.9M634.1 1229.4h15.9M713.7 1229.4h15.9M793.3 1229.4h15.9M77 1230.7h15.9M283.9 1230.7h15.9M586.3 1230.7h15.9M618.2 1230.7h15.9M713.7 1230.7h15.9M156.6 1232.1h15.9M379.4 1232.1h15.9M522.7 1232.1h15.9M618.2 1232.1h15.9M729.6 1232.1h15.9M888.8 1232.1h15.9M140.7 1233.4h15.9M459 1233.4h15.9M506.8 1233.4h15.9M77 1234.7h15.9M108.8 1234.7h15.9M777.3 1234.7h15.9M809.2 1234.7h15.9M172.5 1236.1h31.8M506.8 1236.1h15.9M554.5 1236.1h15.9M618.2 1236.1h15.9M745.5 1236.1h15.9M283.9 1237.4h15.9M618.2 1237.4h15.9M888.8 1237.4h15.9M172.5 1238.7h15.9M252.1 1238.7h15.9M427.2 1238.7h15.9M729.6 1238.7h15.9M825.1 1238.7h15.9M856.9 1238.7h15.9M140.7 1240.1h15.9M188.4 1240.1h15.9M220.3 1240.1h15.9M427.2 1240.1h15.9M761.4 1240.1h15.9M809.2 1240.1h15.9M841 1240.1h15.9M188.4 1241.4h15.9M283.9 1241.4h15.9M411.3 1241.4h15.9M761.4 1241.4h15.9M793.3 1241.4h15.9M252.1 1242.7h15.9M793.3 1242.7h15.9M888.8 1242.7h15.9M427.2 1244h15.9M506.8 1244h31.8M713.7 1244h15.9M188.4 1245.4h15.9M156.6 1246.7h31.8M252.1 1246.7h15.9M411.3 1246.7h15.9M793.3 1246.7h15.9M172.5 1248h15.9M204.3 1248h15.9M283.9 1248h15.9M586.3 1248h31.8M825.1 1248h15.9M856.9 1248h15.9M888.8 1248h15.9M77 1249.4h15.9M156.6 1249.4h47.8M331.7 1249.4h15.9M793.3 1249.4h15.9M411.3 1250.7h15.9M554.5 1250.7h15.9M634.1 1250.7h15.9M745.5 1250.7h15.9M793.3 1250.7h31.8M124.8 1252h15.9M204.3 1252h15.9M650 1252h15.9M745.5 1252h15.9M77 1253.4h15.9M459 1253.4h15.9M570.4 1253.4h15.9M602.3 1253.4h15.9M650 1253.4h15.9M713.7 1253.4h15.9M761.4 1253.4h15.9M108.8 1254.7h15.9M156.6 1254.7h15.9M188.4 1254.7h15.9M506.8 1254.7h15.9M745.5 1254.7h15.9M777.3 1254.7h15.9M77 1256h15.9M204.3 1256h15.9M427.2 1256h15.9M506.8 1256h15.9M697.8 1256h31.8M108.8 1257.4h31.8M268 1257.4h15.9M618.2 1257.4h15.9M777.3 1257.4h47.8M124.8 1258.7h15.9M156.6 1258.7h15.9M268 1258.7h15.9M347.6 1258.7h15.9M570.4 1258.7h15.9M904.7 1258.7h15.9M124.8 1260h15.9M172.5 1260h15.9M204.3 1260h15.9M506.8 1260h15.9M634.1 1260h15.9M761.4 1260h15.9M888.8 1261.4h15.9M156.6 1262.7h15.9M427.2 1262.7h15.9M554.5 1262.7h15.9M618.2 1262.7h15.9M140.7 1264h31.8M220.3 1264h15.9M411.3 1264h15.9M506.8 1264h15.9M570.4 1264h15.9M618.2 1264h15.9M793.3 1264h15.9M856.9 1264h15.9M904.7 1264h15.9M77 1265.4h15.9M156.6 1265.4h15.9M188.4 1265.4h15.9M459 1265.4h15.9M570.4 1265.4h15.9M745.5 1265.4h15.9M904.7 1265.4h15.9M172.5 1266.7h15.9M315.8 1266.7h15.9M379.4 1266.7h15.9M459 1266.7h15.9M841 1266.7h15.9M904.7 1266.7h15.9M188.4 1268h15.9M506.8 1268h15.9M618.2 1268h15.9M729.6 1268h15.9M793.3 1268h15.9M841 1268h15.9M888.8 1268h31.8M140.7 1269.4h63.7M443.1 1269.4h15.9M586.3 1269.4h15.9M665.9 1269.4h15.9M761.4 1269.4h15.9M856.9 1269.4h15.9M411.3 1270.7h15.9M570.4 1270.7h15.9M124.8 1272h15.9M172.5 1272h15.9M252.1 1272h15.9M379.4 1272h15.9M411.3 1272h15.9M459 1272h15.9M825.1 1272h15.9M888.8 1272h15.9M156.6 1273.4h15.9M188.4 1273.4h31.8M283.9 1273.4h15.9M745.5 1273.4h15.9M904.7 1273.4h15.9M236.2 1274.7h15.9M427.2 1274.7h15.9M459 1274.7h15.9M634.1 1274.7h15.9M825.1 1274.7h15.9M856.9 1274.7h15.9M904.7 1274.7h15.9M124.8 1276h15.9M172.5 1276h15.9M443.1 1276h15.9M841 1276h15.9M77 1277.4h15.9M108.8 1277.4h15.9M459 1277.4h15.9M634.1 1277.4h15.9M713.7 1277.4h15.9M888.8 1277.4h15.9M204.3 1278.7h15.9M283.9 1278.7h15.9M459 1278.7h15.9M570.4 1278.7h15.9M188.4 1280h15.9M236.2 1280h15.9M570.4 1280h15.9M809.2 1280h15.9M856.9 1280h15.9M188.4 1281.4h15.9M236.2 1281.4h15.9M140.7 1282.7h15.9M236.2 1282.7h15.9M841 1282.7h15.9M888.8 1282.7h15.9M108.8 1284h15.9M252.1 1284h15.9M283.9 1284h15.9M379.4 1284h15.9M459 1284h15.9M506.8 1284h15.9M713.7 1284h15.9M809.2 1284h15.9M856.9 1284h15.9M713.7 1285.4h15.9M888.8 1285.4h15.9M379.4 1286.7h15.9M618.2 1286.7h15.9M729.6 1286.7h15.9M124.8 1288h15.9M713.7 1288h15.9M809.2 1288h15.9M904.7 1288h15.9M522.7 1289.4h15.9M554.5 1289.4h15.9M665.9 1289.4h15.9M713.7 1289.4h15.9M156.6 1290.7h15.9M554.5 1290.7h15.9M586.3 1290.7h31.8M761.4 1290.7h15.9M77 1292h15.9M252.1 1292h15.9M283.9 1292h15.9M474.9 1292h15.9M124.8 1293.3h15.9M506.8 1293.3h15.9M713.7 1293.3h15.9M411.3 1294.7h15.9M490.8 1294.7h31.8M697.8 1294.7h15.9M841 1294.7h15.9M872.8 1294.7h15.9M172.5 1296h31.8M602.3 1296h15.9M650 1296h15.9M140.7 1297.3h15.9M172.5 1297.3h15.9M204.3 1297.3h15.9M490.8 1297.3h31.8M825.1 1297.3h15.9M459 1298.7h15.9M506.8 1298.7h15.9M809.2 1298.7h15.9M156.6 1300h31.8M331.7 1300h31.8M204.3 1301.3h15.9M506.8 1301.3h15.9M602.3 1301.3h31.8M92.9 1302.7h15.9M172.5 1302.7h15.9M204.3 1302.7h15.9M283.9 1302.7h15.9M665.9 1302.7h15.9M809.2 1302.7h15.9M172.5 1304h15.9M538.6 1304h15.9M570.4 1304h15.9M618.2 1304h31.8M697.8 1304h15.9M92.9 1305.3h15.9M713.7 1305.3h15.9M268 1306.7h15.9M363.5 1306.7h15.9M618.2 1306.7h15.9M745.5 1306.7h15.9M904.7 1306.7h15.9M108.8 1308h15.9M825.1 1308h15.9M888.8 1308h15.9M92.9 1309.3h15.9M124.8 1309.3h15.9M156.6 1309.3h15.9M777.3 1309.3h15.9M856.9 1309.3h15.9M124.8 1310.7h15.9M506.8 1310.7h15.9M729.6 1310.7h15.9M856.9 1310.7h15.9M172.5 1312h15.9M204.3 1312h15.9M347.6 1312h15.9M538.6 1312h15.9M729.6 1312h15.9M777.3 1312h15.9M825.1 1312h15.9M124.8 1313.3h15.9M156.6 1313.3h31.8M459 1313.3h15.9M761.4 1313.3h15.9M793.3 1313.3h15.9M188.4 1314.7h15.9M347.6 1314.7h15.9M745.5 1314.7h15.9M841 1314.7h15.9M156.6 1316h15.9M236.2 1316h15.9M570.4 1316h15.9M618.2 1316h15.9M841 1316h31.8M236.2 1317.3h15.9M856.9 1317.3h15.9M172.5 1318.7h15.9M713.7 1318.7h15.9M809.2 1318.7h15.9M77 1320h15.9M713.7 1320h15.9M395.3 1321.3h15.9M506.8 1321.3h15.9M570.4 1321.3h15.9M745.5 1322.7h15.9M841 1322.7h15.9M108.8 1324h15.9M188.4 1324h15.9M252.1 1324h15.9M411.3 1324h15.9M729.6 1324h15.9M761.4 1324h15.9M888.8 1324h15.9M77 1325.3h15.9M156.6 1325.3h15.9M252.1 1325.3h15.9M459 1325.3h15.9M506.8 1325.3h15.9M602.3 1325.3h15.9M427.2 1326.7h15.9M761.4 1326.7h15.9M856.9 1326.7h15.9M156.6 1328h15.9M188.4 1328h31.8M283.9 1328h15.9M650 1328h15.9M156.6 1329.3h31.8M490.8 1329.3h15.9M761.4 1329.3h15.9M92.9 1330.7h15.9M140.7 1330.7h15.9M204.3 1330.7h15.9M411.3 1330.7h15.9M506.8 1330.7h15.9M665.9 1330.7h15.9M793.3 1330.7h15.9M856.9 1330.7h15.9M268 1332h31.8M618.2 1332h15.9M745.5 1332h15.9M156.6 1333.3h15.9M236.2 1333.3h15.9M506.8 1333.3h15.9M713.7 1333.3h15.9M793.3 1333.3h15.9M888.8 1333.3h15.9M379.4 1334.7h15.9M713.7 1334.7h15.9M761.4 1334.7h15.9M124.8 1336h15.9M188.4 1336h15.9M443.1 1336h15.9M538.6 1336h15.9M570.4 1336h15.9M618.2 1336h31.8M904.7 1336h15.9M124.8 1337.3h15.9M283.9 1337.3h15.9M506.8 1337.3h15.9M745.5 1337.3h15.9M204.3 1338.7h15.9M427.2 1338.7h15.9M777.3 1338.7h15.9M856.9 1338.7h15.9M92.9 1340h15.9M124.8 1340h15.9M204.3 1340h15.9M506.8 1340h15.9M618.2 1340h31.8M665.9 1340h15.9M697.8 1340h15.9M77 1341.3h15.9M124.8 1341.3h15.9M204.3 1341.3h15.9M522.7 1341.3h15.9M888.8 1341.3h15.9M140.7 1342.6h15.9M283.9 1342.6h15.9M761.4 1342.6h47.8M825.1 1342.6h15.9M856.9 1342.6h15.9M888.8 1342.6h15.9M602.3 1344h15.9M745.5 1344h15.9M856.9 1344h15.9M172.5 1345.3h15.9M283.9 1345.3h15.9M761.4 1345.3h15.9M268 1346.6h15.9M315.8 1346.6h15.9M506.8 1346.6h15.9M793.3 1346.6h15.9M92.9 1348h15.9M124.8 1348h47.8M506.8 1348h15.9M570.4 1348h15.9M156.6 1349.3h31.8M443.1 1349.3h15.9M570.4 1349.3h15.9M681.8 1349.3h15.9M856.9 1349.3h15.9M888.8 1349.3h15.9M140.7 1350.6h31.8M220.3 1350.6h15.9M252.1 1350.6h15.9M522.7 1350.6h15.9M729.6 1350.6h15.9M793.3 1350.6h15.9M856.9 1350.6h15.9M92.9 1352h15.9M124.8 1352h15.9M124.8 1353.3h15.9M188.4 1353.3h15.9M411.3 1353.3h15.9M554.5 1353.3h15.9M618.2 1353.3h15.9M681.8 1353.3h15.9M713.7 1353.3h15.9M172.5 1354.6h31.8M474.9 1354.6h15.9M506.8 1354.6h15.9M554.5 1354.6h15.9M856.9 1354.6h15.9M411.3 1356h15.9M856.9 1356h15.9M124.8 1357.3h15.9M172.5 1357.3h31.8M331.7 1357.3h15.9M459 1357.3h15.9M841 1357.3h15.9M904.7 1357.3h15.9M92.9 1358.6h31.8M140.7 1358.6h15.9M188.4 1358.6h15.9M554.5 1358.6h15.9M618.2 1358.6h15.9M729.6 1358.6h15.9M888.8 1358.6h15.9M172.5 1360h31.8M618.2 1360h15.9M825.1 1360h15.9M856.9 1360h15.9M379.4 1361.3h15.9M618.2 1361.3h15.9M856.9 1361.3h15.9M904.7 1361.3h15.9M124.8 1362.6h15.9M172.5 1362.6h15.9M204.3 1362.6h15.9M411.3 1362.6h15.9M602.3 1362.6h15.9M697.8 1362.6h15.9M729.6 1362.6h15.9M825.1 1362.6h15.9M888.8 1362.6h31.8M156.6 1364h31.8M459 1364h15.9M538.6 1364h15.9M777.3 1364h15.9M904.7 1364h15.9M427.2 1365.3h15.9M459 1365.3h15.9M713.7 1365.3h15.9M793.3 1365.3h15.9M856.9 1365.3h15.9M108.8 1366.6h15.9M554.5 1366.6h15.9M856.9 1366.6h15.9"/>
<path stroke="#064e2a" d="M283.9 1018.9h15.9M506.8 1018.9h15.9M156.6 1020.2h15.9M888.8 1020.2h15.9M188.4 1021.5h15.9M856.9 1021.5h15.9M761.4 1022.9h15.9M825.1 1022.9h15.9M283.9 1024.2h15.9M490.8 1024.2h31.8M713.7 1025.5h15.9M856.9 1025.5h15.9M506.8 1028.2h15.9M777.3 1028.2h15.9M856.9 1028.2h15.9M379.4 1029.5h15.9M570.4 1029.5h15.9M793.3 1029.5h15.9M77 1030.9h15.9M124.8 1030.9h15.9M841 1030.9h15.9M172.5 1032.2h31.8M268 1032.2h15.9M777.3 1032.2h15.9M188.4 1033.5h15.9M522.7 1033.5h15.9M586.3 1033.5h15.9M283.9 1036.2h15.9M618.2 1037.5h15.9M856.9 1037.5h15.9M77 1038.9h15.9M188.4 1038.9h15.9M411.3 1041.5h15.9M618.2 1041.5h15.9M156.6 1042.9h63.7M506.8 1042.9h15.9M188.4 1044.2h31.8M665.9 1044.2h15.9M459 1045.5h15.9M92.9 1046.8h15.9M379.4 1046.8h15.9M124.8 1048.2h15.9M618.2 1049.5h15.9M459 1050.8h15.9M172.5 1052.2h31.8M459 1052.2h15.9M618.2 1052.2h15.9M841 1052.2h15.9M140.7 1053.5h15.9M315.8 1053.5h15.9M586.3 1053.5h15.9M172.5 1054.8h15.9M156.6 1056.2h15.9M506.8 1056.2h15.9M793.3 1056.2h15.9M124.8 1058.8h15.9M156.6 1058.8h15.9M252.1 1058.8h15.9M506.8 1058.8h15.9M904.7 1058.8h15.9M188.4 1060.2h15.9M506.8 1060.2h15.9M570.4 1060.2h15.9M108.8 1061.5h15.9M188.4 1061.5h15.9M427.2 1061.5h15.9M108.8 1062.8h31.8M156.6 1062.8h15.9M411.3 1062.8h15.9M570.4 1062.8h15.9M793.3 1062.8h15.9M506.8 1064.2h15.9M188.4 1068.2h15.9M506.8 1068.2h15.9M856.9 1069.5h15.9M888.8 1069.5h15.9M77 1070.8h15.9M188.4 1070.8h15.9M459 1073.5h15.9M904.7 1073.5h15.9M841 1074.8h15.9M888.8 1074.8h15.9M140.7 1077.5h31.8M586.3 1077.5h15.9M745.5 1077.5h15.9M252.1 1080.2h15.9M108.8 1081.5h15.9M777.3 1081.5h15.9M856.9 1081.5h15.9M156.6 1084.2h15.9M586.3 1084.2h15.9M618.2 1084.2h31.8M697.8 1084.2h15.9M872.8 1085.5h15.9M379.4 1088.2h15.9M602.3 1088.2h15.9M888.8 1088.2h15.9M188.4 1089.5h15.9M379.4 1089.5h15.9M506.8 1089.5h15.9M793.3 1089.5h15.9M108.8 1090.8h15.9M172.5 1092.2h15.9M506.8 1092.2h15.9M538.6 1092.2h15.9M586.3 1092.2h15.9M618.2 1092.2h15.9M252.1 1093.5h15.9M856.9 1093.5h15.9M729.6 1097.5h15.9M124.8 1098.8h15.9M77 1100.1h15.9M156.6 1100.1h15.9M809.2 1100.1h15.9M856.9 1100.1h15.9M888.8 1100.1h31.8M236.2 1101.5h15.9M156.6 1102.8h15.9M856.9 1102.8h15.9M506.8 1104.1h15.9M236.2 1105.5h15.9M506.8 1106.8h15.9M538.6 1106.8h15.9M809.2 1106.8h15.9M379.4 1108.1h15.9M411.3 1108.1h15.9M634.1 1108.1h15.9M156.6 1109.5h15.9M634.1 1109.5h15.9M108.8 1110.8h15.9M156.6 1110.8h15.9M204.3 1110.8h15.9M459 1110.8h15.9M665.9 1110.8h15.9M856.9 1110.8h15.9M888.8 1112.1h15.9M506.8 1113.5h15.9M713.7 1113.5h15.9M856.9 1113.5h15.9M172.5 1114.8h15.9M459 1114.8h15.9M761.4 1114.8h31.8M856.9 1114.8h15.9M77 1116.1h15.9M156.6 1116.1h15.9M188.4 1116.1h15.9M236.2 1118.8h15.9M411.3 1118.8h15.9M825.1 1120.1h15.9M204.3 1121.5h15.9M188.4 1122.8h15.9M379.4 1124.1h15.9M650 1124.1h15.9M729.6 1124.1h15.9M856.9 1124.1h15.9M124.8 1125.5h15.9M172.5 1125.5h31.8M283.9 1125.5h15.9M506.8 1125.5h15.9M856.9 1125.5h15.9M204.3 1126.8h15.9M856.9 1126.8h15.9M888.8 1126.8h15.9M777.3 1128.1h15.9M124.8 1129.5h15.9M841 1129.5h31.8M77 1130.8h15.9M108.8 1132.1h31.8M729.6 1132.1h15.9M172.5 1133.5h15.9M427.2 1133.5h15.9M697.8 1133.5h15.9M124.8 1134.8h15.9M411.3 1134.8h15.9M506.8 1134.8h15.9M904.7 1134.8h15.9M506.8 1136.1h15.9M156.6 1137.5h15.9M395.3 1137.5h15.9M188.4 1138.8h15.9M713.7 1138.8h15.9M793.3 1138.8h15.9M904.7 1138.8h15.9M188.4 1140.1h15.9M506.8 1140.1h15.9M856.9 1141.5h15.9M172.5 1144.1h15.9M252.1 1144.1h15.9M506.8 1144.1h15.9M761.4 1144.1h15.9M124.8 1146.8h15.9M506.8 1146.8h15.9M856.9 1146.8h15.9M108.8 1148.1h15.9M506.8 1148.1h15.9M856.9 1148.1h15.9M411.3 1150.8h15.9M459 1150.8h15.9M506.8 1150.8h15.9M856.9 1150.8h15.9M188.4 1152.1h15.9M761.4 1152.1h15.9M888.8 1152.1h15.9M761.4 1153.4h15.9M777.3 1154.8h15.9M347.6 1156.1h15.9M459 1156.1h15.9M506.8 1156.1h15.9M697.8 1156.1h15.9M888.8 1156.1h15.9M92.9 1157.4h15.9M204.3 1157.4h15.9M379.4 1157.4h15.9M379.4 1158.8h15.9M506.8 1158.8h15.9M904.7 1158.8h15.9M172.5 1160.1h31.8M538.6 1162.8h15.9M379.4 1164.1h15.9M172.5 1165.4h31.8M888.8 1165.4h15.9M204.3 1168.1h15.9M124.8 1169.4h15.9M156.6 1169.4h15.9M538.6 1169.4h15.9M634.1 1169.4h15.9M745.5 1169.4h15.9M172.5 1170.8h15.9M506.8 1172.1h15.9M124.8 1173.4h15.9M809.2 1174.8h15.9M204.3 1176.1h15.9M490.8 1176.1h15.9M904.7 1176.1h15.9M172.5 1177.4h15.9M570.4 1177.4h15.9M124.8 1180.1h15.9M745.5 1180.1h15.9M888.8 1180.1h15.9M156.6 1181.4h15.9M459 1181.4h15.9M108.8 1182.8h15.9M777.3 1182.8h15.9M634.1 1185.4h15.9M172.5 1186.8h31.8M347.6 1186.8h15.9M379.4 1186.8h15.9M156.6 1188.1h15.9M506.8 1189.4h15.9M618.2 1189.4h15.9M856.9 1189.4h15.9M124.8 1190.8h15.9M347.6 1190.8h15.9M411.3 1190.8h15.9M729.6 1190.8h15.9M172.5 1192.1h15.9M395.3 1192.1h15.9M793.3 1192.1h15.9M856.9 1192.1h15.9M570.4 1193.4h15.9M634.1 1193.4h15.9M697.8 1193.4h15.9M506.8 1196.1h15.9M570.4 1196.1h15.9M856.9 1196.1h15.9M77 1197.4h15.9M188.4 1197.4h15.9M379.4 1197.4h15.9M713.7 1197.4h15.9M236.2 1198.7h15.9M379.4 1200.1h15.9M761.4 1200.1h15.9M506.8 1201.4h15.9M538.6 1201.4h15.9M809.2 1201.4h15.9M856.9 1202.7h15.9M888.8 1202.7h15.9M77 1205.4h15.9M108.8 1205.4h15.9M220.3 1205.4h15.9M315.8 1205.4h15.9M459 1205.4h15.9M761.4 1205.4h15.9M188.4 1206.7h15.9M777.3 1206.7h15.9M77 1209.4h15.9M188.4 1212.1h15.9M77 1213.4h15.9M856.9 1213.4h15.9M888.8 1213.4h15.9M713.7 1214.7h15.9M888.8 1214.7h15.9M665.9 1216.1h15.9M156.6 1217.4h15.9M411.3 1217.4h15.9M570.4 1217.4h15.9M793.3 1218.7h15.9M841 1218.7h15.9M108.8 1220.1h15.9M156.6 1220.1h15.9M283.9 1220.1h15.9M856.9 1220.1h15.9M506.8 1221.4h15.9M586.3 1221.4h15.9M713.7 1221.4h15.9M825.1 1221.4h15.9M602.3 1222.7h15.9M650 1222.7h15.9M172.5 1224.1h31.8M108.8 1225.4h15.9M506.8 1225.4h15.9M570.4 1225.4h15.9M809.2 1225.4h15.9M856.9 1225.4h15.9M793.3 1226.7h15.9M108.8 1228.1h15.9M156.6 1228.1h31.8M729.6 1228.1h15.9M188.4 1229.4h15.9M841 1229.4h15.9M156.6 1230.7h31.8M331.7 1230.7h15.9M506.8 1230.7h15.9M665.9 1230.7h15.9M204.3 1232.1h15.9M347.6 1232.1h15.9M793.3 1232.1h15.9M252.1 1233.4h15.9M411.3 1236.1h15.9M856.9 1236.1h15.9M124.8 1237.4h15.9M650 1237.4h15.9M77 1238.7h15.9M188.4 1238.7h15.9M283.9 1238.7h15.9M172.5 1240.1h15.9M92.9 1241.4h15.9M713.7 1241.4h15.9M427.2 1242.7h15.9M459 1242.7h15.9M697.8 1242.7h15.9M618.2 1245.4h15.9M77 1248h15.9M618.2 1248h15.9M124.8 1249.4h15.9M506.8 1249.4h15.9M856.9 1249.4h15.9M124.8 1250.7h15.9M156.6 1250.7h15.9M347.6 1250.7h15.9M459 1250.7h15.9M602.3 1250.7h15.9M108.8 1252h15.9M188.4 1252h15.9M506.8 1252h15.9M793.3 1252h15.9M188.4 1253.4h15.9M506.8 1253.4h15.9M379.4 1254.7h15.9M618.2 1254.7h15.9M825.1 1254.7h31.8M172.5 1257.4h15.9M506.8 1257.4h15.9M856.9 1257.4h15.9M904.7 1257.4h15.9M92.9 1258.7h15.9M108.8 1260h15.9M283.9 1260h15.9M618.2 1260h15.9M188.4 1261.4h31.8M856.9 1261.4h15.9M77 1262.7h15.9M427.2 1264h15.9M825.1 1265.4h15.9M77 1266.7h15.9M506.8 1266.7h15.9M825.1 1266.7h15.9M252.1 1269.4h15.9M506.8 1269.4h15.9M793.3 1269.4h15.9M188.4 1270.7h15.9M665.9 1270.7h15.9M713.7 1270.7h15.9M188.4 1272h15.9M761.4 1272h15.9M856.9 1272h15.9M92.9 1273.4h15.9M172.5 1273.4h15.9M379.4 1274.7h15.9M570.4 1274.7h15.9M713.7 1274.7h15.9M459 1276h15.9M506.8 1276h15.9M856.9 1276h15.9M172.5 1277.4h15.9M283.9 1277.4h15.9M427.2 1277.4h15.9M856.9 1278.7h15.9M172.5 1280h15.9M841 1280h15.9M793.3 1282.7h15.9M856.9 1282.7h15.9M904.7 1282.7h15.9M793.3 1284h15.9M506.8 1285.4h15.9M841 1285.4h15.9M156.6 1286.7h15.9M745.5 1286.7h15.9M856.9 1286.7h15.9M77 1288h15.9M459 1288h15.9M841 1288h15.9M204.3 1289.4h15.9M506.8 1289.4h15.9M650 1289.4h15.9M443.1 1290.7h15.9M745.5 1293.3h15.9M108.8 1294.7h15.9M156.6 1294.7h15.9M156.6 1296h15.9M124.8 1297.3h15.9M188.4 1297.3h15.9M586.3 1298.7h15.9M618.2 1298.7h15.9M124.8 1301.3h15.9M188.4 1301.3h15.9M283.9 1301.3h15.9M268 1302.7h15.9M634.1 1302.7h15.9M713.7 1302.7h15.9M745.5 1302.7h15.9M904.7 1302.7h15.9M459 1304h15.9M888.8 1304h31.8M124.8 1305.3h15.9M188.4 1305.3h15.9M347.6 1305.3h15.9M665.9 1305.3h15.9M777.3 1305.3h15.9M665.9 1306.7h15.9M156.6 1308h15.9M188.4 1308h15.9M554.5 1308h15.9M745.5 1308h15.9M77 1309.3h15.9M427.2 1309.3h15.9M586.3 1309.3h15.9M729.6 1309.3h15.9M172.5 1310.7h15.9M156.6 1312h15.9M856.9 1312h15.9M697.8 1313.3h15.9M427.2 1316h15.9M888.8 1316h31.8M172.5 1317.3h15.9M761.4 1317.3h15.9M459 1321.3h15.9M618.2 1321.3h15.9M856.9 1321.3h15.9M77 1322.7h15.9M172.5 1322.7h15.9M124.8 1324h15.9M204.3 1324h15.9M108.8 1325.3h15.9M156.6 1326.7h15.9M777.3 1326.7h15.9M140.7 1329.3h15.9M188.4 1330.7h15.9M188.4 1332h15.9M713.7 1332h15.9M156.6 1336h15.9M204.3 1336h15.9M156.6 1338.7h15.9M188.4 1338.7h15.9M745.5 1338.7h15.9M77 1340h15.9M172.5 1340h31.8M156.6 1344h15.9M204.3 1344h15.9M459 1344h15.9M506.8 1344h15.9M618.2 1344h15.9M124.8 1345.3h15.9M872.8 1345.3h15.9M538.6 1346.6h15.9M745.5 1348h15.9M92.9 1349.3h15.9M427.2 1349.3h15.9M459 1349.3h15.9M459 1350.6h15.9M825.1 1350.6h31.8M156.6 1352h15.9M904.7 1352h15.9M77 1353.3h15.9M156.6 1353.3h15.9M793.3 1353.3h15.9M856.9 1353.3h15.9M204.3 1354.6h15.9M618.2 1354.6h15.9M904.7 1354.6h15.9M188.4 1356h15.9M379.4 1356h15.9M459 1356h15.9M554.5 1357.3h15.9M618.2 1357.3h15.9M506.8 1358.6h15.9M681.8 1358.6h15.9M156.6 1360h15.9M459 1360h15.9M745.5 1360h15.9M634.1 1361.3h15.9M809.2 1361.3h15.9M618.2 1362.6h15.9M379.4 1364h15.9M856.9 1364h15.9M188.4 1365.3h15.9M570.4 1365.3h15.9"/>
<path stroke="#046434" d="M745.5 1018.9h15.9M904.7 1018.9h15.9M156.6 1021.5h15.9M506.8 1021.5h15.9M172.5 1022.9h15.9M506.8 1025.5h15.9M793.3 1025.5h15.9M841 1025.5h15.9M697.8 1026.9h15.9M729.6 1028.2h15.9M156.6 1029.5h15.9M188.4 1029.5h15.9M856.9 1029.5h15.9M506.8 1030.9h15.9M745.5 1030.9h15.9M124.8 1032.2h15.9M538.6 1033.5h15.9M634.1 1033.5h15.9M92.9 1034.9h15.9M77 1036.2h15.9M188.4 1036.2h15.9M745.5 1037.5h15.9M140.7 1040.2h15.9M204.3 1040.2h15.9M124.8 1044.2h15.9M156.6 1044.2h15.9M156.6 1045.5h15.9M856.9 1045.5h15.9M204.3 1050.8h15.9M236.2 1052.2h15.9M634.1 1052.2h15.9M761.4 1053.5h15.9M379.4 1054.8h15.9M506.8 1054.8h15.9M809.2 1057.5h15.9M856.9 1060.2h15.9M156.6 1064.2h15.9M761.4 1064.2h15.9M809.2 1064.2h15.9M506.8 1065.5h15.9M856.9 1065.5h15.9M459 1068.2h15.9M236.2 1069.5h15.9M618.2 1070.8h15.9M697.8 1070.8h15.9M777.3 1070.8h15.9M506.8 1072.2h15.9M156.6 1073.5h15.9M77 1076.2h15.9M745.5 1076.2h15.9M841 1076.2h15.9M156.6 1081.5h31.8M793.3 1081.5h15.9M856.9 1084.2h15.9M188.4 1085.5h15.9M156.6 1088.2h15.9M665.9 1088.2h15.9M459 1089.5h15.9M140.7 1090.8h31.8M459 1090.8h15.9M156.6 1093.5h15.9M188.4 1093.5h15.9M793.3 1093.5h15.9M347.6 1094.8h15.9M825.1 1094.8h15.9M825.1 1097.5h15.9M506.8 1100.1h15.9M459 1101.5h15.9M904.7 1104.1h15.9M888.8 1105.5h15.9M188.4 1106.8h15.9M570.4 1106.8h15.9M283.9 1108.1h15.9M347.6 1109.5h15.9M77 1112.1h15.9M634.1 1112.1h15.9M793.3 1114.8h15.9M904.7 1114.8h15.9M713.7 1116.1h15.9M172.5 1118.8h15.9M459 1118.8h15.9M188.4 1120.1h15.9M841 1120.1h15.9M554.5 1121.5h15.9M124.8 1124.1h15.9M188.4 1126.8h15.9M761.4 1126.8h15.9M411.3 1130.8h15.9M204.3 1132.1h15.9M411.3 1133.5h15.9M459 1133.5h15.9M856.9 1133.5h15.9M156.6 1134.8h15.9M108.8 1141.5h15.9M156.6 1141.5h15.9M347.6 1142.8h15.9M188.4 1146.8h15.9M172.5 1148.1h15.9M856.9 1152.1h15.9M188.4 1154.8h15.9M856.9 1154.8h15.9M77 1158.8h31.8M156.6 1158.8h15.9M77 1160.1h15.9M506.8 1160.1h15.9M793.3 1162.8h15.9M904.7 1168.1h15.9M506.8 1170.8h15.9M140.7 1172.1h15.9M172.5 1172.1h15.9M172.5 1173.4h15.9M618.2 1177.4h15.9M172.5 1178.8h15.9M92.9 1181.4h15.9M156.6 1184.1h15.9M856.9 1185.4h15.9M204.3 1186.8h15.9M904.7 1186.8h15.9M856.9 1188.1h15.9M156.6 1190.8h15.9M459 1190.8h15.9M841 1190.8h15.9M650 1192.1h15.9M809.2 1192.1h15.9M459 1193.4h15.9M856.9 1194.7h15.9M172.5 1196.1h15.9M156.6 1198.7h15.9M793.3 1198.7h15.9M156.6 1200.1h15.9M506.8 1200.1h15.9M745.5 1200.1h15.9M856.9 1200.1h15.9M108.8 1202.7h15.9M172.5 1202.7h15.9M283.9 1202.7h15.9M124.8 1204.1h15.9M156.6 1204.1h15.9M761.4 1204.1h15.9M665.9 1205.4h15.9M411.3 1210.7h15.9M156.6 1212.1h15.9M188.4 1213.4h15.9M459 1213.4h15.9M188.4 1214.7h15.9M856.9 1217.4h15.9M634.1 1221.4h15.9M506.8 1222.7h15.9M283.9 1224.1h15.9M856.9 1232.1h15.9M745.5 1233.4h15.9M856.9 1233.4h15.9M522.7 1234.7h15.9M156.6 1237.4h15.9M506.8 1237.4h15.9M713.7 1237.4h15.9M809.2 1238.7h15.9M108.8 1240.1h15.9M490.8 1240.1h15.9M379.4 1244h15.9M77 1245.4h15.9M156.6 1248h15.9M156.6 1252h15.9M856.9 1252h15.9M809.2 1254.7h15.9M156.6 1256h15.9M841 1257.4h15.9M172.5 1264h15.9M618.2 1265.4h15.9M156.6 1266.7h15.9M252.1 1266.7h15.9M156.6 1268h15.9M268 1269.4h15.9M618.2 1270.7h15.9M204.3 1272h15.9M665.9 1273.4h15.9M188.4 1274.7h15.9M793.3 1276h15.9M602.3 1277.4h15.9M793.3 1277.4h15.9M825.1 1278.7h15.9M156.6 1280h15.9M124.8 1281.4h15.9M172.5 1281.4h15.9M188.4 1282.7h15.9M379.4 1282.7h15.9M761.4 1285.4h15.9M506.8 1288h15.9M570.4 1296h15.9M554.5 1300h15.9M77 1305.3h15.9M172.5 1305.3h15.9M506.8 1305.3h15.9M506.8 1308h15.9M856.9 1308h15.9M411.3 1309.3h15.9M156.6 1310.7h15.9M77 1312h15.9M650 1313.3h15.9M188.4 1316h15.9M570.4 1317.3h15.9M156.6 1320h15.9M108.8 1322.7h15.9M188.4 1322.7h15.9M283.9 1324h15.9M92.9 1328h15.9M252.1 1328h15.9M506.8 1329.3h15.9M809.2 1330.7h15.9M745.5 1333.3h15.9M172.5 1336h15.9M156.6 1337.3h15.9M172.5 1338.7h15.9M156.6 1340h15.9M172.5 1341.3h15.9M188.4 1342.6h15.9M841 1342.6h15.9M188.4 1344h15.9M188.4 1346.6h15.9M522.7 1346.6h15.9M77 1348h15.9M188.4 1348h15.9M188.4 1349.3h15.9M124.8 1350.6h15.9M745.5 1352h15.9M124.8 1356h15.9M745.5 1356h15.9M283.9 1357.3h15.9M506.8 1357.3h15.9M713.7 1357.3h15.9M92.9 1362.6h15.9M188.4 1362.6h15.9M793.3 1362.6h15.9M188.4 1364h15.9M379.4 1366.6h15.9"/>
<path stroke="#037b3f" d="M188.4 1025.5h15.9M713.7 1026.9h15.9M459 1030.9h15.9M459 1034.9h15.9M856.9 1034.9h15.9M172.5 1044.2h15.9M188.4 1050.8h15.9M745.5 1052.2h15.9M172.5 1057.5h15.9M761.4 1058.8h15.9M856.9 1058.8h15.9M904.7 1064.2h15.9M570.4 1068.2h15.9M124.8 1070.8h15.9M77 1072.2h15.9M156.6 1072.2h15.9M459 1072.2h15.9M856.9 1072.2h15.9M856.9 1080.2h15.9M570.4 1097.5h15.9M124.8 1100.1h15.9M761.4 1101.5h15.9M888.8 1101.5h15.9M888.8 1102.8h15.9M204.3 1104.1h15.9M618.2 1108.1h15.9M506.8 1109.5h15.9M809.2 1113.5h15.9M156.6 1114.8h15.9M124.8 1116.1h15.9M856.9 1116.1h15.9M459 1117.5h15.9M156.6 1120.1h31.8M459 1120.1h15.9M156.6 1129.5h15.9M283.9 1136.1h15.9M124.8 1148.1h15.9M204.3 1148.1h15.9M793.3 1153.4h15.9M745.5 1157.4h15.9M745.5 1168.1h15.9M188.4 1170.8h15.9M856.9 1174.8h15.9M156.6 1180.1h15.9M188.4 1180.1h15.9M506.8 1186.8h15.9M618.2 1186.8h15.9M856.9 1186.8h15.9M156.6 1192.1h15.9M745.5 1193.4h15.9M745.5 1198.7h15.9M793.3 1200.1h15.9M172.5 1204.1h15.9M172.5 1206.7h15.9M188.4 1209.4h15.9M124.8 1221.4h15.9M650 1221.4h15.9M156.6 1224.1h15.9M188.4 1230.7h15.9M156.6 1236.1h15.9M156.6 1240.1h15.9M506.8 1240.1h15.9M156.6 1241.4h15.9M188.4 1256h15.9M459 1260h15.9M793.3 1260h15.9M570.4 1261.4h15.9M856.9 1265.4h15.9M586.3 1268h15.9M825.1 1268h15.9M172.5 1270.7h15.9M841 1272h15.9M188.4 1277.4h15.9M888.8 1281.4h15.9M172.5 1288h15.9M92.9 1289.4h15.9M856.9 1290.7h15.9M156.6 1292h15.9M236.2 1301.3h15.9M825.1 1302.7h15.9M745.5 1305.3h15.9M188.4 1313.3h15.9M856.9 1313.3h15.9M459 1317.3h15.9M379.4 1318.7h15.9M570.4 1322.7h15.9M172.5 1324h15.9M172.5 1325.3h15.9M172.5 1326.7h15.9M172.5 1328h15.9M156.6 1330.7h15.9M188.4 1333.3h15.9M570.4 1333.3h15.9M506.8 1338.7h15.9M156.6 1341.3h15.9M809.2 1342.6h15.9M777.3 1350.6h15.9M156.6 1362.6h15.9M283.9 1362.6h15.9"/>
<path stroke="#019149" d="M172.5 1024.2h15.9M745.5 1064.2h15.9M506.8 1069.5h15.9M172.5 1096.1h15.9M156.6 1113.5h15.9M761.4 1120.1h15.9M172.5 1126.8h15.9M856.9 1137.5h15.9M156.6 1146.8h15.9M713.7 1157.4h15.9M618.2 1160.1h15.9M172.5 1201.4h15.9M506.8 1206.7h15.9M459 1210.7h15.9M172.5 1213.4h15.9M506.8 1216.1h15.9M618.2 1216.1h15.9M283.9 1236.1h15.9M204.3 1238.7h15.9M156.6 1245.4h15.9M459 1261.4h15.9M506.8 1261.4h15.9M156.6 1284h15.9M188.4 1284h15.9M856.9 1304h15.9M188.4 1309.3h15.9M156.6 1318.7h15.9M856.9 1332h15.9M856.9 1333.3h15.9M459 1336h15.9M108.8 1338.7h15.9M427.2 1340h15.9M761.4 1353.3h15.9M506.8 1361.3h15.9"/>
<path stroke="#00a854" d="M156.6 1069.5h15.9M188.4 1072.2h15.9M124.8 1137.5h15.9M411.3 1152.1h15.9M156.6 1185.4h15.9M172.5 1256h15.9M856.9 1320h15.9M904.7 1340h15.9"/>
<path stroke="#290d0e" d="M77 1018.9h15.9M140.7 1018.9h15.9M268 1018.9h15.9M315.8 1018.9h15.9M363.5 1018.9h15.9M395.3 1018.9h15.9M427.2 1018.9h15.9M634.1 1018.9h15.9M777.3 1018.9h15.9M872.8 1018.9h15.9M172.5 1020.2h15.9M220.3 1020.2h15.9M299.8 1020.2h15.9M331.7 1020.2h15.9M363.5 1020.2h15.9M443.1 1020.2h31.8M522.7 1020.2h15.9M602.3 1020.2h15.9M729.6 1020.2h15.9M825.1 1020.2h15.9M872.8 1020.2h15.9M204.3 1021.5h15.9M236.2 1021.5h31.8M315.8 1021.5h15.9M363.5 1021.5h47.8M490.8 1021.5h15.9M538.6 1021.5h31.8M745.5 1021.5h15.9M809.2 1021.5h15.9M331.7 1022.9h31.8M522.7 1022.9h47.8M586.3 1022.9h31.8M650 1022.9h47.8M713.7 1022.9h15.9M904.7 1022.9h15.9M395.3 1024.2h15.9M443.1 1024.2h15.9M474.9 1024.2h15.9M554.5 1024.2h15.9M586.3 1024.2h15.9M729.6 1024.2h15.9M825.1 1024.2h15.9M92.9 1025.5h15.9M236.2 1025.5h15.9M347.6 1025.5h15.9M379.4 1025.5h15.9M443.1 1025.5h15.9M474.9 1025.5h15.9M522.7 1025.5h47.8M602.3 1025.5h15.9M650 1025.5h15.9M681.8 1025.5h15.9M729.6 1025.5h15.9M904.7 1025.5h15.9M156.6 1026.9h15.9M268 1026.9h31.8M586.3 1026.9h47.8M825.1 1026.9h31.8M252.1 1028.2h15.9M299.8 1028.2h15.9M347.6 1028.2h47.8M443.1 1028.2h15.9M602.3 1028.2h15.9M681.8 1028.2h15.9M745.5 1028.2h31.8M220.3 1029.5h15.9M268 1029.5h15.9M315.8 1029.5h15.9M363.5 1029.5h15.9M411.3 1029.5h15.9M474.9 1029.5h31.8M538.6 1029.5h15.9M140.7 1030.9h15.9M204.3 1030.9h15.9M252.1 1030.9h31.8M315.8 1030.9h31.8M411.3 1030.9h15.9M538.6 1030.9h15.9M602.3 1030.9h15.9M650 1030.9h31.8M713.7 1030.9h15.9M872.8 1030.9h15.9M92.9 1032.2h15.9M140.7 1032.2h15.9M252.1 1032.2h15.9M315.8 1032.2h31.8M363.5 1032.2h15.9M522.7 1032.2h15.9M570.4 1032.2h31.8M681.8 1032.2h31.8M729.6 1032.2h15.9M793.3 1032.2h47.8M220.3 1033.5h15.9M331.7 1033.5h15.9M363.5 1033.5h31.8M602.3 1033.5h31.8M665.9 1033.5h15.9M809.2 1033.5h31.8M856.9 1033.5h15.9M77 1034.9h15.9M156.6 1034.9h15.9M283.9 1034.9h15.9M363.5 1034.9h15.9M443.1 1034.9h15.9M490.8 1034.9h15.9M602.3 1034.9h31.8M665.9 1034.9h15.9M713.7 1034.9h15.9M825.1 1034.9h15.9M888.8 1034.9h15.9M140.7 1036.2h15.9M252.1 1036.2h15.9M315.8 1036.2h31.8M363.5 1036.2h15.9M650 1036.2h31.8M697.8 1036.2h15.9M825.1 1036.2h15.9M220.3 1037.5h15.9M331.7 1037.5h15.9M363.5 1037.5h15.9M395.3 1037.5h15.9M490.8 1037.5h15.9M602.3 1037.5h15.9M634.1 1037.5h15.9M681.8 1037.5h31.8M841 1037.5h15.9M140.7 1038.9h15.9M220.3 1038.9h15.9M283.9 1038.9h15.9M474.9 1038.9h31.8M538.6 1038.9h15.9M586.3 1038.9h15.9M634.1 1038.9h15.9M665.9 1038.9h31.8M761.4 1038.9h31.8M77 1040.2h15.9M252.1 1040.2h31.8M299.8 1040.2h15.9M411.3 1040.2h15.9M506.8 1040.2h15.9M681.8 1040.2h31.8M761.4 1040.2h47.8M825.1 1040.2h15.9M888.8 1040.2h15.9M77 1041.5h15.9M124.8 1041.5h15.9M236.2 1041.5h31.8M315.8 1041.5h15.9M347.6 1041.5h15.9M379.4 1041.5h15.9M427.2 1041.5h15.9M602.3 1041.5h15.9M697.8 1041.5h15.9M872.8 1041.5h15.9M220.3 1042.9h31.8M268 1042.9h15.9M299.8 1042.9h31.8M395.3 1042.9h15.9M554.5 1042.9h15.9M602.3 1042.9h15.9M650 1042.9h15.9M681.8 1042.9h31.8M745.5 1042.9h15.9M793.3 1042.9h15.9M443.1 1044.2h15.9M522.7 1044.2h15.9M554.5 1044.2h15.9M602.3 1044.2h15.9M697.8 1044.2h15.9M793.3 1044.2h15.9M888.8 1044.2h15.9M204.3 1045.5h15.9M299.8 1045.5h15.9M363.5 1045.5h15.9M395.3 1045.5h15.9M490.8 1045.5h15.9M618.2 1045.5h31.8M665.9 1045.5h47.8M825.1 1045.5h15.9M888.8 1045.5h15.9M77 1046.8h15.9M236.2 1046.8h31.8M299.8 1046.8h15.9M363.5 1046.8h15.9M395.3 1046.8h15.9M427.2 1046.8h15.9M474.9 1046.8h15.9M554.5 1046.8h15.9M665.9 1046.8h15.9M697.8 1046.8h15.9M761.4 1046.8h15.9M825.1 1046.8h31.8M904.7 1046.8h15.9M92.9 1048.2h15.9M268 1048.2h31.8M315.8 1048.2h15.9M443.1 1048.2h15.9M745.5 1048.2h15.9M793.3 1048.2h15.9M841 1048.2h47.8M124.8 1049.5h15.9M220.3 1049.5h15.9M283.9 1049.5h31.8M379.4 1049.5h15.9M427.2 1049.5h15.9M554.5 1049.5h31.8M602.3 1049.5h15.9M681.8 1049.5h15.9M825.1 1049.5h15.9M872.8 1049.5h15.9M140.7 1050.8h15.9M220.3 1050.8h15.9M268 1050.8h15.9M315.8 1050.8h15.9M347.6 1050.8h15.9M379.4 1050.8h15.9M490.8 1050.8h15.9M538.6 1050.8h15.9M602.3 1050.8h15.9M872.8 1050.8h15.9M108.8 1052.2h15.9M220.3 1052.2h15.9M411.3 1052.2h15.9M474.9 1052.2h15.9M650 1052.2h15.9M681.8 1052.2h31.8M761.4 1052.2h31.8M825.1 1052.2h15.9M172.5 1053.5h15.9M411.3 1053.5h15.9M443.1 1053.5h15.9M474.9 1053.5h31.8M665.9 1053.5h31.8M729.6 1053.5h15.9M904.7 1053.5h15.9M77 1054.8h31.8M252.1 1054.8h31.8M299.8 1054.8h31.8M347.6 1054.8h31.8M474.9 1054.8h15.9M522.7 1054.8h15.9M570.4 1054.8h15.9M618.2 1054.8h15.9M665.9 1054.8h31.8M825.1 1054.8h15.9M872.8 1054.8h15.9M92.9 1056.2h15.9M140.7 1056.2h15.9M204.3 1056.2h15.9M331.7 1056.2h47.8M395.3 1056.2h63.7M586.3 1056.2h15.9M650 1056.2h15.9M713.7 1056.2h15.9M872.8 1056.2h15.9M108.8 1057.5h31.8M188.4 1057.5h15.9M220.3 1057.5h15.9M363.5 1057.5h15.9M395.3 1057.5h15.9M570.4 1057.5h15.9M602.3 1057.5h31.8M650 1057.5h15.9M761.4 1057.5h15.9M904.7 1057.5h15.9M315.8 1058.8h15.9M363.5 1058.8h15.9M427.2 1058.8h15.9M490.8 1058.8h15.9M602.3 1058.8h15.9M650 1058.8h15.9M713.7 1058.8h15.9M745.5 1058.8h15.9M888.8 1058.8h15.9M283.9 1060.2h15.9M379.4 1060.2h31.8M443.1 1060.2h15.9M474.9 1060.2h15.9M538.6 1060.2h15.9M681.8 1060.2h15.9M777.3 1060.2h15.9M825.1 1060.2h15.9M268 1061.5h15.9M315.8 1061.5h15.9M363.5 1061.5h15.9M474.9 1061.5h15.9M522.7 1061.5h15.9M554.5 1061.5h15.9M618.2 1061.5h15.9M777.3 1061.5h15.9M825.1 1061.5h31.8M204.3 1062.8h31.8M252.1 1062.8h15.9M283.9 1062.8h15.9M315.8 1062.8h47.8M490.8 1062.8h15.9M522.7 1062.8h15.9M586.3 1062.8h15.9M650 1062.8h15.9M697.8 1062.8h15.9M729.6 1062.8h15.9M841 1062.8h15.9M872.8 1062.8h15.9M92.9 1064.2h15.9M220.3 1064.2h15.9M299.8 1064.2h15.9M427.2 1064.2h15.9M474.9 1064.2h31.8M634.1 1064.2h15.9M888.8 1064.2h15.9M220.3 1065.5h31.8M268 1065.5h31.8M315.8 1065.5h31.8M363.5 1065.5h15.9M411.3 1065.5h15.9M554.5 1065.5h15.9M602.3 1065.5h31.8M729.6 1065.5h15.9M777.3 1065.5h15.9M888.8 1065.5h15.9M92.9 1066.8h15.9M252.1 1066.8h15.9M347.6 1066.8h31.8M506.8 1066.8h15.9M586.3 1066.8h15.9M681.8 1066.8h15.9M777.3 1066.8h15.9M809.2 1066.8h15.9M841 1066.8h15.9M77 1068.2h31.8M140.7 1068.2h15.9M268 1068.2h31.8M315.8 1068.2h15.9M347.6 1068.2h15.9M443.1 1068.2h15.9M474.9 1068.2h15.9M522.7 1068.2h15.9M586.3 1068.2h31.8M697.8 1068.2h15.9M825.1 1068.2h15.9M904.7 1068.2h15.9M220.3 1069.5h15.9M379.4 1069.5h15.9M411.3 1069.5h15.9M443.1 1069.5h15.9M538.6 1069.5h15.9M650 1069.5h47.8M268 1070.8h15.9M331.7 1070.8h15.9M363.5 1070.8h15.9M411.3 1070.8h15.9M443.1 1070.8h15.9M586.3 1070.8h31.8M650 1070.8h15.9M713.7 1070.8h15.9M745.5 1070.8h15.9M872.8 1070.8h15.9M140.7 1072.2h15.9M268 1072.2h31.8M315.8 1072.2h15.9M347.6 1072.2h15.9M474.9 1072.2h15.9M554.5 1072.2h31.8M602.3 1072.2h15.9M650 1072.2h15.9M729.6 1072.2h15.9M872.8 1072.2h15.9M77 1073.5h15.9M124.8 1073.5h15.9M236.2 1073.5h15.9M283.9 1073.5h15.9M474.9 1073.5h15.9M602.3 1073.5h15.9M650 1073.5h15.9M681.8 1073.5h15.9M825.1 1073.5h15.9M872.8 1073.5h15.9M92.9 1074.8h15.9M140.7 1074.8h15.9M315.8 1074.8h15.9M602.3 1074.8h15.9M904.7 1074.8h15.9M124.8 1076.2h15.9M188.4 1076.2h15.9M220.3 1076.2h31.8M283.9 1076.2h31.8M379.4 1076.2h15.9M634.1 1076.2h15.9M697.8 1076.2h15.9M825.1 1076.2h15.9M872.8 1076.2h15.9M124.8 1077.5h15.9M283.9 1077.5h15.9M331.7 1077.5h15.9M443.1 1077.5h15.9M634.1 1077.5h31.8M681.8 1077.5h15.9M761.4 1077.5h15.9M825.1 1077.5h15.9M872.8 1077.5h31.8M124.8 1078.8h15.9M172.5 1078.8h15.9M252.1 1078.8h31.8M331.7 1078.8h47.8M522.7 1078.8h15.9M570.4 1078.8h15.9M602.3 1078.8h15.9M729.6 1078.8h15.9M761.4 1078.8h15.9M841 1078.8h15.9M904.7 1078.8h15.9M92.9 1080.2h15.9M140.7 1080.2h15.9M220.3 1080.2h31.8M268 1080.2h15.9M347.6 1080.2h15.9M474.9 1080.2h15.9M570.4 1080.2h31.8M665.9 1080.2h31.8M745.5 1080.2h31.8M825.1 1080.2h15.9M124.8 1081.5h15.9M204.3 1081.5h15.9M283.9 1081.5h31.8M427.2 1081.5h47.8M490.8 1081.5h15.9M522.7 1081.5h15.9M650 1081.5h31.8M729.6 1081.5h15.9M809.2 1081.5h15.9M124.8 1082.8h15.9M299.8 1082.8h15.9M474.9 1082.8h31.8M522.7 1082.8h15.9M634.1 1082.8h15.9M825.1 1082.8h15.9M188.4 1084.2h15.9M252.1 1084.2h15.9M331.7 1084.2h31.8M395.3 1084.2h15.9M538.6 1084.2h15.9M602.3 1084.2h15.9M729.6 1084.2h15.9M761.4 1084.2h31.8M124.8 1085.5h31.8M283.9 1085.5h15.9M331.7 1085.5h15.9M363.5 1085.5h15.9M395.3 1085.5h15.9M474.9 1085.5h15.9M506.8 1085.5h15.9M570.4 1085.5h15.9M713.7 1085.5h31.8M793.3 1085.5h15.9M825.1 1085.5h15.9M220.3 1086.8h15.9M252.1 1086.8h31.8M315.8 1086.8h31.8M443.1 1086.8h15.9M538.6 1086.8h31.8M586.3 1086.8h31.8M745.5 1086.8h15.9M793.3 1086.8h15.9M825.1 1086.8h15.9M888.8 1086.8h15.9M220.3 1088.2h15.9M252.1 1088.2h15.9M474.9 1088.2h31.8M554.5 1088.2h15.9M697.8 1088.2h15.9M809.2 1088.2h15.9M92.9 1089.5h15.9M427.2 1089.5h31.8M474.9 1089.5h15.9M522.7 1089.5h31.8M602.3 1089.5h15.9M761.4 1089.5h31.8M872.8 1089.5h15.9M283.9 1090.8h31.8M395.3 1090.8h15.9M538.6 1090.8h15.9M602.3 1090.8h15.9M745.5 1090.8h15.9M809.2 1090.8h15.9M888.8 1090.8h15.9M92.9 1092.2h31.8M252.1 1092.2h15.9M331.7 1092.2h15.9M363.5 1092.2h15.9M395.3 1092.2h15.9M427.2 1092.2h31.8M474.9 1092.2h15.9M522.7 1092.2h15.9M570.4 1092.2h15.9M634.1 1092.2h15.9M697.8 1092.2h15.9M729.6 1092.2h15.9M777.3 1092.2h15.9M841 1092.2h15.9M108.8 1093.5h15.9M331.7 1093.5h15.9M443.1 1093.5h15.9M538.6 1093.5h15.9M809.2 1093.5h15.9M108.8 1094.8h15.9M220.3 1094.8h31.8M299.8 1094.8h15.9M363.5 1094.8h15.9M474.9 1094.8h47.8M681.8 1094.8h31.8M140.7 1096.1h15.9M204.3 1096.1h15.9M283.9 1096.1h15.9M315.8 1096.1h15.9M427.2 1096.1h31.8M490.8 1096.1h15.9M586.3 1096.1h31.8M634.1 1096.1h15.9M665.9 1096.1h15.9M777.3 1096.1h15.9M204.3 1097.5h15.9M411.3 1097.5h15.9M474.9 1097.5h31.8M602.3 1097.5h15.9M665.9 1097.5h31.8M793.3 1097.5h15.9M77 1098.8h15.9M347.6 1098.8h15.9M395.3 1098.8h31.8M490.8 1098.8h15.9M522.7 1098.8h15.9M570.4 1098.8h15.9M602.3 1098.8h15.9M697.8 1098.8h15.9M140.7 1100.1h15.9M252.1 1100.1h15.9M363.5 1100.1h15.9M427.2 1100.1h15.9M650 1100.1h31.8M729.6 1100.1h15.9M793.3 1100.1h15.9M77 1101.5h15.9M347.6 1101.5h31.8M427.2 1101.5h15.9M522.7 1101.5h15.9M586.3 1101.5h15.9M618.2 1101.5h15.9M665.9 1101.5h15.9M697.8 1101.5h15.9M729.6 1101.5h15.9M777.3 1101.5h31.8M92.9 1102.8h15.9M124.8 1102.8h15.9M331.7 1102.8h15.9M379.4 1102.8h15.9M490.8 1102.8h15.9M681.8 1102.8h15.9M872.8 1102.8h15.9M92.9 1104.1h15.9M283.9 1104.1h31.8M347.6 1104.1h15.9M665.9 1104.1h15.9M872.8 1104.1h15.9M92.9 1105.5h15.9M220.3 1105.5h15.9M268 1105.5h15.9M299.8 1105.5h31.8M347.6 1105.5h15.9M379.4 1105.5h15.9M602.3 1105.5h15.9M729.6 1105.5h15.9M236.2 1106.8h15.9M283.9 1106.8h15.9M315.8 1106.8h15.9M411.3 1106.8h15.9M665.9 1106.8h15.9M713.7 1106.8h15.9M761.4 1106.8h15.9M856.9 1106.8h15.9M331.7 1108.1h31.8M474.9 1108.1h31.8M570.4 1108.1h15.9M602.3 1108.1h15.9M681.8 1108.1h15.9M745.5 1108.1h15.9M872.8 1108.1h15.9M904.7 1108.1h15.9M268 1109.5h15.9M427.2 1109.5h15.9M570.4 1109.5h15.9M713.7 1109.5h15.9M761.4 1109.5h15.9M825.1 1109.5h15.9M872.8 1109.5h15.9M140.7 1110.8h15.9M315.8 1110.8h15.9M474.9 1110.8h15.9M538.6 1110.8h31.8M586.3 1110.8h15.9M634.1 1110.8h15.9M825.1 1110.8h15.9M872.8 1110.8h15.9M172.5 1112.1h15.9M220.3 1112.1h31.8M570.4 1112.1h15.9M713.7 1112.1h31.8M841 1112.1h15.9M220.3 1113.5h15.9M268 1113.5h15.9M347.6 1113.5h15.9M474.9 1113.5h15.9M538.6 1113.5h31.8M602.3 1113.5h15.9M825.1 1113.5h15.9M299.8 1114.8h15.9M474.9 1114.8h15.9M650 1114.8h15.9M697.8 1114.8h15.9M809.2 1114.8h31.8M236.2 1116.1h31.8M299.8 1116.1h15.9M474.9 1116.1h15.9M522.7 1116.1h31.8M665.9 1116.1h15.9M872.8 1116.1h47.8M220.3 1117.5h15.9M315.8 1117.5h15.9M443.1 1117.5h15.9M602.3 1117.5h31.8M650 1117.5h15.9M681.8 1117.5h15.9M777.3 1117.5h15.9M268 1118.8h15.9M379.4 1118.8h31.8M474.9 1118.8h15.9M522.7 1118.8h15.9M634.1 1118.8h47.8M697.8 1118.8h15.9M729.6 1118.8h15.9M872.8 1118.8h15.9M92.9 1120.1h15.9M252.1 1120.1h15.9M347.6 1120.1h15.9M506.8 1120.1h15.9M554.5 1120.1h15.9M602.3 1120.1h15.9M665.9 1120.1h15.9M729.6 1120.1h15.9M140.7 1121.5h15.9M315.8 1121.5h15.9M506.8 1121.5h15.9M538.6 1121.5h15.9M809.2 1121.5h15.9M872.8 1121.5h15.9M140.7 1122.8h15.9M236.2 1122.8h15.9M379.4 1122.8h15.9M490.8 1122.8h15.9M538.6 1122.8h15.9M634.1 1122.8h79.6M793.3 1122.8h31.8M204.3 1124.1h47.8M363.5 1124.1h15.9M474.9 1124.1h15.9M634.1 1124.1h15.9M697.8 1124.1h15.9M825.1 1124.1h15.9M904.7 1124.1h15.9M77 1125.5h15.9M331.7 1125.5h15.9M395.3 1125.5h15.9M570.4 1125.5h15.9M602.3 1125.5h15.9M665.9 1125.5h31.8M825.1 1125.5h15.9M904.7 1125.5h15.9M92.9 1126.8h15.9M236.2 1126.8h15.9M299.8 1126.8h15.9M443.1 1126.8h15.9M474.9 1126.8h15.9M586.3 1126.8h15.9M745.5 1126.8h15.9M809.2 1126.8h15.9M904.7 1126.8h15.9M77 1128.1h31.8M172.5 1128.1h15.9M220.3 1128.1h15.9M315.8 1128.1h15.9M395.3 1128.1h15.9M474.9 1128.1h15.9M586.3 1128.1h15.9M665.9 1128.1h15.9M729.6 1128.1h31.8M793.3 1128.1h15.9M872.8 1128.1h15.9M236.2 1129.5h31.8M363.5 1129.5h15.9M474.9 1129.5h15.9M554.5 1129.5h15.9M602.3 1129.5h31.8M650 1129.5h15.9M825.1 1129.5h15.9M872.8 1129.5h15.9M124.8 1130.8h15.9M236.2 1130.8h15.9M268 1130.8h15.9M363.5 1130.8h31.8M443.1 1130.8h15.9M697.8 1130.8h31.8M809.2 1130.8h31.8M888.8 1130.8h15.9M92.9 1132.1h15.9M252.1 1132.1h15.9M299.8 1132.1h15.9M411.3 1132.1h15.9M570.4 1132.1h31.8M650 1132.1h15.9M713.7 1132.1h15.9M793.3 1132.1h15.9M872.8 1132.1h15.9M92.9 1133.5h15.9M220.3 1133.5h31.8M299.8 1133.5h47.8M363.5 1133.5h15.9M395.3 1133.5h15.9M474.9 1133.5h15.9M554.5 1133.5h15.9M602.3 1133.5h15.9M729.6 1133.5h15.9M809.2 1133.5h15.9M204.3 1134.8h15.9M236.2 1134.8h15.9M315.8 1134.8h31.8M522.7 1134.8h15.9M554.5 1134.8h31.8M681.8 1134.8h15.9M809.2 1134.8h15.9M888.8 1134.8h15.9M77 1136.1h15.9M252.1 1136.1h31.8M299.8 1136.1h31.8M443.1 1136.1h47.8M554.5 1136.1h15.9M809.2 1136.1h15.9M872.8 1136.1h31.8M236.2 1137.5h15.9M411.3 1137.5h15.9M506.8 1137.5h15.9M554.5 1137.5h15.9M602.3 1137.5h15.9M665.9 1137.5h15.9M220.3 1138.8h31.8M268 1138.8h15.9M363.5 1138.8h15.9M395.3 1138.8h31.8M443.1 1138.8h15.9M490.8 1138.8h15.9M522.7 1138.8h47.8M729.6 1138.8h31.8M825.1 1138.8h15.9M872.8 1138.8h15.9M108.8 1140.1h15.9M315.8 1140.1h31.8M395.3 1140.1h15.9M443.1 1140.1h15.9M586.3 1140.1h31.8M713.7 1140.1h15.9M92.9 1141.5h15.9M395.3 1141.5h15.9M474.9 1141.5h15.9M522.7 1141.5h15.9M554.5 1141.5h15.9M586.3 1141.5h15.9M665.9 1141.5h15.9M745.5 1141.5h15.9M809.2 1141.5h15.9M268 1142.8h31.8M395.3 1142.8h15.9M427.2 1142.8h15.9M793.3 1142.8h15.9M825.1 1142.8h31.8M283.9 1144.1h15.9M315.8 1144.1h31.8M395.3 1144.1h31.8M522.7 1144.1h31.8M570.4 1144.1h15.9M618.2 1144.1h15.9M650 1144.1h15.9M777.3 1144.1h15.9M124.8 1145.4h15.9M220.3 1145.4h15.9M299.8 1145.4h79.6M443.1 1145.4h15.9M586.3 1145.4h31.8M681.8 1145.4h31.8M825.1 1145.4h15.9M872.8 1145.4h15.9M220.3 1146.8h15.9M252.1 1146.8h15.9M459 1146.8h15.9M522.7 1146.8h15.9M665.9 1146.8h15.9M729.6 1146.8h15.9M904.7 1146.8h15.9M77 1148.1h15.9M140.7 1148.1h15.9M252.1 1148.1h15.9M315.8 1148.1h31.8M363.5 1148.1h15.9M443.1 1148.1h15.9M570.4 1148.1h15.9M729.6 1148.1h31.8M108.8 1149.4h15.9M140.7 1149.4h15.9M315.8 1149.4h15.9M411.3 1149.4h15.9M459 1149.4h15.9M522.7 1149.4h15.9M634.1 1149.4h15.9M665.9 1149.4h15.9M77 1150.8h15.9M268 1150.8h15.9M299.8 1150.8h15.9M363.5 1150.8h15.9M443.1 1150.8h15.9M474.9 1150.8h31.8M554.5 1150.8h15.9M777.3 1150.8h15.9M268 1152.1h15.9M379.4 1152.1h15.9M443.1 1152.1h15.9M586.3 1152.1h15.9M77 1153.4h15.9M331.7 1153.4h47.8M411.3 1153.4h15.9M459 1153.4h15.9M490.8 1153.4h15.9M554.5 1153.4h15.9M618.2 1153.4h15.9M681.8 1153.4h15.9M841 1153.4h15.9M124.8 1154.8h15.9M172.5 1154.8h15.9M363.5 1154.8h47.8M443.1 1154.8h15.9M490.8 1154.8h15.9M538.6 1154.8h31.8M586.3 1154.8h15.9M618.2 1154.8h15.9M188.4 1156.1h15.9M268 1156.1h31.8M427.2 1156.1h31.8M474.9 1156.1h15.9M602.3 1156.1h15.9M236.2 1157.4h15.9M299.8 1157.4h15.9M347.6 1157.4h31.8M395.3 1157.4h15.9M474.9 1157.4h15.9M586.3 1157.4h15.9M650 1157.4h31.8M856.9 1157.4h15.9M888.8 1157.4h15.9M268 1158.8h15.9M347.6 1158.8h15.9M395.3 1158.8h15.9M538.6 1158.8h15.9M602.3 1158.8h15.9M634.1 1158.8h15.9M665.9 1158.8h15.9M872.8 1158.8h15.9M124.8 1160.1h15.9M315.8 1160.1h15.9M379.4 1160.1h31.8M427.2 1160.1h15.9M474.9 1160.1h15.9M522.7 1160.1h15.9M554.5 1160.1h15.9M777.3 1160.1h15.9M220.3 1161.4h15.9M252.1 1161.4h15.9M347.6 1161.4h15.9M411.3 1161.4h15.9M443.1 1161.4h15.9M602.3 1161.4h15.9M697.8 1161.4h15.9M825.1 1161.4h15.9M856.9 1161.4h15.9M888.8 1161.4h15.9M140.7 1162.8h15.9M220.3 1162.8h15.9M268 1162.8h15.9M331.7 1162.8h15.9M363.5 1162.8h15.9M443.1 1162.8h15.9M490.8 1162.8h15.9M554.5 1162.8h15.9M665.9 1162.8h31.8M713.7 1162.8h15.9M872.8 1162.8h31.8M427.2 1164.1h15.9M490.8 1164.1h15.9M586.3 1164.1h15.9M665.9 1164.1h31.8M777.3 1164.1h15.9M825.1 1164.1h15.9M856.9 1164.1h31.8M236.2 1165.4h15.9M474.9 1165.4h15.9M506.8 1165.4h15.9M650 1165.4h15.9M825.1 1165.4h15.9M252.1 1166.8h15.9M283.9 1166.8h15.9M331.7 1166.8h31.8M379.4 1166.8h15.9M411.3 1166.8h15.9M443.1 1166.8h15.9M634.1 1166.8h15.9M825.1 1166.8h15.9M872.8 1166.8h15.9M172.5 1168.1h15.9M252.1 1168.1h31.8M299.8 1168.1h15.9M395.3 1168.1h15.9M443.1 1168.1h15.9M474.9 1168.1h15.9M634.1 1168.1h15.9M665.9 1168.1h15.9M825.1 1168.1h15.9M872.8 1168.1h15.9M140.7 1169.4h15.9M236.2 1169.4h15.9M299.8 1169.4h15.9M347.6 1169.4h15.9M443.1 1169.4h15.9M474.9 1169.4h15.9M665.9 1169.4h15.9M697.8 1169.4h15.9M92.9 1170.8h15.9M140.7 1170.8h15.9M220.3 1170.8h47.8M411.3 1170.8h15.9M443.1 1170.8h15.9M474.9 1170.8h15.9M602.3 1170.8h15.9M634.1 1170.8h15.9M681.8 1170.8h63.7M825.1 1170.8h15.9M77 1172.1h31.8M252.1 1172.1h31.8M331.7 1172.1h15.9M363.5 1172.1h15.9M634.1 1172.1h15.9M665.9 1172.1h31.8M745.5 1172.1h15.9M188.4 1173.4h15.9M236.2 1173.4h15.9M331.7 1173.4h15.9M379.4 1173.4h31.8M474.9 1173.4h15.9M522.7 1173.4h15.9M602.3 1173.4h15.9M650 1173.4h15.9M681.8 1173.4h15.9M825.1 1173.4h15.9M872.8 1173.4h15.9M904.7 1173.4h15.9M140.7 1174.8h15.9M220.3 1174.8h15.9M283.9 1174.8h79.6M395.3 1174.8h15.9M443.1 1174.8h15.9M522.7 1174.8h15.9M634.1 1174.8h15.9M681.8 1174.8h31.8M888.8 1174.8h15.9M188.4 1176.1h15.9M236.2 1176.1h15.9M268 1176.1h15.9M299.8 1176.1h15.9M363.5 1176.1h15.9M506.8 1176.1h15.9M634.1 1176.1h15.9M665.9 1176.1h15.9M841 1176.1h47.8M92.9 1177.4h15.9M252.1 1177.4h31.8M299.8 1177.4h15.9M538.6 1177.4h31.8M665.9 1177.4h15.9M841 1177.4h15.9M888.8 1177.4h15.9M77 1178.8h15.9M522.7 1178.8h15.9M618.2 1178.8h15.9M713.7 1178.8h15.9M793.3 1178.8h15.9M825.1 1178.8h15.9M252.1 1180.1h15.9M331.7 1180.1h15.9M411.3 1180.1h15.9M522.7 1180.1h15.9M602.3 1180.1h31.8M809.2 1180.1h47.8M236.2 1181.4h15.9M331.7 1181.4h15.9M363.5 1181.4h15.9M665.9 1181.4h15.9M825.1 1181.4h15.9M268 1182.8h15.9M363.5 1182.8h15.9M395.3 1182.8h15.9M427.2 1182.8h31.8M490.8 1182.8h15.9M602.3 1182.8h15.9M650 1182.8h15.9M681.8 1182.8h31.8M809.2 1182.8h15.9M841 1182.8h15.9M872.8 1182.8h15.9M220.3 1184.1h15.9M283.9 1184.1h31.8M363.5 1184.1h15.9M474.9 1184.1h31.8M522.7 1184.1h15.9M729.6 1184.1h15.9M761.4 1184.1h15.9M77 1185.4h15.9M236.2 1185.4h15.9M411.3 1185.4h15.9M443.1 1185.4h15.9M474.9 1185.4h15.9M506.8 1185.4h15.9M538.6 1185.4h31.8M602.3 1185.4h15.9M793.3 1185.4h15.9M904.7 1185.4h15.9M236.2 1186.8h15.9M268 1186.8h15.9M315.8 1186.8h31.8M427.2 1186.8h15.9M474.9 1186.8h31.8M522.7 1186.8h15.9M586.3 1186.8h15.9M665.9 1186.8h15.9M697.8 1186.8h15.9M888.8 1186.8h15.9M108.8 1188.1h31.8M236.2 1188.1h15.9M268 1188.1h15.9M331.7 1188.1h47.8M554.5 1188.1h15.9M586.3 1188.1h31.8M650 1188.1h15.9M681.8 1188.1h15.9M729.6 1188.1h31.8M809.2 1188.1h31.8M77 1189.4h15.9M140.7 1189.4h15.9M236.2 1189.4h31.8M315.8 1189.4h15.9M363.5 1189.4h15.9M474.9 1189.4h31.8M602.3 1189.4h15.9M681.8 1189.4h31.8M872.8 1189.4h15.9M140.7 1190.8h15.9M299.8 1190.8h47.8M395.3 1190.8h15.9M443.1 1190.8h15.9M538.6 1190.8h15.9M665.9 1190.8h15.9M697.8 1190.8h31.8M872.8 1190.8h15.9M92.9 1192.1h15.9M443.1 1192.1h31.8M490.8 1192.1h15.9M538.6 1192.1h15.9M586.3 1192.1h31.8M697.8 1192.1h15.9M904.7 1192.1h15.9M236.2 1193.4h15.9M315.8 1193.4h15.9M347.6 1193.4h15.9M395.3 1193.4h15.9M809.2 1193.4h15.9M872.8 1193.4h15.9M140.7 1194.7h15.9M315.8 1194.7h31.8M443.1 1194.7h15.9M490.8 1194.7h63.7M586.3 1194.7h31.8M650 1194.7h15.9M729.6 1194.7h15.9M252.1 1196.1h31.8M331.7 1196.1h15.9M411.3 1196.1h15.9M443.1 1196.1h15.9M474.9 1196.1h15.9M554.5 1196.1h15.9M602.3 1196.1h31.8M697.8 1196.1h15.9M777.3 1196.1h15.9M108.8 1197.4h15.9M236.2 1197.4h31.8M443.1 1197.4h15.9M490.8 1197.4h15.9M665.9 1197.4h15.9M697.8 1197.4h15.9M841 1197.4h15.9M92.9 1198.7h15.9M315.8 1198.7h15.9M411.3 1198.7h15.9M570.4 1198.7h31.8M634.1 1198.7h31.8M825.1 1198.7h15.9M92.9 1200.1h15.9M299.8 1200.1h15.9M538.6 1200.1h31.8M618.2 1200.1h15.9M777.3 1200.1h15.9M92.9 1201.4h15.9M236.2 1201.4h15.9M283.9 1201.4h15.9M363.5 1201.4h15.9M395.3 1201.4h15.9M586.3 1201.4h31.8M681.8 1201.4h15.9M825.1 1201.4h15.9M204.3 1202.7h15.9M236.2 1202.7h31.8M331.7 1202.7h15.9M427.2 1202.7h15.9M474.9 1202.7h15.9M570.4 1202.7h47.8M825.1 1202.7h31.8M92.9 1204.1h31.8M220.3 1204.1h31.8M315.8 1204.1h15.9M347.6 1204.1h15.9M379.4 1204.1h31.8M427.2 1204.1h15.9M681.8 1204.1h15.9M745.5 1204.1h15.9M172.5 1205.4h15.9M204.3 1205.4h15.9M268 1205.4h15.9M411.3 1205.4h15.9M443.1 1205.4h15.9M538.6 1205.4h31.8M586.3 1205.4h15.9M825.1 1205.4h15.9M220.3 1206.7h15.9M252.1 1206.7h15.9M315.8 1206.7h15.9M474.9 1206.7h15.9M538.6 1206.7h31.8M586.3 1206.7h31.8M665.9 1206.7h31.8M761.4 1206.7h15.9M856.9 1206.7h15.9M888.8 1206.7h15.9M77 1208.1h15.9M204.3 1208.1h15.9M252.1 1208.1h15.9M283.9 1208.1h15.9M427.2 1208.1h15.9M474.9 1208.1h31.8M554.5 1208.1h15.9M650 1208.1h15.9M697.8 1208.1h15.9M92.9 1209.4h15.9M236.2 1209.4h31.8M299.8 1209.4h15.9M347.6 1209.4h31.8M443.1 1209.4h15.9M474.9 1209.4h31.8M554.5 1209.4h15.9M634.1 1209.4h15.9M681.8 1209.4h15.9M809.2 1209.4h15.9M841 1209.4h15.9M77 1210.7h15.9M220.3 1210.7h31.8M299.8 1210.7h31.8M347.6 1210.7h31.8M395.3 1210.7h15.9M443.1 1210.7h15.9M618.2 1210.7h47.8M809.2 1210.7h31.8M77 1212.1h31.8M220.3 1212.1h15.9M299.8 1212.1h31.8M443.1 1212.1h15.9M490.8 1212.1h15.9M538.6 1212.1h15.9M586.3 1212.1h15.9M681.8 1212.1h31.8M777.3 1212.1h15.9M92.9 1213.4h15.9M283.9 1213.4h15.9M315.8 1213.4h15.9M347.6 1213.4h15.9M411.3 1213.4h15.9M443.1 1213.4h15.9M522.7 1213.4h47.8M602.3 1213.4h15.9M634.1 1213.4h15.9M681.8 1213.4h15.9M777.3 1213.4h15.9M92.9 1214.7h15.9M268 1214.7h15.9M347.6 1214.7h15.9M379.4 1214.7h31.8M427.2 1214.7h15.9M602.3 1214.7h15.9M681.8 1214.7h15.9M729.6 1214.7h15.9M825.1 1214.7h15.9M872.8 1214.7h15.9M92.9 1216.1h31.8M252.1 1216.1h31.8M299.8 1216.1h15.9M347.6 1216.1h15.9M395.3 1216.1h31.8M602.3 1216.1h15.9M650 1216.1h15.9M713.7 1216.1h15.9M777.3 1216.1h31.8M92.9 1217.4h15.9M236.2 1217.4h15.9M268 1217.4h31.8M331.7 1217.4h15.9M490.8 1217.4h15.9M538.6 1217.4h15.9M681.8 1217.4h15.9M872.8 1217.4h15.9M220.3 1218.7h31.8M315.8 1218.7h15.9M379.4 1218.7h31.8M522.7 1218.7h15.9M602.3 1218.7h31.8M697.8 1218.7h15.9M729.6 1218.7h15.9M761.4 1218.7h15.9M856.9 1218.7h15.9M124.8 1220.1h15.9M268 1220.1h15.9M347.6 1220.1h15.9M459 1220.1h15.9M522.7 1220.1h15.9M586.3 1220.1h15.9M650 1220.1h15.9M681.8 1220.1h47.8M809.2 1220.1h31.8M872.8 1220.1h15.9M904.7 1220.1h15.9M92.9 1221.4h15.9M204.3 1221.4h15.9M236.2 1221.4h15.9M347.6 1221.4h15.9M379.4 1221.4h15.9M490.8 1221.4h15.9M522.7 1221.4h15.9M570.4 1221.4h15.9M602.3 1221.4h31.8M793.3 1221.4h15.9M236.2 1222.7h15.9M315.8 1222.7h15.9M347.6 1222.7h31.8M395.3 1222.7h31.8M538.6 1222.7h15.9M570.4 1222.7h15.9M713.7 1222.7h15.9M904.7 1222.7h15.9M268 1224.1h15.9M315.8 1224.1h15.9M347.6 1224.1h15.9M395.3 1224.1h15.9M490.8 1224.1h15.9M522.7 1224.1h15.9M634.1 1224.1h15.9M697.8 1224.1h31.8M825.1 1224.1h15.9M268 1225.4h15.9M299.8 1225.4h15.9M331.7 1225.4h31.8M554.5 1225.4h15.9M697.8 1225.4h15.9M729.6 1225.4h15.9M92.9 1226.7h31.8M220.3 1226.7h47.8M347.6 1226.7h15.9M443.1 1226.7h31.8M586.3 1226.7h15.9M650 1226.7h15.9M681.8 1226.7h15.9M713.7 1226.7h15.9M761.4 1226.7h15.9M872.8 1226.7h15.9M252.1 1228.1h15.9M283.9 1228.1h31.8M347.6 1228.1h15.9M427.2 1228.1h15.9M474.9 1228.1h15.9M522.7 1228.1h15.9M650 1228.1h15.9M681.8 1228.1h31.8M745.5 1228.1h15.9M777.3 1228.1h15.9M809.2 1228.1h31.8M124.8 1229.4h15.9M459 1229.4h15.9M490.8 1229.4h15.9M586.3 1229.4h15.9M665.9 1229.4h31.8M108.8 1230.7h15.9M204.3 1230.7h15.9M299.8 1230.7h31.8M363.5 1230.7h15.9M443.1 1230.7h47.8M538.6 1230.7h15.9M697.8 1230.7h15.9M777.3 1230.7h15.9M825.1 1230.7h15.9M872.8 1230.7h31.8M108.8 1232.1h31.8M172.5 1232.1h15.9M363.5 1232.1h15.9M395.3 1232.1h31.8M538.6 1232.1h31.8M777.3 1232.1h15.9M825.1 1232.1h15.9M872.8 1232.1h15.9M92.9 1233.4h31.8M236.2 1233.4h15.9M268 1233.4h15.9M363.5 1233.4h15.9M538.6 1233.4h15.9M570.4 1233.4h15.9M681.8 1233.4h31.8M793.3 1233.4h15.9M872.8 1233.4h15.9M140.7 1234.7h15.9M236.2 1234.7h15.9M379.4 1234.7h15.9M538.6 1234.7h15.9M634.1 1234.7h31.8M761.4 1234.7h15.9M872.8 1234.7h15.9M92.9 1236.1h15.9M220.3 1236.1h15.9M268 1236.1h15.9M315.8 1236.1h31.8M363.5 1236.1h15.9M459 1236.1h31.8M538.6 1236.1h15.9M602.3 1236.1h15.9M681.8 1236.1h31.8M841 1236.1h15.9M904.7 1236.1h15.9M236.2 1237.4h15.9M315.8 1237.4h15.9M347.6 1237.4h15.9M411.3 1237.4h47.8M490.8 1237.4h15.9M554.5 1237.4h15.9M634.1 1237.4h15.9M665.9 1237.4h15.9M697.8 1237.4h15.9M841 1237.4h15.9M904.7 1237.4h15.9M108.8 1238.7h15.9M140.7 1238.7h15.9M395.3 1238.7h15.9M490.8 1238.7h15.9M522.7 1238.7h15.9M634.1 1238.7h15.9M713.7 1238.7h15.9M793.3 1238.7h15.9M872.8 1238.7h15.9M904.7 1238.7h15.9M124.8 1240.1h15.9M204.3 1240.1h15.9M252.1 1240.1h15.9M283.9 1240.1h15.9M538.6 1240.1h47.8M634.1 1240.1h31.8M745.5 1240.1h15.9M777.3 1240.1h31.8M872.8 1240.1h15.9M140.7 1241.4h15.9M236.2 1241.4h15.9M331.7 1241.4h31.8M395.3 1241.4h15.9M474.9 1241.4h15.9M538.6 1241.4h15.9M697.8 1241.4h15.9M825.1 1241.4h15.9M872.8 1241.4h15.9M904.7 1241.4h15.9M299.8 1242.7h31.8M363.5 1242.7h15.9M522.7 1242.7h15.9M602.3 1242.7h63.7M841 1242.7h15.9M92.9 1244h15.9M156.6 1244h15.9M236.2 1244h15.9M395.3 1244h15.9M538.6 1244h31.8M665.9 1244h31.8M888.8 1244h15.9M108.8 1245.4h15.9M236.2 1245.4h15.9M299.8 1245.4h15.9M331.7 1245.4h15.9M363.5 1245.4h15.9M474.9 1245.4h15.9M745.5 1245.4h15.9M777.3 1245.4h15.9M809.2 1245.4h15.9M841 1245.4h15.9M904.7 1245.4h15.9M220.3 1246.7h15.9M283.9 1246.7h15.9M315.8 1246.7h15.9M395.3 1246.7h15.9M427.2 1246.7h31.8M538.6 1246.7h15.9M681.8 1246.7h15.9M92.9 1248h15.9M299.8 1248h15.9M411.3 1248h15.9M474.9 1248h15.9M665.9 1248h15.9M697.8 1248h15.9M841 1248h15.9M140.7 1249.4h15.9M220.3 1249.4h31.8M299.8 1249.4h15.9M395.3 1249.4h15.9M554.5 1249.4h15.9M602.3 1249.4h15.9M697.8 1249.4h15.9M825.1 1249.4h15.9M872.8 1249.4h15.9M236.2 1250.7h15.9M283.9 1250.7h15.9M331.7 1250.7h15.9M443.1 1250.7h15.9M474.9 1250.7h31.8M522.7 1250.7h15.9M713.7 1250.7h31.8M761.4 1250.7h15.9M92.9 1252h15.9M236.2 1252h15.9M299.8 1252h15.9M331.7 1252h31.8M538.6 1252h31.8M586.3 1252h15.9M634.1 1252h15.9M220.3 1253.4h15.9M268 1253.4h15.9M315.8 1253.4h15.9M363.5 1253.4h15.9M395.3 1253.4h15.9M490.8 1253.4h15.9M554.5 1253.4h15.9M729.6 1253.4h15.9M252.1 1254.7h15.9M395.3 1254.7h15.9M443.1 1254.7h15.9M522.7 1254.7h79.6M634.1 1254.7h15.9M856.9 1254.7h31.8M92.9 1256h15.9M140.7 1256h15.9M268 1256h15.9M299.8 1256h15.9M363.5 1256h15.9M459 1256h15.9M538.6 1256h15.9M570.4 1256h47.8M650 1256h31.8M777.3 1256h31.8M236.2 1257.4h15.9M395.3 1257.4h31.8M459 1257.4h15.9M522.7 1257.4h31.8M586.3 1257.4h15.9M634.1 1257.4h15.9M665.9 1257.4h15.9M729.6 1257.4h15.9M761.4 1257.4h15.9M888.8 1257.4h15.9M220.3 1258.7h31.8M283.9 1258.7h15.9M490.8 1258.7h15.9M586.3 1258.7h31.8M681.8 1258.7h15.9M825.1 1258.7h15.9M888.8 1258.7h15.9M92.9 1260h15.9M156.6 1260h15.9M347.6 1260h15.9M411.3 1260h15.9M650 1260h15.9M681.8 1260h15.9M809.2 1260h15.9M872.8 1260h15.9M268 1261.4h15.9M331.7 1261.4h15.9M379.4 1261.4h15.9M538.6 1261.4h15.9M681.8 1261.4h15.9M729.6 1261.4h15.9M809.2 1261.4h15.9M841 1261.4h15.9M872.8 1261.4h15.9M172.5 1262.7h15.9M347.6 1262.7h15.9M395.3 1262.7h15.9M490.8 1262.7h15.9M602.3 1262.7h15.9M713.7 1262.7h15.9M777.3 1262.7h31.8M841 1262.7h15.9M77 1264h15.9M268 1264h15.9M331.7 1264h15.9M443.1 1264h63.7M554.5 1264h15.9M665.9 1264h15.9M697.8 1264h15.9M777.3 1264h15.9M92.9 1265.4h15.9M220.3 1265.4h15.9M252.1 1265.4h15.9M331.7 1265.4h15.9M411.3 1265.4h47.8M538.6 1265.4h15.9M650 1265.4h15.9M713.7 1265.4h15.9M761.4 1265.4h15.9M108.8 1266.7h15.9M140.7 1266.7h15.9M204.3 1266.7h15.9M236.2 1266.7h15.9M283.9 1266.7h15.9M331.7 1266.7h31.8M729.6 1266.7h15.9M809.2 1266.7h15.9M92.9 1268h15.9M124.8 1268h15.9M236.2 1268h31.8M363.5 1268h15.9M554.5 1268h15.9M602.3 1268h15.9M634.1 1268h63.7M761.4 1268h31.8M220.3 1269.4h31.8M299.8 1269.4h15.9M395.3 1269.4h47.8M681.8 1269.4h31.8M156.6 1270.7h15.9M283.9 1270.7h15.9M331.7 1270.7h15.9M395.3 1270.7h15.9M427.2 1270.7h31.8M474.9 1270.7h15.9M538.6 1270.7h31.8M729.6 1270.7h15.9M92.9 1272h15.9M268 1272h15.9M299.8 1272h47.8M427.2 1272h15.9M538.6 1272h31.8M586.3 1272h15.9M650 1272h15.9M681.8 1272h15.9M809.2 1272h15.9M299.8 1273.4h15.9M347.6 1273.4h31.8M522.7 1273.4h15.9M809.2 1273.4h15.9M124.8 1274.7h47.8M220.3 1274.7h15.9M268 1274.7h15.9M299.8 1274.7h31.8M602.3 1274.7h15.9M681.8 1274.7h31.8M872.8 1274.7h31.8M220.3 1276h15.9M283.9 1276h31.8M331.7 1276h15.9M904.7 1276h15.9M140.7 1277.4h15.9M331.7 1277.4h15.9M363.5 1277.4h15.9M395.3 1277.4h31.8M538.6 1277.4h31.8M761.4 1277.4h15.9M809.2 1277.4h15.9M124.8 1278.7h31.8M268 1278.7h15.9M299.8 1278.7h15.9M634.1 1278.7h31.8M729.6 1278.7h15.9M888.8 1278.7h15.9M347.6 1280h15.9M490.8 1280h15.9M554.5 1280h15.9M618.2 1280h15.9M650 1280h15.9M729.6 1280h31.8M872.8 1280h15.9M904.7 1280h15.9M204.3 1281.4h15.9M299.8 1281.4h31.8M395.3 1281.4h15.9M459 1281.4h15.9M490.8 1281.4h15.9M697.8 1281.4h15.9M825.1 1281.4h15.9M77 1282.7h15.9M108.8 1282.7h15.9M156.6 1282.7h15.9M220.3 1282.7h15.9M299.8 1282.7h31.8M459 1282.7h15.9M538.6 1282.7h15.9M650 1282.7h15.9M681.8 1282.7h15.9M777.3 1282.7h15.9M172.5 1284h15.9M363.5 1284h15.9M427.2 1284h15.9M554.5 1284h15.9M681.8 1284h15.9M729.6 1284h15.9M872.8 1284h15.9M904.7 1284h15.9M124.8 1285.4h15.9M188.4 1285.4h15.9M268 1285.4h31.8M379.4 1285.4h15.9M427.2 1285.4h15.9M459 1285.4h15.9M490.8 1285.4h15.9M538.6 1285.4h31.8M872.8 1285.4h15.9M904.7 1285.4h15.9M108.8 1286.7h15.9M140.7 1286.7h15.9M204.3 1286.7h15.9M236.2 1286.7h15.9M299.8 1286.7h15.9M363.5 1286.7h15.9M395.3 1286.7h15.9M443.1 1286.7h15.9M474.9 1286.7h15.9M602.3 1286.7h15.9M650 1286.7h15.9M697.8 1286.7h15.9M761.4 1286.7h15.9M904.7 1286.7h15.9M108.8 1288h15.9M363.5 1288h47.8M538.6 1288h15.9M681.8 1288h15.9M872.8 1288h15.9M188.4 1289.4h15.9M220.3 1289.4h15.9M363.5 1289.4h15.9M427.2 1289.4h15.9M538.6 1289.4h15.9M602.3 1289.4h15.9M793.3 1289.4h15.9M108.8 1290.7h31.8M252.1 1290.7h15.9M299.8 1290.7h63.7M474.9 1290.7h15.9M634.1 1290.7h15.9M697.8 1290.7h15.9M745.5 1290.7h15.9M793.3 1290.7h15.9M108.8 1292h31.8M204.3 1292h15.9M315.8 1292h15.9M490.8 1292h15.9M538.6 1292h15.9M586.3 1292h31.8M650 1292h15.9M761.4 1292h15.9M872.8 1292h15.9M904.7 1292h15.9M140.7 1293.3h15.9M204.3 1293.3h15.9M427.2 1293.3h31.8M474.9 1293.3h15.9M634.1 1293.3h15.9M665.9 1293.3h31.8M188.4 1294.7h15.9M220.3 1294.7h15.9M252.1 1294.7h15.9M283.9 1294.7h15.9M315.8 1294.7h15.9M363.5 1294.7h15.9M395.3 1294.7h15.9M443.1 1294.7h15.9M713.7 1294.7h15.9M108.8 1296h15.9M236.2 1296h63.7M315.8 1296h15.9M347.6 1296h15.9M411.3 1296h31.8M522.7 1296h15.9M665.9 1296h31.8M729.6 1296h31.8M856.9 1296h31.8M904.7 1296h15.9M156.6 1297.3h15.9M283.9 1297.3h31.8M443.1 1297.3h15.9M538.6 1297.3h15.9M586.3 1297.3h15.9M777.3 1297.3h15.9M888.8 1297.3h15.9M92.9 1298.7h15.9M220.3 1298.7h15.9M299.8 1298.7h15.9M363.5 1298.7h15.9M427.2 1298.7h15.9M474.9 1298.7h31.8M570.4 1298.7h15.9M634.1 1298.7h15.9M825.1 1298.7h15.9M872.8 1298.7h31.8M220.3 1300h15.9M395.3 1300h15.9M538.6 1300h15.9M634.1 1300h15.9M697.8 1300h15.9M92.9 1301.3h31.8M140.7 1301.3h15.9M220.3 1301.3h15.9M315.8 1301.3h31.8M363.5 1301.3h15.9M522.7 1301.3h31.8M634.1 1301.3h15.9M697.8 1301.3h15.9M904.7 1301.3h15.9M315.8 1302.7h15.9M395.3 1302.7h15.9M427.2 1302.7h31.8M490.8 1302.7h15.9M522.7 1302.7h15.9M602.3 1302.7h15.9M650 1302.7h15.9M777.3 1302.7h15.9M872.8 1302.7h15.9M77 1304h15.9M220.3 1304h15.9M331.7 1304h15.9M363.5 1304h15.9M395.3 1304h15.9M522.7 1304h15.9M586.3 1304h15.9M713.7 1304h15.9M793.3 1304h15.9M108.8 1305.3h15.9M236.2 1305.3h31.8M283.9 1305.3h15.9M315.8 1305.3h15.9M443.1 1305.3h31.8M490.8 1305.3h15.9M538.6 1305.3h15.9M570.4 1305.3h15.9M681.8 1305.3h31.8M825.1 1305.3h15.9M888.8 1305.3h15.9M108.8 1306.7h15.9M204.3 1306.7h15.9M236.2 1306.7h31.8M299.8 1306.7h31.8M347.6 1306.7h15.9M443.1 1306.7h15.9M522.7 1306.7h15.9M570.4 1306.7h15.9M634.1 1306.7h31.8M761.4 1306.7h15.9M872.8 1306.7h15.9M77 1308h15.9M140.7 1308h15.9M299.8 1308h15.9M395.3 1308h15.9M443.1 1308h31.8M490.8 1308h15.9M570.4 1308h15.9M872.8 1308h15.9M204.3 1309.3h15.9M347.6 1309.3h31.8M474.9 1309.3h15.9M538.6 1309.3h15.9M650 1309.3h15.9M713.7 1309.3h15.9M809.2 1309.3h31.8M872.8 1309.3h15.9M77 1310.7h31.8M220.3 1310.7h15.9M283.9 1310.7h31.8M395.3 1310.7h31.8M490.8 1310.7h15.9M538.6 1310.7h15.9M665.9 1310.7h15.9M825.1 1310.7h15.9M872.8 1310.7h15.9M904.7 1310.7h15.9M108.8 1312h15.9M140.7 1312h15.9M283.9 1312h15.9M363.5 1312h15.9M443.1 1312h31.8M522.7 1312h15.9M554.5 1312h15.9M665.9 1312h47.8M204.3 1313.3h15.9M299.8 1313.3h15.9M411.3 1313.3h15.9M490.8 1313.3h15.9M538.6 1313.3h31.8M634.1 1313.3h15.9M729.6 1313.3h15.9M888.8 1313.3h15.9M220.3 1314.7h31.8M268 1314.7h15.9M299.8 1314.7h15.9M363.5 1314.7h15.9M490.8 1314.7h15.9M538.6 1314.7h15.9M665.9 1314.7h15.9M809.2 1314.7h15.9M872.8 1314.7h15.9M252.1 1316h31.8M299.8 1316h15.9M331.7 1316h15.9M363.5 1316h31.8M411.3 1316h15.9M650 1316h31.8M809.2 1316h15.9M872.8 1316h15.9M204.3 1317.3h15.9M315.8 1317.3h15.9M395.3 1317.3h15.9M427.2 1317.3h15.9M490.8 1317.3h15.9M522.7 1317.3h15.9M586.3 1317.3h15.9M634.1 1317.3h15.9M665.9 1317.3h15.9M713.7 1317.3h15.9M825.1 1317.3h15.9M872.8 1317.3h15.9M92.9 1318.7h31.8M188.4 1318.7h15.9M363.5 1318.7h15.9M474.9 1318.7h15.9M602.3 1318.7h15.9M634.1 1318.7h63.7M745.5 1318.7h15.9M220.3 1320h15.9M252.1 1320h31.8M299.8 1320h15.9M347.6 1320h31.8M395.3 1320h15.9M443.1 1320h15.9M538.6 1320h31.8M602.3 1320h15.9M697.8 1320h15.9M729.6 1320h15.9M761.4 1320h15.9M140.7 1321.3h15.9M220.3 1321.3h15.9M315.8 1321.3h15.9M379.4 1321.3h15.9M427.2 1321.3h15.9M650 1321.3h31.8M713.7 1321.3h31.8M777.3 1321.3h15.9M156.6 1322.7h15.9M220.3 1322.7h15.9M252.1 1322.7h15.9M315.8 1322.7h47.8M427.2 1322.7h15.9M490.8 1322.7h15.9M538.6 1322.7h31.8M586.3 1322.7h15.9M650 1322.7h15.9M697.8 1322.7h47.8M761.4 1322.7h15.9M825.1 1322.7h15.9M92.9 1324h15.9M220.3 1324h31.8M315.8 1324h63.7M713.7 1324h15.9M809.2 1324h47.8M904.7 1324h15.9M220.3 1325.3h31.8M331.7 1325.3h47.8M474.9 1325.3h15.9M665.9 1325.3h31.8M140.7 1326.7h15.9M443.1 1326.7h15.9M474.9 1326.7h31.8M522.7 1326.7h15.9M554.5 1326.7h15.9M602.3 1326.7h15.9M634.1 1326.7h47.8M841 1326.7h15.9M77 1328h15.9M140.7 1328h15.9M268 1328h15.9M299.8 1328h15.9M331.7 1328h15.9M363.5 1328h15.9M554.5 1328h15.9M586.3 1328h15.9M665.9 1328h31.8M729.6 1328h15.9M809.2 1328h31.8M856.9 1328h31.8M904.7 1328h15.9M220.3 1329.3h47.8M331.7 1329.3h15.9M379.4 1329.3h15.9M411.3 1329.3h15.9M443.1 1329.3h15.9M538.6 1329.3h15.9M602.3 1329.3h15.9M634.1 1329.3h15.9M697.8 1329.3h15.9M872.8 1329.3h31.8M347.6 1330.7h15.9M395.3 1330.7h15.9M443.1 1330.7h63.7M602.3 1330.7h15.9M872.8 1330.7h15.9M904.7 1330.7h15.9M92.9 1332h15.9M220.3 1332h15.9M363.5 1332h47.8M474.9 1332h15.9M554.5 1332h15.9M586.3 1332h31.8M665.9 1332h15.9M825.1 1332h31.8M872.8 1332h15.9M77 1333.3h15.9M283.9 1333.3h15.9M315.8 1333.3h15.9M522.7 1333.3h15.9M904.7 1333.3h15.9M92.9 1334.7h15.9M156.6 1334.7h15.9M283.9 1334.7h15.9M315.8 1334.7h31.8M411.3 1334.7h15.9M490.8 1334.7h15.9M634.1 1334.7h15.9M729.6 1334.7h15.9M793.3 1334.7h47.8M904.7 1334.7h15.9M92.9 1336h15.9M252.1 1336h15.9M315.8 1336h15.9M347.6 1336h31.8M411.3 1336h15.9M474.9 1336h15.9M506.8 1336h31.8M602.3 1336h15.9M665.9 1336h31.8M841 1336h15.9M888.8 1336h15.9M140.7 1337.3h15.9M363.5 1337.3h15.9M395.3 1337.3h15.9M459 1337.3h15.9M490.8 1337.3h15.9M522.7 1337.3h15.9M681.8 1337.3h15.9M729.6 1337.3h15.9M809.2 1337.3h15.9M92.9 1338.7h15.9M140.7 1338.7h15.9M220.3 1338.7h15.9M268 1338.7h15.9M299.8 1338.7h15.9M411.3 1338.7h15.9M586.3 1338.7h15.9M618.2 1338.7h31.8M825.1 1338.7h15.9M268 1340h31.8M315.8 1340h47.8M443.1 1340h15.9M538.6 1340h15.9M602.3 1340h15.9M761.4 1340h15.9M841 1340h15.9M188.4 1341.3h15.9M220.3 1341.3h15.9M252.1 1341.3h15.9M347.6 1341.3h15.9M395.3 1341.3h15.9M427.2 1341.3h15.9M459 1341.3h31.8M506.8 1341.3h15.9M554.5 1341.3h15.9M602.3 1341.3h15.9M650 1341.3h15.9M697.8 1341.3h15.9M729.6 1341.3h15.9M777.3 1341.3h15.9M156.6 1342.6h15.9M315.8 1342.6h31.8M411.3 1342.6h15.9M490.8 1342.6h15.9M602.3 1342.6h15.9M634.1 1342.6h15.9M681.8 1342.6h15.9M713.7 1342.6h15.9M872.8 1342.6h15.9M220.3 1344h15.9M268 1344h15.9M299.8 1344h47.8M474.9 1344h15.9M522.7 1344h15.9M634.1 1344h31.8M697.8 1344h15.9M777.3 1344h31.8M841 1344h15.9M888.8 1344h15.9M156.6 1345.3h15.9M236.2 1345.3h15.9M299.8 1345.3h31.8M427.2 1345.3h15.9M538.6 1345.3h15.9M602.3 1345.3h15.9M745.5 1345.3h15.9M777.3 1345.3h15.9M841 1345.3h31.8M283.9 1346.6h15.9M331.7 1346.6h15.9M363.5 1346.6h15.9M427.2 1346.6h15.9M474.9 1346.6h15.9M634.1 1346.6h15.9M665.9 1346.6h15.9M809.2 1346.6h15.9M220.3 1348h15.9M268 1348h15.9M299.8 1348h31.8M347.6 1348h31.8M474.9 1348h15.9M554.5 1348h15.9M618.2 1348h15.9M665.9 1348h47.8M825.1 1348h15.9M140.7 1349.3h15.9M204.3 1349.3h15.9M268 1349.3h15.9M315.8 1349.3h15.9M379.4 1349.3h15.9M474.9 1349.3h15.9M602.3 1349.3h15.9M650 1349.3h15.9M268 1350.6h15.9M395.3 1350.6h15.9M490.8 1350.6h15.9M538.6 1350.6h15.9M570.4 1350.6h15.9M602.3 1350.6h15.9M650 1350.6h31.8M77 1352h15.9M108.8 1352h15.9M220.3 1352h79.6M331.7 1352h15.9M379.4 1352h15.9M411.3 1352h47.8M554.5 1352h15.9M634.1 1352h47.8M697.8 1352h15.9M809.2 1352h15.9M888.8 1352h15.9M108.8 1353.3h15.9M204.3 1353.3h15.9M315.8 1353.3h15.9M347.6 1353.3h15.9M395.3 1353.3h15.9M443.1 1353.3h15.9M825.1 1353.3h31.8M522.7 1354.6h31.8M681.8 1354.6h15.9M777.3 1354.6h15.9M315.8 1356h15.9M395.3 1356h15.9M490.8 1356h15.9M538.6 1356h15.9M634.1 1356h31.8M713.7 1356h15.9M793.3 1356h15.9M77 1357.3h15.9M108.8 1357.3h15.9M204.3 1357.3h31.8M268 1357.3h15.9M363.5 1357.3h15.9M411.3 1357.3h31.8M872.8 1357.3h15.9M77 1358.6h15.9M220.3 1358.6h15.9M252.1 1358.6h15.9M299.8 1358.6h15.9M331.7 1358.6h15.9M443.1 1358.6h15.9M474.9 1358.6h15.9M522.7 1358.6h15.9M602.3 1358.6h15.9M697.8 1358.6h31.8M825.1 1358.6h15.9M92.9 1360h15.9M140.7 1360h15.9M204.3 1360h15.9M252.1 1360h31.8M315.8 1360h15.9M363.5 1360h15.9M395.3 1360h15.9M443.1 1360h15.9M490.8 1360h15.9M538.6 1360h15.9M650 1360h15.9M697.8 1360h15.9M809.2 1360h15.9M904.7 1360h15.9M108.8 1361.3h15.9M140.7 1361.3h15.9M315.8 1361.3h15.9M363.5 1361.3h15.9M395.3 1361.3h15.9M713.7 1361.3h15.9M793.3 1361.3h15.9M872.8 1361.3h15.9M77 1362.6h15.9M331.7 1362.6h15.9M395.3 1362.6h15.9M538.6 1362.6h15.9M570.4 1362.6h31.8M650 1362.6h47.8M777.3 1362.6h15.9M809.2 1362.6h15.9M841 1362.6h15.9M236.2 1364h15.9M331.7 1364h15.9M363.5 1364h15.9M427.2 1364h15.9M650 1364h15.9M729.6 1364h15.9M809.2 1364h15.9M872.8 1364h31.8M124.8 1365.3h31.8M236.2 1365.3h31.8M315.8 1365.3h15.9M474.9 1365.3h31.8M650 1365.3h15.9M681.8 1365.3h31.8M841 1365.3h15.9M77 1366.6h15.9M427.2 1366.6h15.9M506.8 1366.6h15.9M650 1366.6h15.9M713.7 1366.6h15.9M777.3 1366.6h15.9M841 1366.6h15.9M904.7 1366.6h15.9"/>
<path stroke="#470f11" d="M220.3 1018.9h15.9M809.2 1018.9h15.9M474.9 1020.2h15.9M713.7 1020.2h15.9M220.3 1021.5h15.9M347.6 1021.5h15.9M443.1 1021.5h15.9M522.7 1021.5h15.9M665.9 1021.5h15.9M220.3 1022.9h15.9M315.8 1022.9h15.9M363.5 1022.9h15.9M777.3 1022.9h15.9M220.3 1024.2h15.9M299.8 1024.2h31.8M427.2 1024.2h15.9M872.8 1024.2h15.9M315.8 1025.5h15.9M363.5 1025.5h15.9M490.8 1025.5h15.9M299.8 1026.9h15.9M554.5 1026.9h15.9M315.8 1028.2h15.9M395.3 1028.2h15.9M872.8 1028.2h15.9M395.3 1029.5h15.9M586.3 1029.5h15.9M825.1 1029.5h15.9M220.3 1030.9h15.9M443.1 1030.9h15.9M554.5 1030.9h15.9M681.8 1030.9h31.8M793.3 1030.9h15.9M220.3 1032.2h15.9M299.8 1032.2h15.9M474.9 1032.2h15.9M665.9 1032.2h15.9M872.8 1032.2h15.9M252.1 1033.5h15.9M443.1 1033.5h15.9M490.8 1033.5h15.9M650 1033.5h15.9M220.3 1034.9h15.9M252.1 1034.9h15.9M299.8 1034.9h47.8M538.6 1034.9h15.9M395.3 1036.2h15.9M474.9 1036.2h15.9M522.7 1036.2h15.9M268 1037.5h15.9M315.8 1037.5h15.9M299.8 1038.9h31.8M363.5 1038.9h15.9M395.3 1038.9h15.9M793.3 1038.9h15.9M363.5 1040.2h15.9M841 1040.2h15.9M872.8 1040.2h15.9M729.6 1041.5h15.9M777.3 1041.5h15.9M841 1042.9h15.9M363.5 1044.2h15.9M395.3 1044.2h15.9M474.9 1044.2h15.9M220.3 1045.5h15.9M252.1 1045.5h15.9M602.3 1045.5h15.9M490.8 1046.8h15.9M538.6 1046.8h15.9M602.3 1046.8h15.9M650 1046.8h15.9M872.8 1046.8h31.8M108.8 1048.2h15.9M299.8 1048.2h15.9M347.6 1048.2h15.9M427.2 1048.2h15.9M602.3 1048.2h15.9M650 1048.2h15.9M697.8 1048.2h15.9M92.9 1049.5h15.9M315.8 1049.5h15.9M490.8 1049.5h15.9M92.9 1050.8h15.9M124.8 1050.8h15.9M331.7 1050.8h15.9M443.1 1050.8h15.9M825.1 1050.8h15.9M331.7 1052.2h15.9M363.5 1052.2h15.9M490.8 1052.2h15.9M872.8 1052.2h15.9M77 1053.5h15.9M220.3 1053.5h15.9M538.6 1053.5h15.9M570.4 1053.5h15.9M825.1 1053.5h15.9M220.3 1054.8h15.9M283.9 1054.8h15.9M395.3 1054.8h15.9M443.1 1054.8h15.9M490.8 1054.8h15.9M650 1054.8h15.9M697.8 1054.8h15.9M252.1 1056.2h15.9M299.8 1056.2h15.9M474.9 1056.2h15.9M554.5 1056.2h31.8M681.8 1056.2h15.9M538.6 1057.5h15.9M681.8 1057.5h15.9M220.3 1058.8h15.9M299.8 1058.8h15.9M379.4 1058.8h15.9M538.6 1058.8h31.8M220.3 1060.2h15.9M315.8 1060.2h31.8M554.5 1060.2h15.9M395.3 1061.5h15.9M506.8 1061.5h15.9M602.3 1061.5h15.9M665.9 1061.5h31.8M395.3 1062.8h15.9M427.2 1062.8h15.9M331.7 1064.2h15.9M363.5 1064.2h15.9M395.3 1064.2h15.9M522.7 1064.2h15.9M602.3 1064.2h15.9M650 1064.2h15.9M490.8 1065.5h15.9M522.7 1065.5h15.9M681.8 1065.5h15.9M315.8 1066.8h15.9M490.8 1066.8h15.9M538.6 1066.8h15.9M697.8 1066.8h15.9M363.5 1068.2h15.9M347.6 1069.5h15.9M474.9 1069.5h15.9M554.5 1069.5h15.9M602.3 1069.5h15.9M745.5 1069.5h15.9M140.7 1070.8h15.9M220.3 1070.8h15.9M395.3 1070.8h15.9M474.9 1070.8h15.9M538.6 1070.8h31.8M729.6 1070.8h15.9M331.7 1072.2h15.9M729.6 1073.5h15.9M331.7 1074.8h15.9M474.9 1074.8h15.9M872.8 1074.8h15.9M140.7 1076.2h15.9M204.3 1076.2h15.9M586.3 1076.2h15.9M299.8 1077.5h15.9M395.3 1077.5h15.9M554.5 1077.5h15.9M713.7 1077.5h15.9M140.7 1078.8h15.9M204.3 1078.8h31.8M490.8 1078.8h15.9M681.8 1078.8h31.8M825.1 1078.8h15.9M299.8 1080.2h47.8M379.4 1080.2h15.9M411.3 1080.2h15.9M490.8 1080.2h15.9M602.3 1080.2h15.9M634.1 1080.2h15.9M315.8 1081.5h15.9M252.1 1082.8h15.9M395.3 1082.8h31.8M443.1 1082.8h15.9M745.5 1082.8h15.9M140.7 1084.2h15.9M268 1084.2h15.9M315.8 1084.2h15.9M474.9 1084.2h15.9M665.9 1084.2h15.9M220.3 1085.5h15.9M268 1085.5h15.9M522.7 1085.5h15.9M745.5 1085.5h15.9M124.8 1086.8h15.9M411.3 1086.8h15.9M618.2 1086.8h15.9M697.8 1086.8h15.9M761.4 1086.8h15.9M347.6 1088.2h15.9M395.3 1088.2h15.9M586.3 1088.2h15.9M904.7 1088.2h15.9M140.7 1089.5h15.9M315.8 1089.5h15.9M395.3 1089.5h15.9M586.3 1089.5h15.9M713.7 1089.5h15.9M268 1090.8h15.9M443.1 1090.8h15.9M490.8 1090.8h15.9M602.3 1092.2h15.9M825.1 1092.2h15.9M220.3 1093.5h15.9M459 1093.5h31.8M650 1093.5h15.9M729.6 1093.5h15.9M872.8 1093.5h15.9M395.3 1094.8h15.9M665.9 1094.8h15.9M793.3 1094.8h15.9M363.5 1096.1h15.9M395.3 1096.1h15.9M538.6 1096.1h15.9M220.3 1097.5h15.9M363.5 1097.5h15.9M522.7 1097.5h31.8M586.3 1097.5h15.9M268 1098.8h15.9M299.8 1098.8h15.9M331.7 1098.8h15.9M363.5 1098.8h15.9M427.2 1098.8h31.8M92.9 1100.1h15.9M268 1100.1h15.9M299.8 1100.1h31.8M474.9 1100.1h31.8M522.7 1100.1h15.9M570.4 1100.1h15.9M634.1 1100.1h15.9M681.8 1101.5h15.9M713.7 1101.5h15.9M220.3 1102.8h31.8M268 1102.8h15.9M299.8 1102.8h15.9M427.2 1102.8h15.9M538.6 1102.8h15.9M729.6 1102.8h15.9M220.3 1104.1h31.8M331.7 1104.1h15.9M363.5 1104.1h15.9M395.3 1104.1h15.9M825.1 1104.1h15.9M825.1 1105.5h15.9M331.7 1106.8h15.9M363.5 1106.8h15.9M443.1 1106.8h15.9M650 1106.8h15.9M268 1108.1h15.9M363.5 1108.1h15.9M443.1 1108.1h31.8M697.8 1108.1h15.9M395.3 1109.5h15.9M490.8 1109.5h15.9M554.5 1109.5h15.9M586.3 1109.5h31.8M363.5 1110.8h15.9M395.3 1110.8h15.9M729.6 1110.8h15.9M395.3 1112.1h15.9M681.8 1112.1h31.8M745.5 1112.1h15.9M395.3 1113.5h15.9M490.8 1113.5h15.9M634.1 1113.5h15.9M268 1114.8h15.9M586.3 1114.8h15.9M634.1 1114.8h15.9M745.5 1114.8h15.9M92.9 1116.1h15.9M220.3 1116.1h15.9M268 1116.1h15.9M315.8 1116.1h15.9M490.8 1116.1h15.9M602.3 1116.1h15.9M395.3 1117.5h15.9M474.9 1117.5h15.9M872.8 1117.5h15.9M363.5 1118.8h15.9M570.4 1118.8h15.9M602.3 1118.8h15.9M713.7 1118.8h15.9M220.3 1120.1h15.9M283.9 1120.1h31.8M443.1 1120.1h15.9M474.9 1120.1h31.8M538.6 1120.1h15.9M347.6 1121.5h15.9M395.3 1121.5h15.9M490.8 1121.5h15.9M586.3 1121.5h15.9M841 1121.5h15.9M474.9 1122.8h15.9M761.4 1122.8h15.9M252.1 1124.1h15.9M299.8 1124.1h15.9M299.8 1125.5h15.9M443.1 1125.5h15.9M650 1125.5h15.9M872.8 1125.5h15.9M395.3 1126.8h15.9M490.8 1126.8h15.9M602.3 1126.8h15.9M252.1 1128.1h15.9M299.8 1128.1h15.9M299.8 1129.5h15.9M395.3 1129.5h15.9M538.6 1129.5h15.9M570.4 1129.5h15.9M634.1 1129.5h15.9M681.8 1129.5h15.9M172.5 1130.8h15.9M315.8 1130.8h15.9M395.3 1130.8h15.9M459 1130.8h15.9M538.6 1130.8h15.9M872.8 1130.8h15.9M220.3 1132.1h15.9M490.8 1132.1h15.9M602.3 1132.1h15.9M681.8 1132.1h15.9M347.6 1133.5h15.9M586.3 1133.5h15.9M618.2 1133.5h15.9M825.1 1133.5h15.9M872.8 1133.5h15.9M363.5 1134.8h15.9M474.9 1134.8h15.9M634.1 1134.8h31.8M602.3 1136.1h15.9M634.1 1136.1h15.9M443.1 1137.5h15.9M538.6 1137.5h15.9M315.8 1138.8h31.8M602.3 1138.8h15.9M490.8 1140.1h15.9M570.4 1140.1h15.9M618.2 1140.1h15.9M172.5 1141.5h47.8M268 1141.5h15.9M443.1 1141.5h15.9M697.8 1141.5h15.9M363.5 1142.8h15.9M506.8 1142.8h15.9M872.8 1142.8h15.9M77 1144.1h15.9M299.8 1144.1h15.9M586.3 1144.1h15.9M665.9 1144.1h15.9M236.2 1145.4h15.9M665.9 1145.4h15.9M793.3 1145.4h15.9M841 1145.4h15.9M315.8 1146.8h15.9M395.3 1146.8h31.8M490.8 1146.8h15.9M538.6 1146.8h15.9M872.8 1146.8h15.9M236.2 1148.1h15.9M268 1148.1h15.9M395.3 1148.1h15.9M665.9 1148.1h15.9M809.2 1148.1h15.9M872.8 1148.1h15.9M474.9 1149.4h15.9M506.8 1149.4h15.9M841 1149.4h15.9M650 1150.8h15.9M681.8 1150.8h15.9M220.3 1152.1h15.9M299.8 1152.1h15.9M331.7 1152.1h15.9M363.5 1152.1h15.9M522.7 1152.1h15.9M650 1152.1h15.9M443.1 1153.4h15.9M538.6 1153.4h15.9M220.3 1154.8h15.9M729.6 1154.8h15.9M888.8 1154.8h15.9M331.7 1156.1h15.9M411.3 1156.1h15.9M538.6 1156.1h15.9M665.9 1156.1h15.9M140.7 1157.4h15.9M283.9 1157.4h15.9M315.8 1158.8h15.9M363.5 1158.8h15.9M268 1160.1h15.9M299.8 1160.1h15.9M331.7 1160.1h15.9M363.5 1160.1h15.9M443.1 1160.1h15.9M124.8 1161.4h15.9M427.2 1161.4h15.9M713.7 1161.4h15.9M522.7 1162.8h15.9M729.6 1162.8h15.9M220.3 1164.1h31.8M395.3 1164.1h15.9M522.7 1164.1h15.9M793.3 1164.1h15.9M92.9 1165.4h15.9M586.3 1165.4h15.9M745.5 1165.4h15.9M872.8 1165.4h15.9M570.4 1166.8h15.9M331.7 1168.1h15.9M522.7 1168.1h15.9M602.3 1168.1h15.9M650 1168.1h15.9M268 1169.4h15.9M490.8 1169.4h15.9M299.8 1170.8h15.9M490.8 1170.8h15.9M220.3 1172.1h15.9M299.8 1172.1h31.8M538.6 1172.1h15.9M77 1173.4h15.9M204.3 1173.4h31.8M252.1 1173.4h15.9M283.9 1173.4h15.9M315.8 1173.4h15.9M347.6 1173.4h31.8M427.2 1173.4h31.8M490.8 1173.4h15.9M554.5 1173.4h15.9M586.3 1173.4h15.9M729.6 1173.4h15.9M538.6 1174.8h15.9M602.3 1174.8h31.8M729.6 1174.8h15.9M872.8 1174.8h15.9M395.3 1176.1h15.9M474.9 1176.1h15.9M522.7 1176.1h15.9M681.8 1176.1h31.8M236.2 1177.4h15.9M363.5 1177.4h15.9M443.1 1177.4h15.9M474.9 1177.4h15.9M140.7 1178.8h15.9M379.4 1178.8h15.9M729.6 1178.8h15.9M140.7 1180.1h15.9M363.5 1180.1h15.9M443.1 1180.1h15.9M490.8 1180.1h15.9M554.5 1180.1h15.9M586.3 1180.1h15.9M650 1180.1h15.9M777.3 1180.1h15.9M872.8 1180.1h15.9M220.3 1181.4h15.9M315.8 1181.4h15.9M395.3 1181.4h15.9M650 1181.4h15.9M538.6 1182.8h15.9M570.4 1182.8h15.9M729.6 1182.8h15.9M124.8 1184.1h15.9M268 1184.1h15.9M395.3 1184.1h15.9M443.1 1184.1h15.9M538.6 1184.1h15.9M140.7 1185.4h15.9M331.7 1185.4h15.9M379.4 1185.4h31.8M490.8 1185.4h15.9M586.3 1185.4h15.9M665.9 1185.4h15.9M220.3 1186.8h15.9M252.1 1186.8h15.9M299.8 1186.8h15.9M570.4 1186.8h15.9M681.8 1186.8h15.9M713.7 1186.8h15.9M443.1 1188.1h15.9M172.5 1189.4h15.9M474.9 1190.8h15.9M777.3 1190.8h15.9M299.8 1192.1h15.9M427.2 1192.1h15.9M665.9 1192.1h15.9M841 1192.1h15.9M299.8 1193.4h15.9M268 1194.7h15.9M554.5 1194.7h15.9M634.1 1194.7h15.9M188.4 1196.1h15.9M236.2 1196.1h15.9M363.5 1196.1h15.9M681.8 1196.1h15.9M713.7 1196.1h15.9M411.3 1197.4h15.9M554.5 1197.4h15.9M888.8 1197.4h15.9M522.7 1198.7h15.9M602.3 1198.7h15.9M761.4 1198.7h15.9M872.8 1198.7h15.9M220.3 1200.1h31.8M395.3 1200.1h47.8M490.8 1200.1h15.9M602.3 1200.1h15.9M872.8 1200.1h15.9M379.4 1201.4h15.9M777.3 1201.4h31.8M872.8 1201.4h15.9M92.9 1202.7h15.9M315.8 1202.7h15.9M379.4 1202.7h15.9M522.7 1202.7h15.9M697.8 1202.7h15.9M872.8 1202.7h15.9M268 1204.1h15.9M331.7 1204.1h15.9M411.3 1204.1h15.9M443.1 1204.1h15.9M586.3 1204.1h15.9M872.8 1204.1h15.9M602.3 1205.4h15.9M681.8 1205.4h15.9M236.2 1206.7h15.9M331.7 1206.7h15.9M872.8 1206.7h15.9M140.7 1208.1h15.9M268 1208.1h15.9M299.8 1208.1h31.8M411.3 1208.1h15.9M681.8 1208.1h15.9M745.5 1208.1h15.9M825.1 1208.1h15.9M315.8 1209.4h31.8M427.2 1209.4h15.9M522.7 1209.4h15.9M888.8 1209.4h15.9M586.3 1210.7h31.8M681.8 1210.7h15.9M872.8 1210.7h15.9M459 1212.1h15.9M268 1213.4h15.9M331.7 1213.4h15.9M474.9 1213.4h15.9M650 1213.4h15.9M872.8 1213.4h15.9M140.7 1214.7h15.9M283.9 1214.7h15.9M363.5 1214.7h15.9M411.3 1214.7h15.9M697.8 1214.7h15.9M777.3 1214.7h15.9M77 1216.1h15.9M729.6 1216.1h15.9M220.3 1217.4h15.9M347.6 1217.4h15.9M427.2 1217.4h15.9M697.8 1217.4h15.9M825.1 1217.4h15.9M92.9 1218.7h15.9M506.8 1218.7h15.9M634.1 1218.7h15.9M665.9 1218.7h15.9M315.8 1220.1h31.8M395.3 1220.1h15.9M490.8 1220.1h15.9M220.3 1221.4h15.9M283.9 1221.4h15.9M363.5 1221.4h15.9M395.3 1221.4h15.9M443.1 1221.4h15.9M729.6 1221.4h15.9M220.3 1222.7h15.9M474.9 1222.7h15.9M729.6 1222.7h15.9M665.9 1224.1h15.9M729.6 1224.1h15.9M220.3 1225.4h15.9M681.8 1225.4h15.9M825.1 1225.4h15.9M665.9 1226.7h15.9M729.6 1226.7h15.9M315.8 1228.1h15.9M411.3 1228.1h15.9M443.1 1228.1h15.9M665.9 1228.1h15.9M888.8 1228.1h15.9M220.3 1229.4h15.9M443.1 1229.4h15.9M888.8 1229.4h15.9M252.1 1230.7h15.9M395.3 1230.7h15.9M554.5 1230.7h15.9M856.9 1230.7h15.9M220.3 1232.1h15.9M315.8 1232.1h15.9M443.1 1232.1h15.9M634.1 1232.1h15.9M411.3 1233.4h31.8M665.9 1233.4h15.9M347.6 1234.7h15.9M395.3 1234.7h15.9M681.8 1234.7h15.9M77 1236.1h15.9M204.3 1236.1h15.9M252.1 1236.1h15.9M395.3 1236.1h15.9M490.8 1236.1h15.9M872.8 1236.1h15.9M220.3 1237.4h15.9M299.8 1237.4h15.9M363.5 1237.4h15.9M474.9 1237.4h15.9M729.6 1237.4h15.9M92.9 1238.7h15.9M220.3 1238.7h15.9M268 1238.7h15.9M363.5 1238.7h15.9M538.6 1238.7h15.9M665.9 1238.7h15.9M761.4 1238.7h15.9M299.8 1240.1h31.8M474.9 1240.1h15.9M220.3 1241.4h15.9M299.8 1241.4h15.9M363.5 1241.4h15.9M443.1 1241.4h15.9M618.2 1241.4h15.9M650 1241.4h15.9M729.6 1241.4h15.9M220.3 1242.7h31.8M681.8 1242.7h15.9M809.2 1242.7h15.9M872.8 1242.7h15.9M363.5 1244h15.9M490.8 1244h15.9M650 1244h15.9M522.7 1245.4h15.9M586.3 1245.4h15.9M650 1245.4h15.9M299.8 1246.7h15.9M331.7 1246.7h15.9M363.5 1246.7h15.9M634.1 1246.7h15.9M777.3 1246.7h15.9M809.2 1246.7h31.8M252.1 1248h15.9M443.1 1248h15.9M490.8 1248h15.9M872.8 1248h15.9M904.7 1248h15.9M92.9 1249.4h15.9M283.9 1249.4h15.9M427.2 1249.4h31.8M490.8 1249.4h15.9M538.6 1249.4h15.9M665.9 1249.4h15.9M681.8 1250.7h15.9M888.8 1250.7h15.9M140.7 1252h15.9M268 1252h31.8M474.9 1252h15.9M681.8 1252h15.9M347.6 1253.4h15.9M665.9 1253.4h15.9M825.1 1253.4h15.9M872.8 1253.4h15.9M140.7 1254.7h15.9M299.8 1254.7h15.9M474.9 1256h15.9M761.4 1256h15.9M283.9 1257.4h15.9M490.8 1257.4h15.9M697.8 1257.4h15.9M363.5 1258.7h15.9M395.3 1258.7h15.9M522.7 1258.7h31.8M220.3 1260h15.9M299.8 1260h15.9M538.6 1260h15.9M697.8 1260h15.9M220.3 1261.4h15.9M347.6 1261.4h15.9M443.1 1261.4h15.9M474.9 1261.4h31.8M602.3 1261.4h15.9M650 1261.4h15.9M252.1 1262.7h15.9M299.8 1262.7h47.8M522.7 1262.7h15.9M809.2 1262.7h15.9M363.5 1264h31.8M825.1 1264h15.9M872.8 1264h15.9M268 1265.4h15.9M697.8 1265.4h15.9M299.8 1266.7h15.9M363.5 1266.7h15.9M395.3 1266.7h15.9M443.1 1266.7h15.9M474.9 1266.7h15.9M554.5 1266.7h31.8M665.9 1266.7h15.9M268 1268h15.9M474.9 1268h15.9M522.7 1268h15.9M697.8 1268h15.9M77 1269.4h15.9M315.8 1269.4h15.9M363.5 1269.4h15.9M634.1 1269.4h15.9M809.2 1269.4h15.9M236.2 1270.7h15.9M268 1270.7h15.9M299.8 1270.7h15.9M347.6 1270.7h15.9M108.8 1272h15.9M395.3 1272h15.9M443.1 1272h15.9M490.8 1272h15.9M602.3 1272h15.9M220.3 1273.4h15.9M315.8 1273.4h15.9M570.4 1273.4h15.9M650 1273.4h15.9M872.8 1273.4h15.9M283.9 1274.7h15.9M363.5 1274.7h15.9M395.3 1274.7h15.9M474.9 1274.7h31.8M522.7 1274.7h15.9M236.2 1276h15.9M395.3 1276h15.9M490.8 1276h15.9M538.6 1276h15.9M634.1 1276h15.9M872.8 1276h15.9M315.8 1277.4h15.9M490.8 1277.4h15.9M220.3 1278.7h15.9M315.8 1278.7h15.9M363.5 1278.7h15.9M411.3 1278.7h15.9M474.9 1278.7h15.9M554.5 1278.7h15.9M602.3 1278.7h31.8M665.9 1278.7h31.8M252.1 1280h15.9M538.6 1280h15.9M602.3 1280h15.9M220.3 1281.4h15.9M474.9 1281.4h15.9M650 1281.4h15.9M268 1282.7h15.9M363.5 1282.7h15.9M490.8 1282.7h15.9M602.3 1282.7h15.9M729.6 1282.7h15.9M77 1284h31.8M220.3 1284h15.9M474.9 1284h31.8M650 1284h15.9M252.1 1285.4h15.9M395.3 1285.4h15.9M618.2 1285.4h15.9M650 1285.4h15.9M809.2 1285.4h15.9M252.1 1286.7h15.9M315.8 1286.7h15.9M554.5 1286.7h15.9M268 1288h15.9M315.8 1288h15.9M411.3 1288h15.9M443.1 1288h15.9M474.9 1288h15.9M522.7 1288h15.9M602.3 1288h15.9M77 1289.4h15.9M761.4 1289.4h15.9M220.3 1290.7h15.9M490.8 1290.7h31.8M665.9 1290.7h31.8M443.1 1292h15.9M713.7 1292h15.9M777.3 1292h31.8M108.8 1293.3h15.9M459 1293.3h15.9M538.6 1293.3h15.9M841 1293.3h15.9M124.8 1296h15.9M204.3 1296h15.9M299.8 1296h15.9M490.8 1296h15.9M809.2 1296h15.9M331.7 1297.3h15.9M681.8 1297.3h31.8M729.6 1297.3h15.9M872.8 1297.3h15.9M268 1298.7h15.9M315.8 1298.7h15.9M538.6 1298.7h15.9M729.6 1298.7h15.9M777.3 1298.7h15.9M411.3 1300h15.9M570.4 1300h15.9M618.2 1300h15.9M490.8 1301.3h15.9M554.5 1301.3h15.9M108.8 1302.7h15.9M140.7 1302.7h15.9M236.2 1302.7h15.9M347.6 1302.7h15.9M299.8 1304h15.9M443.1 1304h15.9M650 1304h15.9M474.9 1305.3h15.9M220.3 1306.7h15.9M474.9 1306.7h15.9M856.9 1306.7h15.9M268 1308h31.8M522.7 1308h15.9M650 1308h15.9M268 1309.3h15.9M299.8 1309.3h15.9M379.4 1309.3h15.9M522.7 1309.3h15.9M841 1309.3h15.9M236.2 1310.7h15.9M268 1310.7h15.9M315.8 1310.7h15.9M363.5 1310.7h15.9M315.8 1312h31.8M379.4 1312h31.8M650 1312h15.9M872.8 1312h15.9M108.8 1313.3h15.9M220.3 1313.3h15.9M315.8 1313.3h15.9M347.6 1313.3h31.8M395.3 1313.3h15.9M872.8 1313.3h15.9M825.1 1314.7h15.9M395.3 1316h15.9M554.5 1316h15.9M602.3 1316h15.9M681.8 1316h15.9M538.6 1317.3h15.9M124.8 1318.7h15.9M283.9 1318.7h15.9M315.8 1318.7h15.9M443.1 1318.7h15.9M490.8 1318.7h15.9M538.6 1318.7h15.9M888.8 1318.7h15.9M315.8 1320h15.9M490.8 1320h15.9M745.5 1320h15.9M825.1 1320h15.9M92.9 1321.3h15.9M554.5 1321.3h15.9M825.1 1321.3h15.9M379.4 1322.7h15.9M602.3 1322.7h15.9M872.8 1322.7h15.9M299.8 1324h15.9M395.3 1324h15.9M474.9 1324h15.9M522.7 1324h15.9M554.5 1324h31.8M92.9 1325.3h15.9M283.9 1325.3h31.8M395.3 1325.3h15.9M586.3 1325.3h15.9M634.1 1325.3h15.9M809.2 1325.3h31.8M220.3 1326.7h15.9M315.8 1326.7h15.9M347.6 1326.7h31.8M586.3 1326.7h15.9M681.8 1326.7h15.9M872.8 1326.7h15.9M108.8 1328h15.9M236.2 1328h15.9M570.4 1328h15.9M602.3 1328h15.9M108.8 1329.3h15.9M299.8 1329.3h31.8M729.6 1329.3h15.9M220.3 1330.7h15.9M299.8 1330.7h31.8M634.1 1330.7h15.9M77 1332h15.9M140.7 1332h15.9M315.8 1332h15.9M522.7 1332h15.9M220.3 1333.3h15.9M474.9 1333.3h15.9M681.8 1333.3h15.9M841 1333.3h15.9M236.2 1334.7h15.9M474.9 1334.7h15.9M681.8 1334.7h15.9M841 1334.7h15.9M220.3 1336h15.9M299.8 1336h15.9M586.3 1336h15.9M650 1336h15.9M777.3 1336h15.9M427.2 1337.3h15.9M474.9 1337.3h15.9M793.3 1337.3h15.9M872.8 1337.3h15.9M236.2 1338.7h15.9M331.7 1338.7h15.9M490.8 1338.7h15.9M538.6 1338.7h15.9M681.8 1338.7h15.9M904.7 1338.7h15.9M299.8 1340h15.9M650 1340h15.9M681.8 1340h15.9M713.7 1340h15.9M299.8 1341.3h15.9M363.5 1341.3h15.9M268 1342.6h15.9M299.8 1342.6h15.9M650 1342.6h15.9M411.3 1344h15.9M490.8 1344h15.9M570.4 1344h15.9M665.9 1344h15.9M443.1 1345.3h15.9M904.7 1345.3h15.9M204.3 1346.6h15.9M299.8 1346.6h15.9M395.3 1346.6h15.9M681.8 1346.6h15.9M331.7 1348h15.9M634.1 1348h31.8M841 1348h15.9M220.3 1349.3h15.9M299.8 1349.3h15.9M299.8 1350.6h15.9M331.7 1350.6h15.9M363.5 1350.6h15.9M474.9 1350.6h15.9M634.1 1350.6h15.9M315.8 1352h15.9M347.6 1352h15.9M490.8 1352h15.9M538.6 1352h15.9M729.6 1352h15.9M825.1 1352h15.9M252.1 1353.3h15.9M299.8 1353.3h15.9M490.8 1353.3h15.9M538.6 1353.3h15.9M872.8 1353.3h15.9M92.9 1354.6h15.9M124.8 1354.6h31.8M220.3 1354.6h15.9M268 1354.6h15.9M315.8 1354.6h15.9M490.8 1354.6h15.9M602.3 1354.6h15.9M650 1354.6h15.9M77 1356h15.9M236.2 1356h31.8M283.9 1356h15.9M474.9 1357.3h15.9M538.6 1357.3h15.9M650 1357.3h15.9M681.8 1357.3h31.8M745.5 1357.3h15.9M283.9 1358.6h15.9M650 1358.6h15.9M299.8 1360h15.9M474.9 1360h15.9M554.5 1360h15.9M665.9 1360h15.9M474.9 1361.3h15.9M650 1361.3h15.9M220.3 1362.6h15.9M363.5 1362.6h15.9M474.9 1362.6h31.8M522.7 1362.6h15.9M315.8 1364h15.9M395.3 1364h15.9M443.1 1364h15.9M713.7 1364h15.9M841 1364h15.9M347.6 1365.3h63.7M220.3 1366.6h15.9M315.8 1366.6h15.9M363.5 1366.6h15.9M634.1 1366.6h15.9M665.9 1366.6h15.9"/>
<path stroke="#661215" d="M299.8 1018.9h15.9M268 1020.2h15.9M395.3 1020.2h15.9M681.8 1021.5h15.9M729.6 1022.9h15.9M872.8 1022.9h15.9M777.3 1024.2h15.9M299.8 1025.5h15.9M395.3 1025.5h15.9M809.2 1026.9h15.9M220.3 1028.2h15.9M872.8 1029.5h15.9M172.5 1033.5h15.9M299.8 1037.5h15.9M602.3 1038.9h15.9M474.9 1040.2h15.9M618.2 1040.2h31.8M586.3 1042.9h15.9M220.3 1044.2h15.9M315.8 1044.2h15.9M347.6 1045.5h15.9M634.1 1048.2h15.9M268 1056.2h15.9M490.8 1056.2h15.9M411.3 1057.5h15.9M490.8 1057.5h15.9M443.1 1058.8h15.9M474.9 1058.8h15.9M299.8 1060.2h15.9M872.8 1060.2h15.9M411.3 1061.5h15.9M538.6 1061.5h15.9M809.2 1062.8h15.9M681.8 1064.2h15.9M299.8 1065.5h15.9M602.3 1066.8h15.9M904.7 1066.8h15.9M681.8 1068.2h15.9M299.8 1070.8h15.9M761.4 1070.8h15.9M299.8 1072.2h15.9M363.5 1072.2h15.9M490.8 1072.2h15.9M252.1 1073.5h15.9M299.8 1073.5h15.9M443.1 1073.5h15.9M538.6 1074.8h15.9M888.8 1078.8h15.9M220.3 1081.5h31.8M331.7 1081.5h15.9M825.1 1081.5h15.9M220.3 1082.8h15.9M443.1 1084.2h15.9M650 1084.2h15.9M236.2 1086.8h15.9M522.7 1088.2h15.9M681.8 1088.2h15.9M220.3 1089.5h15.9M490.8 1089.5h15.9M904.7 1090.8h15.9M872.8 1092.2h15.9M299.8 1093.5h15.9M363.5 1093.5h15.9M681.8 1093.5h31.8M586.3 1094.8h15.9M777.3 1094.8h15.9M252.1 1096.1h15.9M872.8 1096.1h15.9M331.7 1097.5h15.9M220.3 1098.8h15.9M872.8 1098.8h15.9M538.6 1100.1h15.9M331.7 1101.5h15.9M411.3 1101.5h15.9M570.4 1101.5h15.9M522.7 1102.8h15.9M602.3 1102.8h15.9M538.6 1104.1h15.9M634.1 1104.1h15.9M809.2 1104.1h15.9M77 1106.8h15.9M634.1 1106.8h15.9M872.8 1106.8h15.9M299.8 1109.5h15.9M363.5 1109.5h15.9M459 1109.5h15.9M490.8 1110.8h15.9M347.6 1112.1h15.9M490.8 1112.1h15.9M315.8 1113.5h15.9M363.5 1113.5h15.9M570.4 1113.5h15.9M77 1114.8h15.9M331.7 1114.8h15.9M363.5 1114.8h15.9M331.7 1116.1h15.9M363.5 1116.1h15.9M586.3 1116.1h15.9M411.3 1117.5h15.9M634.1 1117.5h15.9M825.1 1117.5h15.9M204.3 1118.8h15.9M283.9 1118.8h15.9M395.3 1120.1h15.9M809.2 1120.1h15.9M299.8 1121.5h15.9M331.7 1121.5h15.9M522.7 1121.5h15.9M793.3 1121.5h15.9M713.7 1124.1h15.9M490.8 1125.5h15.9M443.1 1128.1h15.9M554.5 1128.1h15.9M681.8 1128.1h15.9M77 1129.5h15.9M220.3 1129.5h15.9M665.9 1129.5h15.9M474.9 1130.8h15.9M856.9 1130.8h15.9M268 1132.1h15.9M490.8 1133.5h15.9M347.6 1134.8h15.9M872.8 1134.8h15.9M220.3 1136.1h15.9M140.7 1137.5h15.9M252.1 1137.5h15.9M363.5 1137.5h15.9M474.9 1138.8h15.9M793.3 1141.5h15.9M729.6 1142.8h15.9M236.2 1144.1h15.9M474.9 1144.1h15.9M220.3 1148.1h15.9M299.8 1148.1h15.9M618.2 1148.1h15.9M825.1 1148.1h15.9M268 1149.4h15.9M809.2 1149.4h15.9M427.2 1150.8h15.9M602.3 1150.8h15.9M490.8 1152.1h15.9M872.8 1152.1h15.9M268 1153.4h15.9M395.3 1153.4h15.9M474.9 1153.4h15.9M522.7 1153.4h15.9M697.8 1153.4h15.9M872.8 1153.4h15.9M650 1156.1h15.9M729.6 1156.1h15.9M220.3 1158.8h15.9M474.9 1158.8h15.9M697.8 1158.8h15.9M761.4 1158.8h15.9M490.8 1160.1h15.9M315.8 1161.4h15.9M474.9 1161.4h15.9M299.8 1164.1h31.8M443.1 1164.1h15.9M554.5 1164.1h15.9M268 1165.4h15.9M363.5 1165.4h15.9M570.4 1165.4h15.9M474.9 1166.8h15.9M888.8 1166.8h15.9M490.8 1168.1h15.9M681.8 1168.1h15.9M315.8 1169.4h15.9M825.1 1169.4h15.9M315.8 1170.8h15.9M490.8 1172.1h15.9M872.8 1172.1h15.9M490.8 1174.8h15.9M474.9 1178.8h31.8M872.8 1178.8h15.9M220.3 1180.1h15.9M665.9 1180.1h15.9M268 1181.4h15.9M315.8 1184.1h15.9M586.3 1184.1h15.9M299.8 1185.4h15.9M363.5 1185.4h15.9M427.2 1185.4h15.9M268 1190.8h15.9M490.8 1190.8h15.9M347.6 1192.1h15.9M140.7 1193.4h15.9M363.5 1193.4h15.9M522.7 1193.4h15.9M793.3 1194.7h15.9M347.6 1197.4h31.8M634.1 1197.4h15.9M331.7 1198.7h15.9M729.6 1198.7h15.9M522.7 1200.1h15.9M650 1200.1h15.9M220.3 1201.4h15.9M729.6 1205.4h15.9M220.3 1208.1h15.9M443.1 1208.1h15.9M395.3 1209.4h15.9M602.3 1209.4h15.9M92.9 1210.7h15.9M268 1210.7h15.9M665.9 1210.7h15.9M697.8 1210.7h15.9M363.5 1212.1h15.9M395.3 1212.1h15.9M474.9 1212.1h15.9M363.5 1213.4h15.9M665.9 1213.4h15.9M522.7 1214.7h15.9M474.9 1216.1h31.8M586.3 1216.1h15.9M872.8 1218.7h15.9M220.3 1220.1h15.9M363.5 1220.1h15.9M474.9 1220.1h15.9M602.3 1220.1h15.9M220.3 1224.1h15.9M299.8 1224.1h15.9M872.8 1224.1h15.9M618.2 1225.4h15.9M315.8 1226.7h15.9M395.3 1226.7h15.9M140.7 1228.1h15.9M268 1228.1h15.9M490.8 1228.1h15.9M650 1230.7h15.9M299.8 1233.4h31.8M490.8 1233.4h15.9M474.9 1234.7h15.9M236.2 1236.1h15.9M538.6 1237.4h15.9M490.8 1241.4h15.9M299.8 1244h15.9M474.9 1244h15.9M841 1244h15.9M252.1 1245.4h15.9M474.9 1246.7h15.9M220.3 1248h15.9M315.8 1249.4h15.9M474.9 1249.4h15.9M220.3 1250.7h15.9M363.5 1250.7h15.9M395.3 1252h15.9M522.7 1253.4h15.9M315.8 1254.7h15.9M315.8 1256h15.9M220.3 1257.4h15.9M299.8 1257.4h15.9M872.8 1257.4h15.9M443.1 1258.7h15.9M474.9 1258.7h15.9M650 1258.7h15.9M395.3 1260h15.9M315.8 1261.4h15.9M554.5 1261.4h15.9M108.8 1264h15.9M586.3 1264h15.9M490.8 1265.4h15.9M554.5 1265.4h15.9M140.7 1268h15.9M315.8 1268h31.8M427.2 1268h15.9M331.7 1269.4h15.9M490.8 1269.4h15.9M634.1 1270.7h15.9M220.3 1272h15.9M474.9 1272h15.9M602.3 1273.4h15.9M331.7 1274.7h15.9M522.7 1276h15.9M825.1 1276h15.9M220.3 1277.4h15.9M299.8 1277.4h15.9M872.8 1277.4h15.9M395.3 1278.7h15.9M490.8 1278.7h15.9M140.7 1280h15.9M777.3 1280h15.9M586.3 1282.7h15.9M315.8 1284h15.9M395.3 1284h15.9M140.7 1285.4h15.9M474.9 1285.4h15.9M697.8 1285.4h15.9M283.9 1286.7h15.9M220.3 1288h15.9M665.9 1288h15.9M825.1 1288h15.9M395.3 1290.7h15.9M299.8 1293.3h15.9M634.1 1294.7h15.9M331.7 1298.7h15.9M474.9 1301.3h15.9M586.3 1301.3h15.9M681.8 1301.3h15.9M809.2 1301.3h15.9M252.1 1302.7h15.9M570.4 1302.7h15.9M315.8 1304h15.9M220.3 1305.3h15.9M395.3 1305.3h15.9M363.5 1308h15.9M474.9 1308h15.9M602.3 1308h15.9M554.5 1309.3h15.9M793.3 1310.7h15.9M268 1312h15.9M602.3 1312h15.9M315.8 1316h15.9M761.4 1316h15.9M363.5 1317.3h15.9M602.3 1317.3h15.9M299.8 1318.7h15.9M331.7 1321.3h15.9M538.6 1321.3h15.9M331.7 1326.7h15.9M220.3 1328h15.9M347.6 1328h15.9M363.5 1329.3h15.9M522.7 1329.3h15.9M586.3 1329.3h15.9M363.5 1330.7h15.9M538.6 1330.7h15.9M299.8 1333.3h15.9M395.3 1333.3h15.9M538.6 1333.3h15.9M872.8 1333.3h15.9M395.3 1336h15.9M554.5 1336h15.9M299.8 1337.3h47.8M474.9 1338.7h15.9M522.7 1338.7h15.9M872.8 1338.7h15.9M363.5 1340h15.9M474.9 1340h31.8M872.8 1340h15.9M220.3 1342.6h15.9M363.5 1342.6h15.9M92.9 1345.3h15.9M761.4 1350.6h15.9M586.3 1352h15.9M697.8 1354.6h15.9M363.5 1356h15.9M697.8 1356h15.9M872.8 1356h15.9M443.1 1357.3h15.9M315.8 1358.6h15.9M220.3 1360h15.9M411.3 1361.3h15.9M347.6 1362.6h15.9M379.4 1362.6h15.9M474.9 1364h31.8M443.1 1365.3h15.9M331.7 1366.6h15.9M411.3 1366.6h15.9M697.8 1366.6h15.9M872.8 1366.6h15.9"/>
<path stroke="#851419" d="M347.6 1018.9h15.9M490.8 1030.9h15.9M554.5 1033.5h15.9M92.9 1036.2h15.9M538.6 1037.5h15.9M347.6 1038.9h15.9M872.8 1045.5h15.9M395.3 1053.5h15.9M872.8 1058.8h15.9M92.9 1065.5h15.9M474.9 1066.8h15.9M299.8 1068.2h15.9M697.8 1073.5h15.9M299.8 1088.2h15.9M315.8 1098.8h15.9M872.8 1100.1h15.9M252.1 1106.8h15.9M220.3 1110.8h15.9M299.8 1110.8h15.9M650 1110.8h15.9M395.3 1116.1h15.9M299.8 1117.5h15.9M490.8 1118.8h15.9M490.8 1124.1h15.9M490.8 1129.5h15.9M538.6 1134.8h15.9M602.3 1134.8h15.9M474.9 1137.5h31.8M872.8 1137.5h15.9M299.8 1138.8h15.9M538.6 1145.4h15.9M602.3 1148.1h15.9M490.8 1156.1h15.9M490.8 1157.4h15.9M522.7 1161.4h15.9M268 1166.8h15.9M602.3 1166.8h15.9M665.9 1178.8h15.9M315.8 1180.1h15.9M554.5 1184.1h15.9M395.3 1186.8h15.9M395.3 1189.4h15.9M809.2 1189.4h15.9M474.9 1192.1h15.9M872.8 1192.1h15.9M92.9 1193.4h15.9M315.8 1196.1h15.9M490.8 1196.1h15.9M474.9 1197.4h15.9M363.5 1198.7h15.9M474.9 1200.1h15.9M347.6 1202.7h15.9M347.6 1208.1h15.9M220.3 1213.4h15.9M490.8 1213.4h15.9M490.8 1214.7h15.9M395.3 1217.4h15.9M299.8 1218.7h15.9M586.3 1222.7h15.9M395.3 1228.1h15.9M872.8 1228.1h15.9M236.2 1229.4h15.9M586.3 1234.7h15.9M252.1 1241.4h15.9M872.8 1244h15.9M315.8 1245.4h15.9M347.6 1246.7h15.9M363.5 1249.4h15.9M315.8 1252h15.9M872.8 1252h15.9M236.2 1254.7h15.9M490.8 1254.7h15.9M474.9 1260h15.9M299.8 1261.4h15.9M474.9 1269.4h15.9M411.3 1276h15.9M252.1 1281.4h15.9M602.3 1281.4h15.9M872.8 1286.7h15.9M283.9 1288h15.9M841 1290.7h15.9M522.7 1293.3h15.9M602.3 1293.3h15.9M363.5 1302.7h15.9M538.6 1302.7h15.9M761.4 1302.7h15.9M363.5 1305.3h15.9M665.9 1308h15.9M140.7 1310.7h15.9M220.3 1312h15.9M474.9 1316h15.9M872.8 1318.7h15.9M474.9 1320h15.9M299.8 1326.7h15.9M395.3 1326.7h15.9M538.6 1326.7h15.9M809.2 1326.7h15.9M904.7 1329.3h15.9M490.8 1332h15.9M538.6 1332h15.9M490.8 1336h15.9M443.1 1337.3h15.9M522.7 1340h15.9M554.5 1340h15.9M315.8 1341.3h15.9M252.1 1344h15.9M586.3 1345.3h15.9M872.8 1349.3h15.9M395.3 1352h15.9M522.7 1353.3h15.9M331.7 1354.6h15.9M395.3 1354.6h15.9M363.5 1358.6h15.9M872.8 1360h15.9M490.8 1361.3h15.9M443.1 1362.6h15.9M268 1364h15.9M299.8 1365.3h15.9M602.3 1365.3h15.9"/>
<path stroke="#a4171d" d="M299.8 1029.5h15.9M490.8 1069.5h15.9M490.8 1092.2h15.9M474.9 1102.8h15.9M538.6 1108.1h15.9M872.8 1112.1h15.9M872.8 1114.8h15.9M315.8 1126.8h15.9M299.8 1130.8h15.9M299.8 1137.5h15.9M363.5 1164.1h15.9M299.8 1166.8h15.9M538.6 1180.1h15.9M220.3 1189.4h15.9M443.1 1202.7h15.9M841 1220.1h15.9M634.1 1222.7h15.9M602.3 1241.4h15.9M299.8 1253.4h15.9M395.3 1261.4h15.9M395.3 1273.4h15.9M522.7 1318.7h15.9M395.3 1328h15.9M729.6 1340h15.9M443.1 1346.6h15.9M268 1353.3h15.9M220.3 1361.3h15.9"/>
<path stroke="#c21920" d="M538.6 1020.2h15.9M474.9 1062.8h15.9M443.1 1101.5h15.9M872.8 1188.1h15.9"/>
</g>
<path d="M84.5 1009.8V1018.2M100.5 1009.8V1018.2M116.5 1009.8V1018.2M132.5 1009.8V1018.2M148.5 1009.8V1018.2M164.5 1009.8V1018.2M180.5 1009.8V1018.2M196.5 1009.8V1018.2M212.5 1009.8V1018.2M228.5 1009.8V1018.2M244.5 1009.8V1018.2M260.5 1009.8V1018.2M275.5 1009.8V1018.2M291.5 1009.8V1018.2M307.5 1009.8V1018.2M323.5 1009.8V1018.2M339.5 1009.8V1018.2M355.5 1009.8V1018.2M371.5 1009.8V1018.2M387.5 1009.8V1018.2M403.5 1009.8V1018.2M419.5 1009.8V1018.2M435.5 1009.8V1018.2M451.5 1009.8V1018.2M466.5 1009.8V1018.2M482.5 1009.8V1018.2M498.5 1009.8V1018.2M514.5 1009.8V1018.2M530.5 1009.8V1018.2M546.5 1009.8V1018.2M562.5 1009.8V1018.2M578.5 1009.8V1018.2M594.5 1009.8V1018.2M610.5 1009.8V1018.2M626.5 1009.8V1018.2M642.5 1009.8V1018.2M657.5 1009.8V1018.2M673.5 1009.8V1018.2M689.5 1009.8V1018.2M705.5 1009.8V1018.2M721.5 1009.8V1018.2M737.5 1009.8V1018.2M753.5 1009.8V1018.2M769.5 1009.8V1018.2M785.5 1009.8V1018.2M801.5 1009.8V1018.2M817.5 1009.8V1018.2M833.5 1009.8V1018.2M848.5 1009.8V1018.2M864.5 1009.8V1018.2M880.5 1009.8V1018.2M896.5 1009.8V1018.2M912.5 1009.8V1018.2" stroke="#111" stroke-width="1" fill="none"/>
<text x="499" y="1004.3" text-anchor="middle" font-size="26.4" font-weight="bold">magenta</text>
<g fill="#BEBEBE" stroke="#262626" stroke-width="1.1"><rect x="88.6" y="1502.8" width="12.94" height="48.5"/><rect x="104.13" y="1502.8" width="12.94" height="10.6"/><rect x="119.66" y="1502.8" width="12.94" height="43.3"/><rect x="135.19" y="1502.8" width="12.94" height="101.9"/><rect x="150.72" y="1500.2" width="12.94" height="2.6"/><rect x="166.25" y="1502.8" width="12.94" height="190.2"/><rect x="181.78" y="1502.8" width="12.94" height="124.7"/><rect x="197.31" y="1502.8" width="12.94" height="155.5"/><rect x="212.84" y="1502.8" width="12.94" height="58.3"/><rect x="228.37" y="1395.5" width="12.94" height="107.3"/><rect x="243.9" y="1474" width="12.94" height="28.8"/><rect x="259.43" y="1482.6" width="12.94" height="20.2"/><rect x="274.96" y="1438.3" width="12.94" height="64.5"/><rect x="290.49" y="1502.8" width="12.94" height="18.7"/><rect x="306.02" y="1381" width="12.94" height="121.8"/><rect x="321.55" y="1381.5" width="12.94" height="121.3"/><rect x="337.08" y="1445.2" width="12.94" height="57.6"/><rect x="352.61" y="1452.3" width="12.94" height="50.5"/><rect x="368.14" y="1375.8" width="12.94" height="127"/><rect x="383.67" y="1502.8" width="12.94" height="40.7"/><rect x="399.2" y="1380.7" width="12.94" height="122.1"/><rect x="414.73" y="1502.8" width="12.94" height="20.4"/><rect x="430.26" y="1502.8" width="12.94" height="13.5"/><rect x="445.79" y="1443.7" width="12.94" height="59.1"/><rect x="461.32" y="1502.8" width="12.94" height="80.4"/><rect x="476.85" y="1380.7" width="12.94" height="122.1"/><rect x="492.38" y="1379.6" width="12.94" height="123.2"/><rect x="507.91" y="1502.8" width="12.94" height="122.9"/><rect x="523.44" y="1448.6" width="12.94" height="54.2"/><rect x="538.97" y="1442.9" width="12.94" height="59.9"/><rect x="554.5" y="1472.5" width="12.94" height="30.3"/><rect x="570.03" y="1502.8" width="12.94" height="30.1"/><rect x="585.56" y="1470.9" width="12.94" height="31.9"/><rect x="601.09" y="1442.6" width="12.94" height="60.2"/><rect x="616.62" y="1502.8" width="12.94" height="78.3"/><rect x="632.15" y="1497.6" width="12.94" height="5.2"/><rect x="647.68" y="1462.4" width="12.94" height="40.4"/><rect x="663.21" y="1485.2" width="12.94" height="17.6"/><rect x="678.74" y="1442.4" width="12.94" height="60.4"/><rect x="694.27" y="1481.3" width="12.94" height="21.5"/><rect x="709.8" y="1502.8" width="12.94" height="48"/><rect x="725.33" y="1502.8" width="12.94" height="4.4"/><rect x="740.86" y="1502.8" width="12.94" height="71.5"/><rect x="756.39" y="1502.8" width="12.94" height="44.6"/><rect x="771.92" y="1502.8" width="12.94" height="15.6"/><rect x="787.45" y="1502.8" width="12.94" height="57.6"/><rect x="802.98" y="1502.8" width="12.94" height="18.4"/><rect x="818.51" y="1480.5" width="12.94" height="22.3"/><rect x="834.04" y="1502.8" width="12.94" height="30.6"/><rect x="849.57" y="1502.8" width="12.94" height="159"/><rect x="865.1" y="1371.7" width="12.94" height="131.1"/><rect x="880.63" y="1502.8" width="12.94" height="38.6"/><rect x="896.16" y="1502.8" width="12.94" height="49.3"/></g>
<path d="M56.5 1389.3V1673.1M48.2 1389.3H56.5M48.2 1446.1H56.5M48.2 1502.8H56.5M48.2 1559.6H56.5M48.2 1616.4H56.5M48.2 1673.1H56.5" stroke="#222" stroke-width="1" fill="none"/>
<text transform="translate(37 1389.3) rotate(-90)" text-anchor="middle" font-size="12.4">0.2</text>
<text transform="translate(37 1446.1) rotate(-90)" text-anchor="middle" font-size="12.4">0.1</text>
<text transform="translate(37 1502.8) rotate(-90)" text-anchor="middle" font-size="12.4">0.0</text>
<text transform="translate(37 1559.6) rotate(-90)" text-anchor="middle" font-size="12.4">−0.1</text>
<text transform="translate(37 1616.4) rotate(-90)" text-anchor="middle" font-size="12.4">−0.2</text>
<text transform="translate(37 1673.1) rotate(-90)" text-anchor="middle" font-size="12.4">−0.3</text>
<g font-size="12.3" text-anchor="end"><text transform="translate(93.8 1709.6) rotate(-44.2)">GSM1340999_Control</text><text transform="translate(109.3 1709.6) rotate(-44.2)">GSM1341000_Control</text><text transform="translate(124.8 1709.6) rotate(-44.2)">GSM1341001_Control</text><text transform="translate(140.4 1709.6) rotate(-44.2)">GSM1341002_Control</text><text transform="translate(155.9 1709.6) rotate(-44.2)">GSM1341003_Control</text><text transform="translate(171.4 1709.6) rotate(-44.2)">GSM1341004_Control</text><text transform="translate(186.9 1709.6) rotate(-44.2)">GSM1341005_Control</text><text transform="translate(202.5 1709.6) rotate(-44.2)">GSM1341006_Control</text><text transform="translate(218 1709.6) rotate(-44.2)">GSM1340954_Treat</text><text transform="translate(233.5 1709.6) rotate(-44.2)">GSM1340955_Treat</text><text transform="translate(249.1 1709.6) rotate(-44.2)">GSM1340956_Treat</text><text transform="translate(264.6 1709.6) rotate(-44.2)">GSM1340957_Treat</text><text transform="translate(280.1 1709.6) rotate(-44.2)">GSM1340958_Treat</text><text transform="translate(295.7 1709.6) rotate(-44.2)">GSM1340959_Treat</text><text transform="translate(311.2 1709.6) rotate(-44.2)">GSM1340960_Treat</text><text transform="translate(326.7 1709.6) rotate(-44.2)">GSM1340961_Treat</text><text transform="translate(342.2 1709.6) rotate(-44.2)">GSM1340962_Treat</text><text transform="translate(357.8 1709.6) rotate(-44.2)">GSM1340963_Treat</text><text transform="translate(373.3 1709.6) rotate(-44.2)">GSM1340964_Treat</text><text transform="translate(388.8 1709.6) rotate(-44.2)">GSM1340965_Treat</text><text transform="translate(404.4 1709.6) rotate(-44.2)">GSM1340966_Treat</text><text transform="translate(419.9 1709.6) rotate(-44.2)">GSM1340967_Treat</text><text transform="translate(435.4 1709.6) rotate(-44.2)">GSM1340968_Treat</text><text transform="translate(451 1709.6) rotate(-44.2)">GSM1340969_Treat</text><text transform="translate(466.5 1709.6) rotate(-44.2)">GSM1340970_Treat</text><text transform="translate(482 1709.6) rotate(-44.2)">GSM1340971_Treat</text><text transform="translate(497.6 1709.6) rotate(-44.2)">GSM1340972_Treat</text><text transform="translate(513.1 1709.6) rotate(-44.2)">GSM1340973_Treat</text><text transform="translate(528.6 1709.6) rotate(-44.2)">GSM1340974_Treat</text><text transform="translate(544.1 1709.6) rotate(-44.2)">GSM1340975_Treat</text><text transform="translate(559.7 1709.6) rotate(-44.2)">GSM1340976_Treat</text><text transform="translate(575.2 1709.6) rotate(-44.2)">GSM1340977_Treat</text><text transform="translate(590.7 1709.6) rotate(-44.2)">GSM1340978_Treat</text><text transform="translate(606.3 1709.6) rotate(-44.2)">GSM1340979_Treat</text><text transform="translate(621.8 1709.6) rotate(-44.2)">GSM1340980_Treat</text><text transform="translate(637.3 1709.6) rotate(-44.2)">GSM1340981_Treat</text><text transform="translate(652.9 1709.6) rotate(-44.2)">GSM1340982_Treat</text><text transform="translate(668.4 1709.6) rotate(-44.2)">GSM1340983_Treat</text><text transform="translate(683.9 1709.6) rotate(-44.2)">GSM1340984_Treat</text><text transform="translate(699.4 1709.6) rotate(-44.2)">GSM1340985_Treat</text><text transform="translate(715 1709.6) rotate(-44.2)">GSM1340986_Treat</text><text transform="translate(730.5 1709.6) rotate(-44.2)">GSM1340987_Treat</text><text transform="translate(746 1709.6) rotate(-44.2)">GSM1340988_Treat</text><text transform="translate(761.6 1709.6) rotate(-44.2)">GSM1340989_Treat</text><text transform="translate(777.1 1709.6) rotate(-44.2)">GSM1340990_Treat</text><text transform="translate(792.6 1709.6) rotate(-44.2)">GSM1340991_Treat</text><text transform="translate(808.2 1709.6) rotate(-44.2)">GSM1340992_Treat</text><text transform="translate(823.7 1709.6) rotate(-44.2)">GSM1340993_Treat</text><text transform="translate(839.2 1709.6) rotate(-44.2)">GSM1340994_Treat</text><text transform="translate(854.7 1709.6) rotate(-44.2)">GSM1340995_Treat</text><text transform="translate(870.3 1709.6) rotate(-44.2)">GSM1340996_Treat</text><text transform="translate(885.8 1709.6) rotate(-44.2)">GSM1340997_Treat</text><text transform="translate(901.3 1709.6) rotate(-44.2)">GSM1340998_Treat</text></g></g>
<g id="pd"><path fill="none" stroke="#B2B2B2" stroke-width="1.2" stroke-opacity="0.85" d="M1000.6 1493.4Q1096.3 1376.4 1145.2 1233.4M1000.6 1493.4Q1108.1 1393.5 1174.1 1262.3M1000.6 1493.4Q1131.9 1427.6 1231.9 1320.1M1000.6 1493.4Q1155.6 1461.7 1289.8 1377.9M1000.6 1493.4Q1203 1457 1405.5 1493.5M1000.6 1493.4Q1220.1 1468.9 1434.4 1522.4M1000.6 1493.4Q1271.3 1504.4 1521.1 1609.1M1000.6 1493.4Q1356.6 1563.6 1665.7 1753.6M1000.6 1493.4Q1373.6 1575.5 1694.7 1782.5M1159.8 1681Q1287.6 1592.3 1376.5 1464.6M1159.8 1681Q1299.9 1588.8 1463.3 1551.3M1159.8 1681Q1351.1 1624.4 1550.1 1638M1159.8 1681Q1385.2 1648.1 1607.9 1695.8"/>
<path fill="none" stroke="#B2B2B2" stroke-width="1.2" stroke-dasharray="2.5 2.2" stroke-opacity="0.85" d="M1000.6 1493.4Q1191.2 1512.8 1376.5 1464.6M1000.6 1493.4Q1237.2 1480.7 1463.3 1551.3M1000.6 1493.4Q1288.3 1516.2 1550.1 1638M1000.6 1493.4Q1322.5 1539.9 1607.9 1695.8M1159.8 1681Q1192.8 1455.9 1145.2 1233.4M1159.8 1681Q1204.6 1472.9 1174.1 1262.3M1159.8 1681Q1228.4 1507 1231.9 1320.1M1159.8 1681Q1252.1 1541.1 1289.8 1377.9M1159.8 1681Q1265.8 1565.1 1405.5 1493.5M1159.8 1681Q1282.8 1577 1434.4 1522.4M1159.8 1681Q1334 1612.5 1521.1 1609.1M1159.8 1681Q1419.3 1671.8 1665.7 1753.6M1159.8 1681Q1436.4 1683.6 1694.7 1782.5"/>
<path fill="none" stroke="#B2B2B2" stroke-width="2.75" stroke-dasharray="5.6 5" stroke-opacity="0.85" d="M1000.6 1493.4Q1048.9 1308.2 1029.5 1117.8M1000.6 1493.4Q1254.2 1492.6 1492.2 1580.2M1159.8 1681Q1216.5 1490 1203 1291.2M1159.8 1681Q1368.1 1636.2 1579 1666.9M1159.8 1681Q1402.2 1659.9 1636.8 1724.7"/>
<path fill="none" stroke="#B2B2B2" stroke-width="2.75" stroke-opacity="0.85" d="M1000.6 1493.4Q1120 1410.5 1203 1291.2M1000.6 1493.4Q1305.4 1528.1 1579 1666.9M1000.6 1493.4Q1339.5 1551.8 1636.8 1724.7M1159.8 1681Q1145.3 1387.7 1029.5 1117.8M1159.8 1681Q1316.9 1600.7 1492.2 1580.2"/>
<path fill="none" stroke="#1B9E77" stroke-width="2.75" d="M1000.6 1493.4Q1143.7 1444.6 1260.9 1349M1000.6 1493.4Q1390.7 1587.3 1723.6 1811.4M1159.8 1681Q1263.9 1558.2 1318.7 1406.8M1159.8 1681Q1275.8 1575.3 1347.6 1435.7"/>
<path fill="none" stroke="#1B9E77" stroke-width="2.75" stroke-dasharray="5.6 5" d="M1000.6 1493.4Q1167.4 1478.7 1318.7 1406.8M1000.6 1493.4Q1179.3 1495.8 1347.6 1435.7M1159.8 1681Q1240.2 1524.1 1260.9 1349M1159.8 1681Q1453.4 1695.5 1723.6 1811.4"/>
<path fill="none" stroke="#D95F02" stroke-width="2.75" stroke-dasharray="5.6 5" d="M1000.6 1493.4Q1060.7 1325.3 1058.4 1146.7M1000.6 1493.4Q1072.6 1342.3 1087.3 1175.6M1000.6 1493.4Q1084.4 1359.4 1116.3 1204.5"/>
<path fill="none" stroke="#D95F02" stroke-width="2.75" d="M1159.8 1681Q1157.2 1404.7 1058.4 1146.7M1159.8 1681Q1169.1 1421.8 1087.3 1175.6M1159.8 1681Q1180.9 1438.8 1116.3 1204.5"/>
<path d="M1044 1103.3h28.9v28.9h-28.9zM1072.9 1103.3h28.9v28.9h-28.9zM1101.8 1103.3h28.9v28.9h-28.9zM1130.7 1103.3h28.9v28.9h-28.9zM1159.6 1103.3h28.9v28.9h-28.9zM1188.6 1103.3h28.9v28.9h-28.9zM1217.5 1103.3h28.9v28.9h-28.9zM1246.4 1103.3h28.9v28.9h-28.9zM1275.3 1103.3h28.9v28.9h-28.9zM1304.2 1103.3h28.9v28.9h-28.9zM1333.2 1103.3h28.9v28.9h-28.9zM1362.1 1103.3h28.9v28.9h-28.9zM1391 1103.3h28.9v28.9h-28.9zM1419.9 1103.3h28.9v28.9h-28.9zM1448.8 1103.3h28.9v28.9h-28.9zM1477.8 1103.3h28.9v28.9h-28.9zM1506.7 1103.3h28.9v28.9h-28.9zM1535.6 1103.3h28.9v28.9h-28.9zM1564.5 1103.3h28.9v28.9h-28.9zM1593.4 1103.3h28.9v28.9h-28.9zM1622.4 1103.3h28.9v28.9h-28.9zM1651.3 1103.3h28.9v28.9h-28.9zM1680.2 1103.3h28.9v28.9h-28.9zM1709.1 1103.3h28.9v28.9h-28.9zM1072.9 1132.2h28.9v28.9h-28.9zM1101.8 1132.2h28.9v28.9h-28.9zM1130.7 1132.2h28.9v28.9h-28.9zM1159.6 1132.2h28.9v28.9h-28.9zM1188.6 1132.2h28.9v28.9h-28.9zM1217.5 1132.2h28.9v28.9h-28.9zM1246.4 1132.2h28.9v28.9h-28.9zM1275.3 1132.2h28.9v28.9h-28.9zM1304.2 1132.2h28.9v28.9h-28.9zM1333.2 1132.2h28.9v28.9h-28.9zM1362.1 1132.2h28.9v28.9h-28.9zM1391 1132.2h28.9v28.9h-28.9zM1419.9 1132.2h28.9v28.9h-28.9zM1448.8 1132.2h28.9v28.9h-28.9zM1477.8 1132.2h28.9v28.9h-28.9zM1506.7 1132.2h28.9v28.9h-28.9zM1535.6 1132.2h28.9v28.9h-28.9zM1564.5 1132.2h28.9v28.9h-28.9zM1593.4 1132.2h28.9v28.9h-28.9zM1622.4 1132.2h28.9v28.9h-28.9zM1651.3 1132.2h28.9v28.9h-28.9zM1680.2 1132.2h28.9v28.9h-28.9zM1709.1 1132.2h28.9v28.9h-28.9zM1101.8 1161.1h28.9v28.9h-28.9zM1130.7 1161.1h28.9v28.9h-28.9zM1159.6 1161.1h28.9v28.9h-28.9zM1188.6 1161.1h28.9v28.9h-28.9zM1217.5 1161.1h28.9v28.9h-28.9zM1246.4 1161.1h28.9v28.9h-28.9zM1275.3 1161.1h28.9v28.9h-28.9zM1304.2 1161.1h28.9v28.9h-28.9zM1333.2 1161.1h28.9v28.9h-28.9zM1362.1 1161.1h28.9v28.9h-28.9zM1391 1161.1h28.9v28.9h-28.9zM1419.9 1161.1h28.9v28.9h-28.9zM1448.8 1161.1h28.9v28.9h-28.9zM1477.8 1161.1h28.9v28.9h-28.9zM1506.7 1161.1h28.9v28.9h-28.9zM1535.6 1161.1h28.9v28.9h-28.9zM1564.5 1161.1h28.9v28.9h-28.9zM1593.4 1161.1h28.9v28.9h-28.9zM1622.4 1161.1h28.9v28.9h-28.9zM1651.3 1161.1h28.9v28.9h-28.9zM1680.2 1161.1h28.9v28.9h-28.9zM1709.1 1161.1h28.9v28.9h-28.9zM1130.7 1190h28.9v28.9h-28.9zM1159.6 1190h28.9v28.9h-28.9zM1188.6 1190h28.9v28.9h-28.9zM1217.5 1190h28.9v28.9h-28.9zM1246.4 1190h28.9v28.9h-28.9zM1275.3 1190h28.9v28.9h-28.9zM1304.2 1190h28.9v28.9h-28.9zM1333.2 1190h28.9v28.9h-28.9zM1362.1 1190h28.9v28.9h-28.9zM1391 1190h28.9v28.9h-28.9zM1419.9 1190h28.9v28.9h-28.9zM1448.8 1190h28.9v28.9h-28.9zM1477.8 1190h28.9v28.9h-28.9zM1506.7 1190h28.9v28.9h-28.9zM1535.6 1190h28.9v28.9h-28.9zM1564.5 1190h28.9v28.9h-28.9zM1593.4 1190h28.9v28.9h-28.9zM1622.4 1190h28.9v28.9h-28.9zM1651.3 1190h28.9v28.9h-28.9zM1680.2 1190h28.9v28.9h-28.9zM1709.1 1190h28.9v28.9h-28.9zM1159.6 1218.9h28.9v28.9h-28.9zM1188.6 1218.9h28.9v28.9h-28.9zM1217.5 1218.9h28.9v28.9h-28.9zM1246.4 1218.9h28.9v28.9h-28.9zM1275.3 1218.9h28.9v28.9h-28.9zM1304.2 1218.9h28.9v28.9h-28.9zM1333.2 1218.9h28.9v28.9h-28.9zM1362.1 1218.9h28.9v28.9h-28.9zM1391 1218.9h28.9v28.9h-28.9zM1419.9 1218.9h28.9v28.9h-28.9zM1448.8 1218.9h28.9v28.9h-28.9zM1477.8 1218.9h28.9v28.9h-28.9zM1506.7 1218.9h28.9v28.9h-28.9zM1535.6 1218.9h28.9v28.9h-28.9zM1564.5 1218.9h28.9v28.9h-28.9zM1593.4 1218.9h28.9v28.9h-28.9zM1622.4 1218.9h28.9v28.9h-28.9zM1651.3 1218.9h28.9v28.9h-28.9zM1680.2 1218.9h28.9v28.9h-28.9zM1709.1 1218.9h28.9v28.9h-28.9zM1188.6 1247.8h28.9v28.9h-28.9zM1217.5 1247.8h28.9v28.9h-28.9zM1246.4 1247.8h28.9v28.9h-28.9zM1275.3 1247.8h28.9v28.9h-28.9zM1304.2 1247.8h28.9v28.9h-28.9zM1333.2 1247.8h28.9v28.9h-28.9zM1362.1 1247.8h28.9v28.9h-28.9zM1391 1247.8h28.9v28.9h-28.9zM1419.9 1247.8h28.9v28.9h-28.9zM1448.8 1247.8h28.9v28.9h-28.9zM1477.8 1247.8h28.9v28.9h-28.9zM1506.7 1247.8h28.9v28.9h-28.9zM1535.6 1247.8h28.9v28.9h-28.9zM1564.5 1247.8h28.9v28.9h-28.9zM1593.4 1247.8h28.9v28.9h-28.9zM1622.4 1247.8h28.9v28.9h-28.9zM1651.3 1247.8h28.9v28.9h-28.9zM1680.2 1247.8h28.9v28.9h-28.9zM1709.1 1247.8h28.9v28.9h-28.9zM1217.5 1276.7h28.9v28.9h-28.9zM1246.4 1276.7h28.9v28.9h-28.9zM1275.3 1276.7h28.9v28.9h-28.9zM1304.2 1276.7h28.9v28.9h-28.9zM1333.2 1276.7h28.9v28.9h-28.9zM1362.1 1276.7h28.9v28.9h-28.9zM1391 1276.7h28.9v28.9h-28.9zM1419.9 1276.7h28.9v28.9h-28.9zM1448.8 1276.7h28.9v28.9h-28.9zM1477.8 1276.7h28.9v28.9h-28.9zM1506.7 1276.7h28.9v28.9h-28.9zM1535.6 1276.7h28.9v28.9h-28.9zM1564.5 1276.7h28.9v28.9h-28.9zM1593.4 1276.7h28.9v28.9h-28.9zM1622.4 1276.7h28.9v28.9h-28.9zM1651.3 1276.7h28.9v28.9h-28.9zM1680.2 1276.7h28.9v28.9h-28.9zM1709.1 1276.7h28.9v28.9h-28.9zM1246.4 1305.6h28.9v28.9h-28.9zM1275.3 1305.6h28.9v28.9h-28.9zM1304.2 1305.6h28.9v28.9h-28.9zM1333.2 1305.6h28.9v28.9h-28.9zM1362.1 1305.6h28.9v28.9h-28.9zM1391 1305.6h28.9v28.9h-28.9zM1419.9 1305.6h28.9v28.9h-28.9zM1448.8 1305.6h28.9v28.9h-28.9zM1477.8 1305.6h28.9v28.9h-28.9zM1506.7 1305.6h28.9v28.9h-28.9zM1535.6 1305.6h28.9v28.9h-28.9zM1564.5 1305.6h28.9v28.9h-28.9zM1593.4 1305.6h28.9v28.9h-28.9zM1622.4 1305.6h28.9v28.9h-28.9zM1651.3 1305.6h28.9v28.9h-28.9zM1680.2 1305.6h28.9v28.9h-28.9zM1709.1 1305.6h28.9v28.9h-28.9zM1275.3 1334.5h28.9v28.9h-28.9zM1304.2 1334.5h28.9v28.9h-28.9zM1333.2 1334.5h28.9v28.9h-28.9zM1362.1 1334.5h28.9v28.9h-28.9zM1391 1334.5h28.9v28.9h-28.9zM1419.9 1334.5h28.9v28.9h-28.9zM1448.8 1334.5h28.9v28.9h-28.9zM1477.8 1334.5h28.9v28.9h-28.9zM1506.7 1334.5h28.9v28.9h-28.9zM1535.6 1334.5h28.9v28.9h-28.9zM1564.5 1334.5h28.9v28.9h-28.9zM1593.4 1334.5h28.9v28.9h-28.9zM1622.4 1334.5h28.9v28.9h-28.9zM1651.3 1334.5h28.9v28.9h-28.9zM1680.2 1334.5h28.9v28.9h-28.9zM1709.1 1334.5h28.9v28.9h-28.9zM1304.2 1363.4h28.9v28.9h-28.9zM1333.2 1363.4h28.9v28.9h-28.9zM1362.1 1363.4h28.9v28.9h-28.9zM1391 1363.4h28.9v28.9h-28.9zM1419.9 1363.4h28.9v28.9h-28.9zM1448.8 1363.4h28.9v28.9h-28.9zM1477.8 1363.4h28.9v28.9h-28.9zM1506.7 1363.4h28.9v28.9h-28.9zM1535.6 1363.4h28.9v28.9h-28.9zM1564.5 1363.4h28.9v28.9h-28.9zM1593.4 1363.4h28.9v28.9h-28.9zM1622.4 1363.4h28.9v28.9h-28.9zM1651.3 1363.4h28.9v28.9h-28.9zM1680.2 1363.4h28.9v28.9h-28.9zM1709.1 1363.4h28.9v28.9h-28.9zM1333.2 1392.3h28.9v28.9h-28.9zM1362.1 1392.3h28.9v28.9h-28.9zM1391 1392.3h28.9v28.9h-28.9zM1419.9 1392.3h28.9v28.9h-28.9zM1448.8 1392.3h28.9v28.9h-28.9zM1477.8 1392.3h28.9v28.9h-28.9zM1506.7 1392.3h28.9v28.9h-28.9zM1535.6 1392.3h28.9v28.9h-28.9zM1564.5 1392.3h28.9v28.9h-28.9zM1593.4 1392.3h28.9v28.9h-28.9zM1622.4 1392.3h28.9v28.9h-28.9zM1651.3 1392.3h28.9v28.9h-28.9zM1680.2 1392.3h28.9v28.9h-28.9zM1709.1 1392.3h28.9v28.9h-28.9zM1362.1 1421.2h28.9v28.9h-28.9zM1391 1421.2h28.9v28.9h-28.9zM1419.9 1421.2h28.9v28.9h-28.9zM1448.8 1421.2h28.9v28.9h-28.9zM1477.8 1421.2h28.9v28.9h-28.9zM1506.7 1421.2h28.9v28.9h-28.9zM1535.6 1421.2h28.9v28.9h-28.9zM1564.5 1421.2h28.9v28.9h-28.9zM1593.4 1421.2h28.9v28.9h-28.9zM1622.4 1421.2h28.9v28.9h-28.9zM1651.3 1421.2h28.9v28.9h-28.9zM1680.2 1421.2h28.9v28.9h-28.9zM1709.1 1421.2h28.9v28.9h-28.9zM1391 1450.1h28.9v28.9h-28.9zM1419.9 1450.1h28.9v28.9h-28.9zM1448.8 1450.1h28.9v28.9h-28.9zM1477.8 1450.1h28.9v28.9h-28.9zM1506.7 1450.1h28.9v28.9h-28.9zM1535.6 1450.1h28.9v28.9h-28.9zM1564.5 1450.1h28.9v28.9h-28.9zM1593.4 1450.1h28.9v28.9h-28.9zM1622.4 1450.1h28.9v28.9h-28.9zM1651.3 1450.1h28.9v28.9h-28.9zM1680.2 1450.1h28.9v28.9h-28.9zM1709.1 1450.1h28.9v28.9h-28.9zM1419.9 1479h28.9v28.9h-28.9zM1448.8 1479h28.9v28.9h-28.9zM1477.8 1479h28.9v28.9h-28.9zM1506.7 1479h28.9v28.9h-28.9zM1535.6 1479h28.9v28.9h-28.9zM1564.5 1479h28.9v28.9h-28.9zM1593.4 1479h28.9v28.9h-28.9zM1622.4 1479h28.9v28.9h-28.9zM1651.3 1479h28.9v28.9h-28.9zM1680.2 1479h28.9v28.9h-28.9zM1709.1 1479h28.9v28.9h-28.9zM1448.8 1507.9h28.9v28.9h-28.9zM1477.8 1507.9h28.9v28.9h-28.9zM1506.7 1507.9h28.9v28.9h-28.9zM1535.6 1507.9h28.9v28.9h-28.9zM1564.5 1507.9h28.9v28.9h-28.9zM1593.4 1507.9h28.9v28.9h-28.9zM1622.4 1507.9h28.9v28.9h-28.9zM1651.3 1507.9h28.9v28.9h-28.9zM1680.2 1507.9h28.9v28.9h-28.9zM1709.1 1507.9h28.9v28.9h-28.9zM1477.8 1536.8h28.9v28.9h-28.9zM1506.7 1536.8h28.9v28.9h-28.9zM1535.6 1536.8h28.9v28.9h-28.9zM1564.5 1536.8h28.9v28.9h-28.9zM1593.4 1536.8h28.9v28.9h-28.9zM1622.4 1536.8h28.9v28.9h-28.9zM1651.3 1536.8h28.9v28.9h-28.9zM1680.2 1536.8h28.9v28.9h-28.9zM1709.1 1536.8h28.9v28.9h-28.9zM1506.7 1565.7h28.9v28.9h-28.9zM1535.6 1565.7h28.9v28.9h-28.9zM1564.5 1565.7h28.9v28.9h-28.9zM1593.4 1565.7h28.9v28.9h-28.9zM1622.4 1565.7h28.9v28.9h-28.9zM1651.3 1565.7h28.9v28.9h-28.9zM1680.2 1565.7h28.9v28.9h-28.9zM1709.1 1565.7h28.9v28.9h-28.9zM1535.6 1594.6h28.9v28.9h-28.9zM1564.5 1594.6h28.9v28.9h-28.9zM1593.4 1594.6h28.9v28.9h-28.9zM1622.4 1594.6h28.9v28.9h-28.9zM1651.3 1594.6h28.9v28.9h-28.9zM1680.2 1594.6h28.9v28.9h-28.9zM1709.1 1594.6h28.9v28.9h-28.9zM1564.5 1623.5h28.9v28.9h-28.9zM1593.4 1623.5h28.9v28.9h-28.9zM1622.4 1623.5h28.9v28.9h-28.9zM1651.3 1623.5h28.9v28.9h-28.9zM1680.2 1623.5h28.9v28.9h-28.9zM1709.1 1623.5h28.9v28.9h-28.9zM1593.4 1652.5h28.9v28.9h-28.9zM1622.4 1652.5h28.9v28.9h-28.9zM1651.3 1652.5h28.9v28.9h-28.9zM1680.2 1652.5h28.9v28.9h-28.9zM1709.1 1652.5h28.9v28.9h-28.9zM1622.4 1681.3h28.9v28.9h-28.9zM1651.3 1681.3h28.9v28.9h-28.9zM1680.2 1681.3h28.9v28.9h-28.9zM1709.1 1681.3h28.9v28.9h-28.9zM1651.3 1710.2h28.9v28.9h-28.9zM1680.2 1710.2h28.9v28.9h-28.9zM1709.1 1710.2h28.9v28.9h-28.9zM1680.2 1739.1h28.9v28.9h-28.9zM1709.1 1739.1h28.9v28.9h-28.9zM1709.1 1768h28.9v28.9h-28.9z" fill="#fff" stroke="#777" stroke-width="1.2"/>
<g stroke="#414141" stroke-width="1.2"><rect x="1049" y="1108.4" width="18.9" height="18.9" fill="#408fc1"/><rect x="1075.5" y="1105.9" width="23.8" height="23.8" fill="#173b6e"/><rect x="1108" y="1109.5" width="16.5" height="16.5" fill="#71b0d3"/><rect x="1139.4" y="1112" width="11.6" height="11.6" fill="#c1ddeb"/><rect x="1170.5" y="1114.2" width="7.3" height="7.3" fill="#fae8de"/><rect x="1196.7" y="1111.5" width="12.6" height="12.6" fill="#f9c6ac"/><rect x="1222.5" y="1108.4" width="18.9" height="18.9" fill="#d86450"/><rect x="1249.3" y="1106.2" width="23.2" height="23.2" fill="#970f27"/><rect x="1280.6" y="1108.6" width="18.4" height="18.4" fill="#dc6d57"/><rect x="1312.3" y="1111.4" width="12.8" height="12.8" fill="#f9c4aa"/><rect x="1344.7" y="1114.9" width="5.8" height="5.8" fill="#e9f0f4"/><rect x="1370" y="1111.3" width="13.1" height="13.1" fill="#aed3e6"/><rect x="1404.9" y="1117.2" width="1.2" height="1.2" fill="#4d4d4d"/><rect x="1430" y="1113.4" width="8.7" height="8.7" fill="#fbe3d5"/><rect x="1452.4" y="1106.9" width="21.7" height="21.7" fill="#2063a8"/><rect x="1489" y="1114.6" width="6.4" height="6.4" fill="#faebe3"/><rect x="1515.3" y="1112" width="11.6" height="11.6" fill="#fbd0ba"/><rect x="1539.6" y="1107.4" width="20.9" height="20.9" fill="#c2373a"/><rect x="1575.5" y="1114.3" width="7" height="7" fill="#e4eef3"/><rect x="1605" y="1114.9" width="5.8" height="5.8" fill="#e9f0f4"/><rect x="1625.8" y="1106.8" width="22" height="22" fill="#b41c2d"/><rect x="1653.9" y="1105.9" width="23.8" height="23.8" fill="#880a24"/><rect x="1682.8" y="1105.9" width="23.8" height="23.8" fill="#880a24"/><rect x="1718.2" y="1112.4" width="10.8" height="10.8" fill="#cbe2ee"/><rect x="1075.5" y="1134.8" width="23.8" height="23.8" fill="#173b6e"/><rect x="1106.3" y="1136.7" width="20" height="20" fill="#337eb8"/><rect x="1144.6" y="1146.1" width="1.2" height="1.2" fill="#4d4d4d"/><rect x="1169.3" y="1141.9" width="9.6" height="9.6" fill="#d5e7f1"/><rect x="1201.4" y="1145.1" width="3.2" height="3.2" fill="#f8f3f0"/><rect x="1225.4" y="1140.2" width="13.1" height="13.1" fill="#aed3e6"/><rect x="1251.4" y="1137.3" width="18.9" height="18.9" fill="#d86450"/><rect x="1283.7" y="1140.6" width="12.2" height="12.2" fill="#facab2"/><rect x="1309.6" y="1137.6" width="18.3" height="18.3" fill="#4a97c5"/><rect x="1337.8" y="1136.8" width="19.7" height="19.7" fill="#3783bb"/><rect x="1364.7" y="1134.8" width="23.8" height="23.8" fill="#173b6e"/><rect x="1396.2" y="1137.5" width="18.4" height="18.4" fill="#4695c4"/><rect x="1424.7" y="1137" width="19.4" height="19.4" fill="#d25849"/><rect x="1457.2" y="1140.6" width="12.2" height="12.2" fill="#facab2"/><rect x="1485.4" y="1139.9" width="13.6" height="13.6" fill="#a6cfe4"/><rect x="1518.5" y="1144.1" width="5.3" height="5.3" fill="#f9efe9"/><rect x="1543.8" y="1140.5" width="12.5" height="12.5" fill="#b6d7e8"/><rect x="1566.9" y="1134.7" width="24.1" height="24.1" fill="#800823"/><rect x="1599.6" y="1138.4" width="16.5" height="16.5" fill="#eb9172"/><rect x="1625.1" y="1135" width="23.5" height="23.5" fill="#900d25"/><rect x="1655.6" y="1136.5" width="20.3" height="20.3" fill="#c84540"/><rect x="1684.7" y="1136.8" width="19.9" height="19.9" fill="#cd4e45"/><rect x="1719.2" y="1142.3" width="8.7" height="8.7" fill="#fbe3d5"/><rect x="1106" y="1165.3" width="20.6" height="20.6" fill="#2d76b4"/><rect x="1138.6" y="1169.1" width="13.1" height="13.1" fill="#aed3e6"/><rect x="1171" y="1172.5" width="6.1" height="6.1" fill="#e8f0f4"/><rect x="1195.8" y="1168.3" width="14.5" height="14.5" fill="#f6b090"/><rect x="1225.3" y="1168.9" width="13.4" height="13.4" fill="#f8bea2"/><rect x="1249.3" y="1164" width="23.2" height="23.2" fill="#970f27"/><rect x="1279.6" y="1165.4" width="20.3" height="20.3" fill="#c84540"/><rect x="1317.8" y="1174.7" width="1.8" height="1.8" fill="#4d4d4d"/><rect x="1341.5" y="1169.5" width="12.2" height="12.2" fill="#b9d9e9"/><rect x="1369" y="1168.1" width="15.1" height="15.1" fill="#8fc3dd"/><rect x="1398.9" y="1169.1" width="13.1" height="13.1" fill="#aed3e6"/><rect x="1425" y="1166.2" width="18.9" height="18.9" fill="#d86450"/><rect x="1455.8" y="1168.1" width="15.1" height="15.1" fill="#8fc3dd"/><rect x="1482.8" y="1166.2" width="18.9" height="18.9" fill="#408fc1"/><rect x="1516.9" y="1171.4" width="8.4" height="8.4" fill="#fbe4d7"/><rect x="1545.7" y="1171.2" width="8.7" height="8.7" fill="#fbe3d5"/><rect x="1571.4" y="1168.1" width="15.1" height="15.1" fill="#f5a886"/><rect x="1604" y="1171.7" width="7.9" height="7.9" fill="#fbe6db"/><rect x="1625.7" y="1164.4" width="22.3" height="22.3" fill="#ae172a"/><rect x="1656" y="1165.9" width="19.4" height="19.4" fill="#d25849"/><rect x="1684.7" y="1165.7" width="19.9" height="19.9" fill="#cd4e45"/><rect x="1715.3" y="1167.3" width="16.5" height="16.5" fill="#eb9172"/><rect x="1134.5" y="1193.8" width="21.5" height="21.5" fill="#2368ad"/><rect x="1167.9" y="1198.3" width="12.5" height="12.5" fill="#fac7ae"/><rect x="1193" y="1194.5" width="20" height="20" fill="#cc4b43"/><rect x="1229.3" y="1201.9" width="5.3" height="5.3" fill="#ebf1f5"/><rect x="1253.6" y="1197.2" width="14.5" height="14.5" fill="#f6b090"/><rect x="1280.6" y="1195.3" width="18.4" height="18.4" fill="#dc6d57"/><rect x="1313.8" y="1199.6" width="9.7" height="9.7" fill="#d4e7f1"/><rect x="1337" y="1193.8" width="21.3" height="21.3" fill="#246aae"/><rect x="1368.4" y="1196.4" width="16.3" height="16.3" fill="#77b4d5"/><rect x="1396.7" y="1195.7" width="17.6" height="17.6" fill="#5ba2cb"/><rect x="1423.7" y="1193.8" width="21.5" height="21.5" fill="#bb2a33"/><rect x="1461.1" y="1202.3" width="4.4" height="4.4" fill="#eef3f5"/><rect x="1488.7" y="1201" width="7" height="7" fill="#e4eef3"/><rect x="1515.6" y="1199" width="11" height="11" fill="#fcd6c1"/><rect x="1545.3" y="1199.7" width="9.6" height="9.6" fill="#fcdfce"/><rect x="1572.9" y="1198.4" width="12.2" height="12.2" fill="#facab2"/><rect x="1602.4" y="1199" width="11" height="11" fill="#c8e0ed"/><rect x="1629" y="1196.7" width="15.7" height="15.7" fill="#f2a07e"/><rect x="1658.8" y="1197.5" width="13.9" height="13.9" fill="#f7b799"/><rect x="1687.3" y="1197.1" width="14.8" height="14.8" fill="#f5ac8b"/><rect x="1720.4" y="1201.3" width="6.4" height="6.4" fill="#e6eff4"/><rect x="1172.1" y="1231.4" width="4" height="4" fill="#eff3f6"/><rect x="1195.5" y="1225.9" width="15.1" height="15.1" fill="#f5a886"/><rect x="1231.3" y="1232.8" width="1.2" height="1.2" fill="#4d4d4d"/><rect x="1256.9" y="1229.5" width="7.9" height="7.9" fill="#dfecf3"/><rect x="1281.8" y="1225.4" width="16" height="16" fill="#f09b7a"/><rect x="1310.2" y="1224.9" width="17" height="17" fill="#e8896c"/><rect x="1345.3" y="1231.1" width="4.7" height="4.7" fill="#edf2f5"/><rect x="1372.6" y="1229.5" width="7.9" height="7.9" fill="#dfecf3"/><rect x="1394.6" y="1222.5" width="21.7" height="21.7" fill="#2063a8"/><rect x="1424.7" y="1223.7" width="19.4" height="19.4" fill="#d25849"/><rect x="1457.1" y="1227.2" width="12.5" height="12.5" fill="#b6d7e8"/><rect x="1486.1" y="1227.3" width="12.2" height="12.2" fill="#facab2"/><rect x="1512.7" y="1224.9" width="17" height="17" fill="#e8896c"/><rect x="1541.1" y="1224.4" width="18" height="18" fill="#df755d"/><rect x="1572" y="1226.4" width="13.9" height="13.9" fill="#a1cde2"/><rect x="1602.5" y="1228" width="10.8" height="10.8" fill="#cbe2ee"/><rect x="1634.6" y="1231.2" width="4.4" height="4.4" fill="#eef3f5"/><rect x="1661.7" y="1229.3" width="8.2" height="8.2" fill="#fbe5d9"/><rect x="1688.3" y="1227" width="12.8" height="12.8" fill="#f9c4aa"/><rect x="1719.2" y="1229" width="8.7" height="8.7" fill="#dae9f2"/><rect x="1193.2" y="1252.4" width="19.7" height="19.7" fill="#3783bb"/><rect x="1226.3" y="1256.6" width="11.3" height="11.3" fill="#c4dfec"/><rect x="1256.5" y="1257.9" width="8.7" height="8.7" fill="#dae9f2"/><rect x="1287.4" y="1260" width="4.7" height="4.7" fill="#edf2f5"/><rect x="1315.6" y="1259.2" width="6.1" height="6.1" fill="#e8f0f4"/><rect x="1341.3" y="1256" width="12.6" height="12.6" fill="#f9c6ac"/><rect x="1370.7" y="1256.5" width="11.6" height="11.6" fill="#c1ddeb"/><rect x="1395.9" y="1252.7" width="19.1" height="19.1" fill="#3d8bbf"/><rect x="1427.6" y="1255.5" width="13.6" height="13.6" fill="#f8ba9d"/><rect x="1457.9" y="1256.9" width="10.8" height="10.8" fill="#fdd9c4"/><rect x="1488.1" y="1258.2" width="8.2" height="8.2" fill="#fbe5d9"/><rect x="1518.7" y="1259.8" width="5" height="5" fill="#f9efea"/><rect x="1546.9" y="1259.1" width="6.4" height="6.4" fill="#faebe3"/><rect x="1574" y="1257.4" width="9.9" height="9.9" fill="#fcdecc"/><rect x="1598.8" y="1253.2" width="18.3" height="18.3" fill="#dd7059"/><rect x="1631.9" y="1257.4" width="9.7" height="9.7" fill="#fcdfcd"/><rect x="1661.4" y="1257.9" width="8.7" height="8.7" fill="#fbe3d5"/><rect x="1691" y="1258.7" width="7.3" height="7.3" fill="#fae8de"/><rect x="1718.5" y="1257.2" width="10.2" height="10.2" fill="#d1e5f0"/><rect x="1224" y="1283.2" width="16" height="16" fill="#7db8d7"/><rect x="1252.4" y="1282.8" width="16.8" height="16.8" fill="#6bacd1"/><rect x="1280.4" y="1281.8" width="18.9" height="18.9" fill="#408fc1"/><rect x="1313.8" y="1286.3" width="9.7" height="9.7" fill="#d4e7f1"/><rect x="1340.2" y="1283.8" width="14.8" height="14.8" fill="#f5ac8b"/><rect x="1369.1" y="1283.8" width="14.8" height="14.8" fill="#94c6df"/><rect x="1404.9" y="1290.6" width="1.2" height="1.2" fill="#4d4d4d"/><rect x="1430.4" y="1287.3" width="7.9" height="7.9" fill="#dfecf3"/><rect x="1456.8" y="1284.7" width="13.1" height="13.1" fill="#f9c1a6"/><rect x="1484.8" y="1283.8" width="14.8" height="14.8" fill="#f5ac8b"/><rect x="1515.3" y="1285.4" width="11.6" height="11.6" fill="#fbd0ba"/><rect x="1548.8" y="1289.9" width="2.5" height="2.5" fill="#4d4d4d"/><rect x="1572" y="1284.2" width="13.9" height="13.9" fill="#f7b799"/><rect x="1596.6" y="1279.9" width="22.6" height="22.6" fill="#a71429"/><rect x="1634" y="1288.4" width="5.6" height="5.6" fill="#eaf1f5"/><rect x="1660.7" y="1286.1" width="10.2" height="10.2" fill="#fdddca"/><rect x="1690" y="1286.5" width="9.3" height="9.3" fill="#fce1d1"/><rect x="1718.5" y="1286.1" width="10.2" height="10.2" fill="#d1e5f0"/><rect x="1248.8" y="1308" width="24.2" height="24.2" fill="#143261"/><rect x="1278.6" y="1308.9" width="22.3" height="22.3" fill="#1e5898"/><rect x="1307.2" y="1308.6" width="22.9" height="22.9" fill="#1b4c88"/><rect x="1336.2" y="1308.6" width="22.9" height="22.9" fill="#1b4c88"/><rect x="1365.4" y="1308.9" width="22.3" height="22.3" fill="#1e5898"/><rect x="1394.4" y="1309.1" width="22" height="22" fill="#1f5ea0"/><rect x="1429.3" y="1315" width="10.2" height="10.2" fill="#fdddca"/><rect x="1456" y="1312.8" width="14.5" height="14.5" fill="#f6b090"/><rect x="1484.5" y="1312.3" width="15.5" height="15.5" fill="#f3a280"/><rect x="1512.9" y="1311.8" width="16.5" height="16.5" fill="#eb9172"/><rect x="1543.7" y="1313.8" width="12.6" height="12.6" fill="#b4d6e8"/><rect x="1567.1" y="1308.2" width="23.8" height="23.8" fill="#880a24"/><rect x="1597.6" y="1309.8" width="20.6" height="20.6" fill="#c53e3d"/><rect x="1630.4" y="1313.7" width="12.8" height="12.8" fill="#b2d5e7"/><rect x="1660.1" y="1314.5" width="11.2" height="11.2" fill="#fcd5bf"/><rect x="1692.7" y="1318.1" width="4" height="4" fill="#f8f2ee"/><rect x="1717.6" y="1314.1" width="11.9" height="11.9" fill="#fbceb6"/><rect x="1277.3" y="1336.5" width="24.9" height="24.9" fill="#14305f"/><rect x="1312" y="1342.3" width="13.4" height="13.4" fill="#aad1e5"/><rect x="1341.2" y="1342.6" width="12.8" height="12.8" fill="#b2d5e7"/><rect x="1370.9" y="1343.4" width="11.2" height="11.2" fill="#c6dfed"/><rect x="1398.5" y="1342" width="13.9" height="13.9" fill="#a1cde2"/><rect x="1427.7" y="1342.3" width="13.4" height="13.4" fill="#aad1e5"/><rect x="1459.7" y="1345.4" width="7.3" height="7.3" fill="#fae8de"/><rect x="1482.1" y="1338.8" width="20.3" height="20.3" fill="#c84540"/><rect x="1511.3" y="1339.1" width="19.7" height="19.7" fill="#cf5246"/><rect x="1545.8" y="1344.8" width="8.4" height="8.4" fill="#fbe4d7"/><rect x="1574.6" y="1344.6" width="8.7" height="8.7" fill="#fbe3d5"/><rect x="1600.4" y="1341.5" width="15.1" height="15.1" fill="#f5a886"/><rect x="1624.9" y="1337.1" width="23.8" height="23.8" fill="#173b6e"/><rect x="1661.1" y="1344.3" width="9.3" height="9.3" fill="#d7e8f1"/><rect x="1687.1" y="1341.5" width="15.1" height="15.1" fill="#8fc3dd"/><rect x="1721.4" y="1346.8" width="4.4" height="4.4" fill="#eef3f5"/><rect x="1309.6" y="1368.8" width="18.3" height="18.3" fill="#4a97c5"/><rect x="1341.2" y="1371.5" width="12.8" height="12.8" fill="#b2d5e7"/><rect x="1368.1" y="1369.4" width="17" height="17" fill="#68aad0"/><rect x="1404.7" y="1377.1" width="1.5" height="1.5" fill="#4d4d4d"/><rect x="1424.4" y="1368" width="19.9" height="19.9" fill="#3580b9"/><rect x="1459.4" y="1374" width="7.9" height="7.9" fill="#fbe6db"/><rect x="1483.2" y="1368.9" width="18" height="18" fill="#df755d"/><rect x="1513.2" y="1369.9" width="16" height="16" fill="#f09b7a"/><rect x="1549.2" y="1377" width="1.8" height="1.8" fill="#4d4d4d"/><rect x="1571" y="1369.9" width="16" height="16" fill="#f09b7a"/><rect x="1598.5" y="1368.5" width="18.9" height="18.9" fill="#d86450"/><rect x="1627.8" y="1368.9" width="18" height="18" fill="#519cc8"/><rect x="1659.8" y="1371.9" width="11.9" height="11.9" fill="#fbceb6"/><rect x="1690" y="1373.2" width="9.3" height="9.3" fill="#d7e8f1"/><rect x="1722.4" y="1376.7" width="2.4" height="2.4" fill="#4d4d4d"/><rect x="1335.7" y="1394.9" width="23.8" height="23.8" fill="#173b6e"/><rect x="1366.2" y="1396.5" width="20.6" height="20.6" fill="#2d76b4"/><rect x="1398.6" y="1400" width="13.6" height="13.6" fill="#a6cfe4"/><rect x="1429.7" y="1402.1" width="9.3" height="9.3" fill="#d7e8f1"/><rect x="1455.3" y="1398.8" width="16" height="16" fill="#f09b7a"/><rect x="1487.9" y="1402.4" width="8.7" height="8.7" fill="#fbe3d5"/><rect x="1518.5" y="1404.2" width="5.3" height="5.3" fill="#ebf1f5"/><rect x="1541.4" y="1398.1" width="17.4" height="17.4" fill="#5ea4cc"/><rect x="1566.9" y="1394.7" width="24.2" height="24.2" fill="#7c0722"/><rect x="1599.6" y="1398.5" width="16.5" height="16.5" fill="#eb9172"/><rect x="1631.4" y="1401.4" width="10.8" height="10.8" fill="#fdd9c4"/><rect x="1658.8" y="1399.8" width="13.9" height="13.9" fill="#f7b799"/><rect x="1691.9" y="1404" width="5.6" height="5.6" fill="#eaf1f5"/><rect x="1715.7" y="1399" width="15.7" height="15.7" fill="#f2a07e"/><rect x="1365.4" y="1424.5" width="22.3" height="22.3" fill="#1e5898"/><rect x="1395.5" y="1425.7" width="20" height="20" fill="#337eb8"/><rect x="1427.3" y="1428.6" width="14.2" height="14.2" fill="#f6b394"/><rect x="1457.3" y="1429.7" width="11.9" height="11.9" fill="#fbceb6"/><rect x="1487.7" y="1431.2" width="9" height="9" fill="#fce2d3"/><rect x="1515.3" y="1429.9" width="11.6" height="11.6" fill="#fbd0ba"/><rect x="1543.7" y="1429.4" width="12.6" height="12.6" fill="#b4d6e8"/><rect x="1567.3" y="1424" width="23.3" height="23.3" fill="#930e26"/><rect x="1602.4" y="1430.2" width="11" height="11" fill="#fcd6c1"/><rect x="1631.4" y="1430.3" width="10.8" height="10.8" fill="#fdd9c4"/><rect x="1657.9" y="1427.9" width="15.7" height="15.7" fill="#f2a07e"/><rect x="1688" y="1429" width="13.4" height="13.4" fill="#f8bea2"/><rect x="1718.9" y="1431" width="9.3" height="9.3" fill="#fce1d1"/><rect x="1394.6" y="1453.7" width="21.7" height="21.7" fill="#2063a8"/><rect x="1427.4" y="1457.6" width="13.9" height="13.9" fill="#f7b799"/><rect x="1457.5" y="1458.8" width="11.6" height="11.6" fill="#fbd0ba"/><rect x="1483.7" y="1456.1" width="17" height="17" fill="#e8896c"/><rect x="1512.7" y="1456.1" width="17" height="17" fill="#e8896c"/><rect x="1546.7" y="1461.2" width="6.7" height="6.7" fill="#e5eef4"/><rect x="1566.9" y="1452.5" width="24.2" height="24.2" fill="#7c0722"/><rect x="1597.6" y="1454.3" width="20.6" height="20.6" fill="#c53e3d"/><rect x="1628.5" y="1456.3" width="16.5" height="16.5" fill="#eb9172"/><rect x="1654.3" y="1453.1" width="22.9" height="22.9" fill="#9f1228"/><rect x="1684.8" y="1454.7" width="19.7" height="19.7" fill="#cf5246"/><rect x="1718" y="1459" width="11.2" height="11.2" fill="#c6dfed"/><rect x="1423.7" y="1482.8" width="21.5" height="21.5" fill="#bb2a33"/><rect x="1458.4" y="1488.6" width="9.9" height="9.9" fill="#fcdecc"/><rect x="1486" y="1487.3" width="12.5" height="12.5" fill="#fac7ae"/><rect x="1513.6" y="1486" width="15.1" height="15.1" fill="#f5a886"/><rect x="1546.9" y="1490.3" width="6.4" height="6.4" fill="#e6eff4"/><rect x="1569.1" y="1483.6" width="19.7" height="19.7" fill="#cf5246"/><rect x="1599.4" y="1485" width="17" height="17" fill="#e8896c"/><rect x="1630.7" y="1487.4" width="12.2" height="12.2" fill="#facab2"/><rect x="1658" y="1485.7" width="15.5" height="15.5" fill="#f3a280"/><rect x="1687.3" y="1486.1" width="14.8" height="14.8" fill="#f5ac8b"/><rect x="1723" y="1492.9" width="1.2" height="1.2" fill="#4d4d4d"/><rect x="1456.6" y="1515.7" width="13.4" height="13.4" fill="#aad1e5"/><rect x="1485.3" y="1515.4" width="13.9" height="13.9" fill="#f7b799"/><rect x="1518.4" y="1519.6" width="5.6" height="5.6" fill="#eaf1f5"/><rect x="1545.8" y="1518.2" width="8.4" height="8.4" fill="#fbe4d7"/><rect x="1572.4" y="1515.9" width="13.1" height="13.1" fill="#aed3e6"/><rect x="1602.8" y="1517.3" width="10.2" height="10.2" fill="#d1e5f0"/><rect x="1629.6" y="1515.1" width="14.5" height="14.5" fill="#99c8e0"/><rect x="1662.2" y="1518.9" width="7" height="7" fill="#fae9e0"/><rect x="1688.6" y="1516.3" width="12.2" height="12.2" fill="#b9d9e9"/><rect x="1719.4" y="1518.2" width="8.4" height="8.4" fill="#fbe4d7"/><rect x="1485.3" y="1544.3" width="13.9" height="13.9" fill="#f7b799"/><rect x="1510.3" y="1540.4" width="21.7" height="21.7" fill="#b72330"/><rect x="1538" y="1539.2" width="24.2" height="24.2" fill="#7c0722"/><rect x="1570.6" y="1542.9" width="16.8" height="16.8" fill="#6bacd1"/><rect x="1604.8" y="1548.2" width="6.1" height="6.1" fill="#e8f0f4"/><rect x="1630.4" y="1544.9" width="12.8" height="12.8" fill="#b2d5e7"/><rect x="1655.7" y="1541.3" width="20" height="20" fill="#cc4b43"/><rect x="1689.1" y="1545.8" width="11" height="11" fill="#fcd6c1"/><rect x="1720.4" y="1548.1" width="6.4" height="6.4" fill="#e6eff4"/><rect x="1510.7" y="1569.8" width="20.9" height="20.9" fill="#2971b2"/><rect x="1538.8" y="1568.9" width="22.6" height="22.6" fill="#1c5290"/><rect x="1574.8" y="1576" width="8.4" height="8.4" fill="#fbe4d7"/><rect x="1603.7" y="1576" width="8.4" height="8.4" fill="#dceaf2"/><rect x="1630.4" y="1573.8" width="12.8" height="12.8" fill="#f9c4aa"/><rect x="1655.6" y="1570" width="20.3" height="20.3" fill="#307ab6"/><rect x="1687.8" y="1573.4" width="13.6" height="13.6" fill="#a6cfe4"/><rect x="1712.9" y="1569.5" width="21.5" height="21.5" fill="#bb2a33"/><rect x="1538.4" y="1597.4" width="23.3" height="23.3" fill="#19447b"/><rect x="1575" y="1605.2" width="7.9" height="7.9" fill="#dfecf3"/><rect x="1600.8" y="1602" width="14.2" height="14.2" fill="#9dcbe1"/><rect x="1628.5" y="1600.8" width="16.5" height="16.5" fill="#eb9172"/><rect x="1655.2" y="1598.5" width="21.2" height="21.2" fill="#266daf"/><rect x="1688.3" y="1602.7" width="12.8" height="12.8" fill="#b2d5e7"/><rect x="1721.7" y="1607.2" width="3.8" height="3.8" fill="#f0f4f6"/><rect x="1569.6" y="1628.6" width="18.9" height="18.9" fill="#d86450"/><rect x="1604.7" y="1634.8" width="6.4" height="6.4" fill="#e6eff4"/><rect x="1631.7" y="1632.9" width="10.2" height="10.2" fill="#fdddca"/><rect x="1654.6" y="1626.8" width="22.3" height="22.3" fill="#1e5898"/><rect x="1686" y="1629.3" width="17.4" height="17.4" fill="#5ea4cc"/><rect x="1715.1" y="1629.5" width="17" height="17" fill="#e8896c"/><rect x="1597.3" y="1656.3" width="21.2" height="21.2" fill="#266daf"/><rect x="1628.8" y="1658.9" width="16" height="16" fill="#7db8d7"/><rect x="1657.8" y="1658.9" width="16" height="16" fill="#7db8d7"/><rect x="1689.3" y="1661.5" width="10.8" height="10.8" fill="#cbe2ee"/><rect x="1715.8" y="1659.1" width="15.5" height="15.5" fill="#86beda"/><rect x="1633.5" y="1692.4" width="6.7" height="6.7" fill="#e5eef4"/><rect x="1657.9" y="1688" width="15.7" height="15.7" fill="#83bcd9"/><rect x="1690" y="1691.1" width="9.3" height="9.3" fill="#d7e8f1"/><rect x="1719.6" y="1691.9" width="7.9" height="7.9" fill="#dfecf3"/><rect x="1656.7" y="1715.7" width="18" height="18" fill="#519cc8"/><rect x="1683.6" y="1713.7" width="22" height="22" fill="#1f5ea0"/><rect x="1721.7" y="1722.8" width="3.8" height="3.8" fill="#f0f4f6"/><rect x="1682.8" y="1741.7" width="23.8" height="23.8" fill="#173b6e"/><rect x="1718" y="1748" width="11.2" height="11.2" fill="#fcd5bf"/><rect x="1716.9" y="1775.8" width="13.4" height="13.4" fill="#f8bea2"/></g>
<g fill="#ED1C24" stroke="#3E4DA0" stroke-width="1.2"><circle cx="1029.5" cy="1117.8" r="3"/><circle cx="1058.4" cy="1146.7" r="3"/><circle cx="1087.3" cy="1175.6" r="3"/><circle cx="1116.3" cy="1204.5" r="3"/><circle cx="1145.2" cy="1233.4" r="3"/><circle cx="1174.1" cy="1262.3" r="3"/><circle cx="1203" cy="1291.2" r="3"/><circle cx="1231.9" cy="1320.1" r="3"/><circle cx="1260.9" cy="1349" r="3"/><circle cx="1289.8" cy="1377.9" r="3"/><circle cx="1318.7" cy="1406.8" r="3"/><circle cx="1347.6" cy="1435.7" r="3"/><circle cx="1376.5" cy="1464.6" r="3"/><circle cx="1405.5" cy="1493.5" r="3"/><circle cx="1434.4" cy="1522.4" r="3"/><circle cx="1463.3" cy="1551.3" r="3"/><circle cx="1492.2" cy="1580.2" r="3"/><circle cx="1521.1" cy="1609.1" r="3"/><circle cx="1550.1" cy="1638" r="3"/><circle cx="1579" cy="1666.9" r="3"/><circle cx="1607.9" cy="1695.8" r="3"/><circle cx="1636.8" cy="1724.7" r="3"/><circle cx="1665.7" cy="1753.6" r="3"/><circle cx="1694.7" cy="1782.5" r="3"/><circle cx="1723.6" cy="1811.4" r="3"/><circle cx="1000.6" cy="1493.4" r="3"/><circle cx="1159.8" cy="1681" r="3"/></g>
<g font-size="14.5"><text transform="translate(1034.6 1093.5) rotate(-90)">MEdarkgrey</text><text transform="translate(1063.5 1093.5) rotate(-90)">MEdarkred</text><text transform="translate(1092.4 1093.5) rotate(-90)">MEmagenta</text><text transform="translate(1121.4 1093.5) rotate(-90)">MEdarkmagenta</text><text transform="translate(1150.3 1093.5) rotate(-90)">MEviolet</text><text transform="translate(1179.2 1093.5) rotate(-90)">MEdarkturquoise</text><text transform="translate(1208.1 1093.5) rotate(-90)">MEgreen</text><text transform="translate(1237 1093.5) rotate(-90)">MEbrown</text><text transform="translate(1266 1093.5) rotate(-90)">MEskyblue</text><text transform="translate(1294.9 1093.5) rotate(-90)">MEtan</text><text transform="translate(1323.8 1093.5) rotate(-90)">MEgrey60</text><text transform="translate(1352.7 1093.5) rotate(-90)">MEorangered4</text><text transform="translate(1381.6 1093.5) rotate(-90)">MEblue</text><text transform="translate(1410.6 1093.5) rotate(-90)">MEmidnightblue</text><text transform="translate(1439.5 1093.5) rotate(-90)">MEblack</text><text transform="translate(1468.4 1093.5) rotate(-90)">MEsalmon</text><text transform="translate(1497.3 1093.5) rotate(-90)">MEpurple</text><text transform="translate(1526.2 1093.5) rotate(-90)">MElightgreen</text><text transform="translate(1555.2 1093.5) rotate(-90)">MEsienna3</text><text transform="translate(1584.1 1093.5) rotate(-90)">MEdarkorange</text><text transform="translate(1613 1093.5) rotate(-90)">MEmediumpurple3</text><text transform="translate(1641.9 1093.5) rotate(-90)">MEdarkolivegreen</text><text transform="translate(1670.8 1093.5) rotate(-90)">MEcyan</text><text transform="translate(1699.8 1093.5) rotate(-90)">MEsaddlebrown</text><text transform="translate(1728.7 1093.5) rotate(-90)">MEgrey</text><text x="1747.4" y="1122.5">MEdarkgrey</text><text x="1747.4" y="1151.4">MEdarkred</text><text x="1747.4" y="1180.3">MEmagenta</text><text x="1747.4" y="1209.2">MEdarkmagenta</text><text x="1747.4" y="1238.1">MEviolet</text><text x="1747.4" y="1267">MEdarkturquoise</text><text x="1747.4" y="1295.9">MEgreen</text><text x="1747.4" y="1324.8">MEbrown</text><text x="1747.4" y="1353.7">MEskyblue</text><text x="1747.4" y="1382.6">MEtan</text><text x="1747.4" y="1411.5">MEgrey60</text><text x="1747.4" y="1440.4">MEorangered4</text><text x="1747.4" y="1469.3">MEblue</text><text x="1747.4" y="1498.2">MEmidnightblue</text><text x="1747.4" y="1527.1">MEblack</text><text x="1747.4" y="1556">MEsalmon</text><text x="1747.4" y="1584.9">MEpurple</text><text x="1747.4" y="1613.8">MElightgreen</text><text x="1747.4" y="1642.7">MEsienna3</text><text x="1747.4" y="1671.6">MEdarkorange</text><text x="1747.4" y="1700.5">MEmediumpurple3</text><text x="1747.4" y="1729.4">MEdarkolivegreen</text><text x="1747.4" y="1758.3">MEcyan</text><text x="1747.4" y="1787.2">MEsaddlebrown</text><text x="1747.4" y="1816.1">MEgrey</text></g>
<g font-size="14.35" text-anchor="end"><text x="986.5" y="1498.6">Disease</text><text x="1145" y="1686.3">Normal</text></g>
<g font-size="14.35"><text x="1891.4" y="1255">Mantel's p</text><text x="1891.4" y="1372.5">Pearson's r</text><text x="1891.4" y="1536.5">Mantel's |r|</text><text x="1891.4" y="1632">zf</text></g><path d="M1893 1274.6H1912" stroke="#D95F02" stroke-width="1.3"/><path d="M1893 1297.7H1912" stroke="#1B9E77" stroke-width="1.3"/><path d="M1893 1320.3H1912" stroke="#C4C4C4" stroke-width="1.2"/><g font-size="11.6"><text x="1922" y="1278.8">&lt;=0.01</text><text x="1922" y="1301.9">0.01−0.05</text><text x="1922" y="1324.5">&gt;0.05</text><text x="1922" y="1411.6">0.4</text><text x="1922" y="1441.4">0.0</text><text x="1922" y="1471.4">−0.4</text><text x="1922" y="1561.1">&lt;0.2</text><text x="1922" y="1583.7">0.2−0.5</text><text x="1922" y="1656">+</text><text x="1922" y="1678.6">−</text></g><defs><linearGradient id="rb" x1="0" y1="0" x2="0" y2="1"><stop offset="0" stop-color="#14305f"/><stop offset="0.1" stop-color="#2166ac"/><stop offset="0.2" stop-color="#4393c3"/><stop offset="0.3" stop-color="#92c5de"/><stop offset="0.4" stop-color="#d1e5f0"/><stop offset="0.5" stop-color="#f7f7f7"/><stop offset="0.6" stop-color="#fddbc7"/><stop offset="0.7" stop-color="#f4a582"/><stop offset="0.8" stop-color="#d6604d"/><stop offset="0.9" stop-color="#b2182b"/><stop offset="1" stop-color="#67001f"/></linearGradient></defs><rect x="1891.4" y="1381.3" width="22.6" height="114.4" fill="url(#rb)"/><path d="M1891.4 1407.4h4.5M1914 1407.4h-4.5M1891.4 1437.2h4.5M1914 1437.2h-4.5M1891.4 1467.2h4.5M1914 1467.2h-4.5" stroke="#fff" stroke-width="0.8" fill="none"/><path d="M1893 1556.9H1912" stroke="#4d4d4d" stroke-width="1.1"/><path d="M1893 1579.5H1912" stroke="#4d4d4d" stroke-width="2.7"/><path d="M1893 1651.8H1912" stroke="#4d4d4d" stroke-width="1.2"/><path d="M1893 1674.4H1912" stroke="#4d4d4d" stroke-width="1.2" stroke-dasharray="3.2 2.2"/></g>
</svg>
</body></html>
